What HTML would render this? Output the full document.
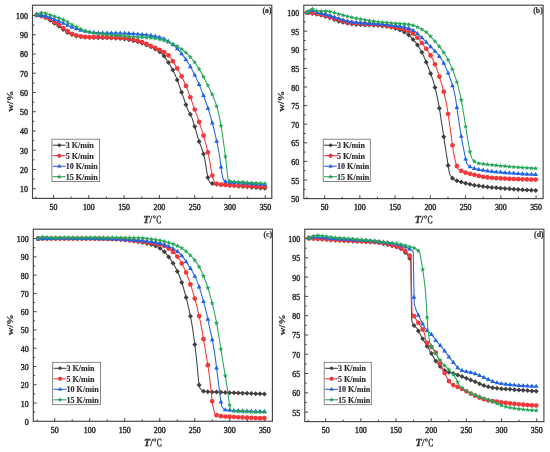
<!DOCTYPE html>
<html lang="en">
<head>
<meta charset="utf-8">
<title>TG curves</title>
<style>
html,body{margin:0;padding:0;background:#fff;}
body{width:550px;height:452px;overflow:hidden;font-family:"Liberation Serif", "Noto Serif CJK SC", serif;}
svg{display:block;filter:blur(0.45px);}
</style>
</head>
<body>
<svg width="550" height="452" viewBox="0 0 550 452" font-family='"Liberation Serif", "Noto Serif CJK SC", serif'>
<rect width="550" height="452" fill="#fff"/>
<g id="panel-a">
<rect x="32.5" y="5.2" width="239.3" height="193.2" fill="#fff" stroke="#444444" stroke-width="1.15"/>
<path d="M53.5 198.4v-3.3M88.8 198.4v-3.3M124.1 198.4v-3.3M159.4 198.4v-3.3M194.7 198.4v-3.3M230 198.4v-3.3M265.3 198.4v-3.3M35.85 198.4v-1.9M71.15 198.4v-1.9M106.45 198.4v-1.9M141.75 198.4v-1.9M177.05 198.4v-1.9M212.35 198.4v-1.9M247.65 198.4v-1.9M32.5 188.7h3.3M32.5 169.46h3.3M32.5 150.21h3.3M32.5 130.97h3.3M32.5 111.72h3.3M32.5 92.48h3.3M32.5 73.23h3.3M32.5 53.99h3.3M32.5 34.74h3.3M32.5 15.5h3.3M32.5 179.08h1.9M32.5 159.83h1.9M32.5 140.59h1.9M32.5 121.34h1.9M32.5 102.1h1.9M32.5 82.86h1.9M32.5 63.61h1.9M32.5 44.37h1.9M32.5 25.12h1.9" stroke="#444444" stroke-width="1" fill="none"/>
<g font-size="7.9" fill="#2e2e2e" stroke="#2e2e2e" stroke-width="0.42">
<text x="53.5" y="210" text-anchor="middle">50</text>
<text x="88.8" y="210" text-anchor="middle">100</text>
<text x="124.1" y="210" text-anchor="middle">150</text>
<text x="159.4" y="210" text-anchor="middle">200</text>
<text x="194.7" y="210" text-anchor="middle">250</text>
<text x="230" y="210" text-anchor="middle">300</text>
<text x="265.3" y="210" text-anchor="middle">350</text>
<text x="27.9" y="192.2" text-anchor="end">10</text>
<text x="27.9" y="172.96" text-anchor="end">20</text>
<text x="27.9" y="153.71" text-anchor="end">30</text>
<text x="27.9" y="134.47" text-anchor="end">40</text>
<text x="27.9" y="115.22" text-anchor="end">50</text>
<text x="27.9" y="95.98" text-anchor="end">60</text>
<text x="27.9" y="76.73" text-anchor="end">70</text>
<text x="27.9" y="57.49" text-anchor="end">80</text>
<text x="27.9" y="38.24" text-anchor="end">90</text>
<text x="27.9" y="19" text-anchor="end">100</text>
</g>
<text x="152.55" y="223.2" font-size="9.6" fill="#2e2e2e" text-anchor="middle"><tspan font-weight="bold" font-style="italic" font-size="10" stroke="#2e2e2e" stroke-width="0.3">T</tspan><tspan stroke="#2e2e2e" stroke-width="0.3">/℃</tspan></text>
<text transform="translate(12.5 101.2) rotate(-90) scale(1.15 1)" font-size="9.2" font-weight="bold" fill="#2e2e2e" stroke="#2e2e2e" stroke-width="0.2" text-anchor="middle">w/%</text>
<text x="271.5" y="13.1" font-size="7.8" font-weight="bold" fill="#2e2e2e" stroke="#2e2e2e" stroke-width="0.2" text-anchor="end">(a)</text>
<path d="M36.84 14.92L37.54 15.07L38.25 15.23L38.96 15.41L39.66 15.61L40.37 15.83L41.07 16.06L41.78 16.3L42.49 16.56L43.19 16.83L43.9 17.11L44.6 17.4L45.31 17.7L46.02 18.01L46.44 18.19L46.72 18.32L47.43 18.67L48.13 19.05L48.84 19.46L49.55 19.89L50.25 20.35L50.96 20.82L51.66 21.31L52.37 21.81L53.08 22.32L53.78 22.83L54.49 23.34L55.19 23.84L55.9 24.34L56.61 24.83L57.03 25.12L57.31 25.31L58.02 25.8L58.72 26.31L59.43 26.82L60.14 27.34L60.84 27.87L61.55 28.4L62.25 28.92L62.96 29.44L63.67 29.94L64.37 30.44L65.08 30.91L65.78 31.37L66.49 31.8L67.2 32.21L67.62 32.44L67.9 32.58L68.61 32.96L69.31 33.32L70.02 33.68L70.73 34.03L71.43 34.36L72.14 34.67L72.84 34.95L73.55 35.2L74.26 35.41L74.68 35.51L74.96 35.58L75.67 35.74L76.37 35.9L77.08 36.05L77.79 36.2L78.49 36.34L79.2 36.48L79.9 36.61L80.61 36.73L81.32 36.84L82.02 36.95L82.73 37.05L83.43 37.13L84.14 37.21L84.85 37.28L85.55 37.34L86.26 37.39L86.96 37.42L87.39 37.44L87.67 37.45L88.38 37.47L89.08 37.49L89.79 37.51L90.49 37.52L91.2 37.54L91.91 37.55L92.61 37.57L93.32 37.58L94.02 37.59L94.73 37.6L95.44 37.61L96.14 37.61L96.85 37.62L97.55 37.63L98.26 37.64L98.97 37.64L99.67 37.65L100.38 37.66L101.08 37.66L101.79 37.67L102.5 37.68L103.2 37.69L103.91 37.7L104.61 37.71L105.32 37.72L106.03 37.73L106.73 37.74L107.44 37.76L108.14 37.77L108.85 37.79L109.56 37.81L109.98 37.82L110.26 37.83L110.97 37.86L111.67 37.89L112.38 37.92L113.09 37.96L113.79 38L114.5 38.05L115.2 38.1L115.91 38.15L116.62 38.21L117.32 38.27L118.03 38.34L118.73 38.4L119.44 38.47L120.15 38.54L120.85 38.62L121.56 38.69L122.26 38.77L122.97 38.85L123.68 38.93L124.1 38.98L124.38 39.01L125.09 39.1L125.79 39.2L126.5 39.3L127.21 39.41L127.91 39.53L128.62 39.65L129.32 39.79L130.03 39.92L130.74 40.06L131.44 40.21L132.15 40.36L132.85 40.52L133.56 40.69L134.27 40.85L134.97 41.02L135.68 41.2L136.38 41.38L137.09 41.56L137.51 41.67L137.8 41.75L138.5 41.95L139.21 42.16L139.91 42.38L140.62 42.61L141.33 42.85L142.03 43.1L142.74 43.36L143.44 43.63L144.15 43.91L144.86 44.2L145.56 44.49L146.27 44.79L146.97 45.09L147.68 45.4L148.39 45.72L148.81 45.91L149.09 46.03L149.8 46.35L150.5 46.67L151.21 47L151.92 47.33L152.62 47.66L153.33 48.01L154.03 48.36L154.74 48.73L155.45 49.11L156.15 49.51L156.86 49.93L157.56 50.36L158.27 50.82L158.98 51.3L159.68 51.81L160.39 52.35L161.09 52.91L161.24 53.03L161.8 53.53L162.51 54.25L163.21 55.06L163.92 55.94L164.62 56.89L165.33 57.89L166.04 58.92L166.74 59.98L167.45 61.05L167.87 61.69L168.15 62.12L168.86 63.21L169.57 64.34L170.27 65.51L170.98 66.72L171.68 67.97L172.39 69.28L173.1 70.63L173.8 72.03L174.51 73.49L174.93 74.39L175.21 75.01L175.92 76.65L176.63 78.41L177.33 80.26L178.04 82.19L178.74 84.18L179.45 86.2L180.16 88.23L180.86 90.26L181.57 92.26L182.27 94.21L182.35 94.4L182.98 96.16L183.69 98.18L184.39 100.24L185.1 102.29L185.8 104.31L186.51 106.26L187.22 108.11L187.92 109.82L188.35 110.76L188.63 111.34L189.33 112.61L190.04 113.79L190.75 115.07L191.17 115.96L191.45 116.61L192.16 118.43L192.86 120.47L193.57 122.69L194.28 125.04L194.98 127.49L195.69 129.98L196.39 132.48L197.1 134.95L197.81 137.33L198.51 139.6L198.58 139.82L199.22 141.7L199.92 143.66L200.63 145.55L201.34 147.43L202.04 149.38L202.75 151.46L203.45 153.74L204.16 156.29L204.23 156.56L204.87 159.56L205.57 163.79L206.28 168.43L206.98 172.93L207.69 176.74L208.4 179.3L208.47 179.46L209.1 180.79L209.81 182L210.51 182.84L210.94 183.12L211.22 183.24L211.93 183.5L212.63 183.7L213.34 183.87L214.04 184.01L214.75 184.12L215.46 184.22L215.88 184.27L216.16 184.31L216.87 184.4L217.57 184.48L218.28 184.55L218.99 184.62L219.69 184.69L220.4 184.75L221.1 184.8L221.81 184.86L222.52 184.91L223.22 184.96L223.93 185.01L224.63 185.05L225.34 185.1L226.05 185.14L226.75 185.19L227.46 185.24L228.16 185.29L228.87 185.34L229.58 185.39L230 185.43L230.28 185.45L230.99 185.51L231.69 185.57L232.4 185.62L233.11 185.68L233.81 185.74L234.52 185.8L235.22 185.86L235.93 185.91L236.64 185.97L237.34 186.03L238.05 186.09L238.75 186.14L239.46 186.2L240.17 186.26L240.87 186.32L241.58 186.38L242.28 186.43L242.99 186.49L243.7 186.55L244.4 186.61L245.11 186.66L245.81 186.72L246.52 186.78L247.23 186.84L247.93 186.89L248.64 186.95L249.34 187.01L250.05 187.07L250.76 187.13L251.18 187.16L251.46 187.18L252.17 187.24L252.87 187.3L253.58 187.36L254.29 187.41L254.99 187.47L255.7 187.53L256.4 187.59L257.11 187.65L257.82 187.7L258.52 187.76L259.23 187.82L259.93 187.88L260.64 187.93L261.35 187.99L262.05 188.05L262.76 188.11L263.46 188.17L264.17 188.22L264.88 188.28" fill="none" stroke="#404040" stroke-width="1.05" stroke-linejoin="round"/>
<path d="M264.88 185.78L267.38 188.28L264.88 190.78L262.38 188.28Z" fill="#404040"/><path d="M260.49 185.42L262.99 187.92L260.49 190.42L257.99 187.92Z" fill="#404040"/><path d="M256.11 185.06L258.61 187.56L256.11 190.06L253.61 187.56Z" fill="#404040"/><path d="M251.72 184.7L254.22 187.2L251.72 189.7L249.22 187.2Z" fill="#404040"/><path d="M247.34 184.35L249.84 186.85L247.34 189.35L244.84 186.85Z" fill="#404040"/><path d="M242.96 183.99L245.46 186.49L242.96 188.99L240.46 186.49Z" fill="#404040"/><path d="M238.57 183.63L241.07 186.13L238.57 188.63L236.07 186.13Z" fill="#404040"/><path d="M234.19 183.27L236.69 185.77L234.19 188.27L231.69 185.77Z" fill="#404040"/><path d="M229.8 182.91L232.3 185.41L229.8 187.91L227.3 185.41Z" fill="#404040"/><path d="M225.42 182.6L227.92 185.1L225.42 187.6L222.92 185.1Z" fill="#404040"/><path d="M221.03 182.3L223.53 184.8L221.03 187.3L218.53 184.8Z" fill="#404040"/><path d="M216.65 181.87L219.15 184.37L216.65 186.87L214.15 184.37Z" fill="#404040"/><path d="M212.27 181.1L214.77 183.6L212.27 186.1L209.77 183.6Z" fill="#404040"/><path d="M207.88 175.08L210.38 177.58L207.88 180.08L205.38 177.58Z" fill="#404040"/><path d="M203.5 151.38L206 153.88L203.5 156.38L201 153.88Z" fill="#404040"/><path d="M199.11 138.9L201.61 141.4L199.11 143.9L196.61 141.4Z" fill="#404040"/><path d="M194.73 124.1L197.23 126.6L194.73 129.1L192.23 126.6Z" fill="#404040"/><path d="M190.34 111.82L192.84 114.32L190.34 116.82L187.84 114.32Z" fill="#404040"/><path d="M185.96 102.25L188.46 104.75L185.96 107.25L183.46 104.75Z" fill="#404040"/><path d="M181.58 89.78L184.08 92.28L181.58 94.78L179.08 92.28Z" fill="#404040"/><path d="M177.19 77.39L179.69 79.89L177.19 82.39L174.69 79.89Z" fill="#404040"/><path d="M172.81 67.57L175.31 70.07L172.81 72.57L170.31 70.07Z" fill="#404040"/><path d="M168.42 60.03L170.92 62.53L168.42 65.03L165.92 62.53Z" fill="#404040"/><path d="M164.04 53.6L166.54 56.1L164.04 58.6L161.54 56.1Z" fill="#404040"/><path d="M159.65 49.29L162.15 51.79L159.65 54.29L157.15 51.79Z" fill="#404040"/><path d="M155.27 46.51L157.77 49.01L155.27 51.51L152.77 49.01Z" fill="#404040"/><path d="M150.89 44.35L153.39 46.85L150.89 49.35L148.39 46.85Z" fill="#404040"/><path d="M146.5 42.39L149 44.89L146.5 47.39L144 44.89Z" fill="#404040"/><path d="M142.12 40.63L144.62 43.13L142.12 45.63L139.62 43.13Z" fill="#404040"/><path d="M137.73 39.23L140.23 41.73L137.73 44.23L135.23 41.73Z" fill="#404040"/><path d="M133.35 38.14L135.85 40.64L133.35 43.14L130.85 40.64Z" fill="#404040"/><path d="M128.96 37.22L131.46 39.72L128.96 42.22L126.46 39.72Z" fill="#404040"/><path d="M124.58 36.54L127.08 39.04L124.58 41.54L122.08 39.04Z" fill="#404040"/><path d="M120.2 36.05L122.7 38.55L120.2 41.05L117.7 38.55Z" fill="#404040"/><path d="M115.81 35.65L118.31 38.15L115.81 40.65L113.31 38.15Z" fill="#404040"/><path d="M111.43 35.38L113.93 37.88L111.43 40.38L108.93 37.88Z" fill="#404040"/><path d="M107.04 35.25L109.54 37.75L107.04 40.25L104.54 37.75Z" fill="#404040"/><path d="M102.66 35.18L105.16 37.68L102.66 40.18L100.16 37.68Z" fill="#404040"/><path d="M98.27 35.14L100.77 37.64L98.27 40.14L95.77 37.64Z" fill="#404040"/><path d="M93.89 35.09L96.39 37.59L93.89 40.09L91.39 37.59Z" fill="#404040"/><path d="M89.51 35L92.01 37.5L89.51 40L87.01 37.5Z" fill="#404040"/><path d="M85.12 34.8L87.62 37.3L85.12 39.8L82.62 37.3Z" fill="#404040"/><path d="M80.74 34.25L83.24 36.75L80.74 39.25L78.24 36.75Z" fill="#404040"/><path d="M76.35 33.4L78.85 35.9L76.35 38.4L73.85 35.9Z" fill="#404040"/><path d="M71.97 32.1L74.47 34.6L71.97 37.1L69.47 34.6Z" fill="#404040"/><path d="M67.58 29.92L70.08 32.42L67.58 34.92L65.08 32.42Z" fill="#404040"/><path d="M63.2 27.11L65.7 29.61L63.2 32.11L60.7 29.61Z" fill="#404040"/><path d="M58.82 23.87L61.32 26.37L58.82 28.87L56.32 26.37Z" fill="#404040"/><path d="M54.43 20.8L56.93 23.3L54.43 25.8L51.93 23.3Z" fill="#404040"/><path d="M50.05 17.71L52.55 20.21L50.05 22.71L47.55 20.21Z" fill="#404040"/><path d="M45.66 15.35L48.16 17.85L45.66 20.35L43.16 17.85Z" fill="#404040"/><path d="M41.28 13.63L43.78 16.13L41.28 18.63L38.78 16.13Z" fill="#404040"/><path d="M36.89 12.43L39.39 14.93L36.89 17.43L34.39 14.93Z" fill="#404040"/><path d="M36.84 12.42L39.34 14.92L36.84 17.42L34.34 14.92Z" fill="#404040"/>
<path d="M36.84 14.92L37.54 15.01L38.25 15.12L38.96 15.24L39.66 15.39L40.37 15.55L41.07 15.72L41.78 15.91L42.49 16.12L43.19 16.33L43.9 16.55L44.6 16.79L45.31 17.03L46.02 17.27L46.44 17.42L46.72 17.53L47.43 17.81L48.13 18.13L48.84 18.47L49.55 18.85L50.25 19.24L50.96 19.66L51.66 20.09L52.37 20.53L53.08 20.99L53.78 21.45L54.49 21.92L55.19 22.38L55.9 22.85L56.61 23.31L57.03 23.58L57.31 23.76L58.02 24.23L58.72 24.72L59.43 25.22L60.14 25.74L60.84 26.26L61.55 26.79L62.25 27.32L62.96 27.85L63.67 28.37L64.37 28.89L65.08 29.4L65.78 29.89L66.49 30.37L67.2 30.82L67.62 31.09L67.9 31.26L68.61 31.71L69.31 32.16L70.02 32.61L70.73 33.06L71.43 33.48L72.14 33.88L72.84 34.24L73.55 34.55L74.26 34.81L74.68 34.94L74.96 35.01L75.67 35.2L76.37 35.38L77.08 35.55L77.79 35.72L78.49 35.88L79.2 36.04L79.9 36.18L80.61 36.32L81.32 36.44L82.02 36.56L82.73 36.67L83.43 36.76L84.14 36.84L84.85 36.91L85.55 36.97L86.26 37.01L86.96 37.04L87.39 37.05L87.67 37.06L88.38 37.07L89.08 37.08L89.79 37.09L90.49 37.1L91.2 37.11L91.91 37.11L92.61 37.12L93.32 37.13L94.02 37.13L94.73 37.14L95.44 37.14L96.14 37.14L96.85 37.15L97.55 37.15L98.26 37.15L98.97 37.16L99.67 37.16L100.38 37.16L101.08 37.17L101.79 37.17L102.5 37.17L103.2 37.18L103.91 37.18L104.61 37.19L105.32 37.19L106.03 37.2L106.73 37.21L107.44 37.21L108.14 37.22L108.85 37.23L109.56 37.24L109.98 37.25L110.26 37.25L110.97 37.26L111.67 37.28L112.38 37.3L113.09 37.33L113.79 37.35L114.5 37.38L115.2 37.41L115.91 37.45L116.62 37.49L117.32 37.53L118.03 37.57L118.73 37.61L119.44 37.66L120.15 37.71L120.85 37.76L121.56 37.81L122.26 37.87L122.97 37.92L123.68 37.98L124.1 38.02L124.38 38.04L125.09 38.11L125.79 38.19L126.5 38.27L127.21 38.37L127.91 38.47L128.62 38.59L129.32 38.71L130.03 38.83L130.74 38.97L131.44 39.11L132.15 39.25L132.85 39.4L133.56 39.56L134.27 39.72L134.97 39.89L135.68 40.06L136.38 40.23L137.09 40.41L137.51 40.52L137.8 40.59L138.5 40.79L139.21 41L139.91 41.23L140.62 41.48L141.33 41.74L142.03 42.01L142.74 42.29L143.44 42.58L144.15 42.88L144.86 43.19L145.56 43.51L146.27 43.83L146.97 44.16L147.68 44.49L148.39 44.82L149.09 45.16L149.8 45.49L150.5 45.82L151.21 46.15L151.92 46.48L152.34 46.68L152.62 46.8L153.33 47.12L154.03 47.42L154.74 47.72L155.45 48.02L156.15 48.31L156.86 48.6L157.56 48.9L158.27 49.2L158.98 49.5L159.68 49.82L160.39 50.14L161.09 50.48L161.8 50.83L162.51 51.2L163.21 51.58L163.92 51.99L164.62 52.42L165.33 52.87L166.04 53.35L166.74 53.86L167.17 54.18L167.45 54.41L168.15 55.04L168.86 55.77L169.57 56.59L170.27 57.48L170.98 58.44L171.68 59.46L172.39 60.52L173.1 61.62L173.8 62.74L174.51 63.89L175.21 65.04L175.92 66.2L176.34 66.88L176.63 67.34L177.33 68.52L178.04 69.73L178.74 70.99L179.45 72.28L180.16 73.6L180.86 74.97L181.57 76.37L182.27 77.8L182.98 79.27L183.69 80.77L184.39 82.3L184.82 83.24L185.1 83.87L185.8 85.51L186.51 87.21L187.22 88.97L187.92 90.78L188.63 92.63L189.33 94.52L190.04 96.45L190.75 98.39L191.45 100.36L192.16 102.33L192.86 104.31L193.57 106.28L194.28 108.24L194.7 109.41L194.98 110.19L195.69 112.14L196.39 114.1L197.1 116.08L197.81 118.09L198.51 120.12L199.22 122.2L199.64 123.46L199.92 124.31L200.63 126.44L201.34 128.6L202.04 130.81L202.75 133.07L203.45 135.41L204.16 137.84L204.23 138.09L204.87 140.37L205.57 143L206.28 145.72L206.98 148.55L207.69 151.48L208.4 154.52L208.47 154.83L209.1 157.9L209.81 161.81L210.51 165.96L211.22 170.08L211.93 173.9L212.63 177.13L213.34 179.5L213.48 179.85L214.04 181.11L214.75 182.49L215.46 183.44L215.88 183.7L216.16 183.78L216.87 183.95L217.57 184.1L218.28 184.21L218.99 184.31L219.69 184.39L220.4 184.46L221.1 184.52L221.81 184.57L222.52 184.62L222.94 184.66L223.22 184.68L223.93 184.74L224.63 184.79L225.34 184.85L226.05 184.9L226.75 184.94L227.46 184.99L228.16 185.04L228.87 185.08L229.58 185.12L230.28 185.16L230.99 185.2L231.69 185.23L232.4 185.27L233.11 185.31L233.81 185.34L234.52 185.37L235.22 185.41L235.93 185.44L236.64 185.47L237.34 185.5L238.05 185.53L238.75 185.57L239.46 185.6L240.17 185.63L240.87 185.66L241.58 185.69L242.28 185.73L242.99 185.76L243.7 185.79L244.12 185.81L244.4 185.83L245.11 185.86L245.81 185.9L246.52 185.93L247.23 185.97L247.93 186L248.64 186.03L249.34 186.07L250.05 186.1L250.76 186.13L251.46 186.17L252.17 186.2L252.87 186.23L253.58 186.27L254.29 186.3L254.99 186.33L255.7 186.36L256.4 186.39L257.11 186.43L257.82 186.46L258.52 186.49L259.23 186.52L259.93 186.55L260.64 186.58L261.35 186.61L262.05 186.64L262.76 186.67L263.46 186.7L264.17 186.73L264.88 186.76" fill="none" stroke="#f2373a" stroke-width="1.05" stroke-linejoin="round"/>
<circle cx="264.88" cy="186.76" r="2.35" fill="#f2373a"/><circle cx="260.49" cy="186.57" r="2.35" fill="#f2373a"/><circle cx="256.11" cy="186.38" r="2.35" fill="#f2373a"/><circle cx="251.72" cy="186.18" r="2.35" fill="#f2373a"/><circle cx="247.34" cy="185.97" r="2.35" fill="#f2373a"/><circle cx="242.96" cy="185.76" r="2.35" fill="#f2373a"/><circle cx="238.57" cy="185.56" r="2.35" fill="#f2373a"/><circle cx="234.19" cy="185.36" r="2.35" fill="#f2373a"/><circle cx="229.8" cy="185.13" r="2.35" fill="#f2373a"/><circle cx="225.42" cy="184.85" r="2.35" fill="#f2373a"/><circle cx="221.03" cy="184.51" r="2.35" fill="#f2373a"/><circle cx="216.65" cy="183.9" r="2.35" fill="#f2373a"/><circle cx="212.27" cy="175.54" r="2.35" fill="#f2373a"/><circle cx="207.88" cy="152.29" r="2.35" fill="#f2373a"/><circle cx="203.5" cy="135.55" r="2.35" fill="#f2373a"/><circle cx="199.11" cy="121.88" r="2.35" fill="#f2373a"/><circle cx="194.73" cy="109.49" r="2.35" fill="#f2373a"/><circle cx="190.34" cy="97.28" r="2.35" fill="#f2373a"/><circle cx="185.96" cy="85.88" r="2.35" fill="#f2373a"/><circle cx="181.58" cy="76.38" r="2.35" fill="#f2373a"/><circle cx="177.19" cy="68.28" r="2.35" fill="#f2373a"/><circle cx="172.81" cy="61.16" r="2.35" fill="#f2373a"/><circle cx="168.42" cy="55.31" r="2.35" fill="#f2373a"/><circle cx="164.04" cy="52.06" r="2.35" fill="#f2373a"/><circle cx="159.65" cy="49.8" r="2.35" fill="#f2373a"/><circle cx="155.27" cy="47.94" r="2.35" fill="#f2373a"/><circle cx="150.89" cy="46" r="2.35" fill="#f2373a"/><circle cx="146.5" cy="43.94" r="2.35" fill="#f2373a"/><circle cx="142.12" cy="42.04" r="2.35" fill="#f2373a"/><circle cx="137.73" cy="40.57" r="2.35" fill="#f2373a"/><circle cx="133.35" cy="39.51" r="2.35" fill="#f2373a"/><circle cx="128.96" cy="38.64" r="2.35" fill="#f2373a"/><circle cx="124.58" cy="38.06" r="2.35" fill="#f2373a"/><circle cx="120.2" cy="37.71" r="2.35" fill="#f2373a"/><circle cx="115.81" cy="37.44" r="2.35" fill="#f2373a"/><circle cx="111.43" cy="37.28" r="2.35" fill="#f2373a"/><circle cx="107.04" cy="37.21" r="2.35" fill="#f2373a"/><circle cx="102.66" cy="37.17" r="2.35" fill="#f2373a"/><circle cx="98.27" cy="37.15" r="2.35" fill="#f2373a"/><circle cx="93.89" cy="37.13" r="2.35" fill="#f2373a"/><circle cx="89.51" cy="37.09" r="2.35" fill="#f2373a"/><circle cx="85.12" cy="36.94" r="2.35" fill="#f2373a"/><circle cx="80.74" cy="36.34" r="2.35" fill="#f2373a"/><circle cx="76.35" cy="35.37" r="2.35" fill="#f2373a"/><circle cx="71.97" cy="33.79" r="2.35" fill="#f2373a"/><circle cx="67.58" cy="31.07" r="2.35" fill="#f2373a"/><circle cx="63.2" cy="28.03" r="2.35" fill="#f2373a"/><circle cx="58.82" cy="24.79" r="2.35" fill="#f2373a"/><circle cx="54.43" cy="21.88" r="2.35" fill="#f2373a"/><circle cx="50.05" cy="19.12" r="2.35" fill="#f2373a"/><circle cx="45.66" cy="17.15" r="2.35" fill="#f2373a"/><circle cx="41.28" cy="15.78" r="2.35" fill="#f2373a"/><circle cx="36.89" cy="14.93" r="2.35" fill="#f2373a"/><circle cx="36.84" cy="14.92" r="2.35" fill="#f2373a"/>
<path d="M36.84 14.92L37.54 14.93L38.25 14.97L38.96 15.02L39.66 15.08L40.37 15.16L41.07 15.26L41.78 15.37L42.49 15.49L43.19 15.61L43.9 15.75L44.6 15.89L45.31 16.03L46.02 16.18L46.44 16.27L46.72 16.33L47.43 16.52L48.13 16.74L48.84 17L49.55 17.28L50.25 17.57L50.96 17.88L51.66 18.19L52.37 18.49L53.08 18.79L53.5 18.96L53.78 19.08L54.49 19.36L55.19 19.65L55.9 19.94L56.61 20.23L57.31 20.52L58.02 20.82L58.72 21.12L59.43 21.42L60.14 21.72L60.84 22.02L61.55 22.32L62.25 22.63L62.68 22.81L62.96 22.94L63.67 23.25L64.37 23.58L65.08 23.91L65.78 24.25L66.49 24.59L67.2 24.94L67.9 25.28L68.61 25.62L69.31 25.96L70.02 26.29L70.73 26.62L71.43 26.93L72.14 27.24L72.84 27.53L73.55 27.8L74.26 28.06L74.68 28.2L74.96 28.3L75.67 28.53L76.37 28.76L77.08 28.99L77.79 29.21L78.49 29.44L79.2 29.65L79.9 29.86L80.61 30.07L81.32 30.27L82.02 30.46L82.73 30.64L83.43 30.81L84.14 30.98L84.85 31.13L85.55 31.28L86.26 31.41L86.96 31.53L87.67 31.64L87.81 31.67L88.38 31.75L89.08 31.84L89.79 31.94L90.49 32.04L91.2 32.13L91.91 32.21L92.61 32.3L93.32 32.38L94.02 32.45L94.73 32.52L95.44 32.58L96.14 32.64L96.85 32.69L97.55 32.74L98.26 32.78L98.97 32.81L99.39 32.82L99.67 32.83L100.38 32.85L101.08 32.87L101.79 32.88L102.5 32.9L103.2 32.91L103.91 32.93L104.61 32.94L105.32 32.95L106.03 32.96L106.73 32.97L107.44 32.98L108.14 32.99L108.85 32.99L109.56 33L110.26 33.01L110.97 33.02L111.67 33.02L112.38 33.03L113.09 33.04L113.79 33.04L114.5 33.05L115.2 33.06L115.91 33.06L116.62 33.07L117.32 33.08L118.03 33.09L118.73 33.1L119.44 33.11L120.15 33.12L120.85 33.13L121.56 33.15L122.26 33.16L122.97 33.18L123.68 33.19L124.1 33.2L124.38 33.21L125.09 33.23L125.79 33.26L126.5 33.28L127.21 33.31L127.91 33.35L128.62 33.38L129.32 33.42L130.03 33.46L130.74 33.5L131.44 33.54L132.15 33.59L132.85 33.64L133.56 33.69L134.27 33.74L134.97 33.79L135.68 33.85L136.38 33.9L137.09 33.96L137.8 34.02L138.5 34.08L139.21 34.14L139.91 34.2L140.62 34.26L141.33 34.32L141.75 34.36L142.03 34.38L142.74 34.45L143.44 34.52L144.15 34.59L144.86 34.67L145.56 34.75L146.27 34.84L146.97 34.92L147.68 35.01L148.39 35.11L149.09 35.21L149.8 35.31L150.5 35.42L151.21 35.52L151.92 35.64L152.34 35.71L152.62 35.75L153.33 35.87L154.03 36L154.74 36.13L155.45 36.26L156.15 36.41L156.86 36.56L157.56 36.71L158.27 36.88L158.98 37.06L159.68 37.24L160.39 37.44L161.09 37.65L161.8 37.88L162.22 38.02L162.51 38.11L163.21 38.39L163.92 38.69L164.62 39.03L165.33 39.4L166.04 39.79L166.74 40.22L167.45 40.66L168.15 41.12L168.86 41.6L169.57 42.1L170.27 42.61L170.98 43.13L171.68 43.66L172.11 43.98L172.39 44.2L173.1 44.77L173.8 45.37L174.51 46.01L175.21 46.68L175.92 47.38L176.63 48.1L177.33 48.84L178.04 49.61L178.74 50.39L179.45 51.19L179.87 51.68L180.16 52.01L180.86 52.84L181.57 53.7L182.27 54.59L182.98 55.5L183.69 56.43L184.39 57.39L185.1 58.37L185.8 59.39L186.51 60.42L187.22 61.49L187.92 62.58L188.63 63.69L189.33 64.84L189.76 65.54L190.04 66.01L190.75 67.22L191.45 68.48L192.16 69.78L192.86 71.12L193.57 72.5L194.28 73.91L194.98 75.37L195.69 76.85L196.39 78.37L197.1 79.92L197.81 81.5L198.51 83.11L199.22 84.75L199.64 85.74L199.92 86.41L200.63 88.11L201.34 89.86L202.04 91.65L202.75 93.48L203.45 95.35L204.16 97.26L204.87 99.22L205.57 101.23L206.28 103.27L206.98 105.36L207.69 107.5L208.4 109.68L209.1 111.91L209.53 113.26L209.81 114.18L210.51 116.55L211.22 119.02L211.93 121.59L212.63 124.25L213.34 126.99L214.04 129.82L214.19 130.39L214.75 132.72L215.46 135.72L216.16 138.83L216.87 142.04L217.57 145.38L218.28 148.84L218.7 150.98L218.99 152.52L219.69 157.04L220.4 162.14L221.1 167.36L221.81 172.22L222.52 176.27L223.22 179.01L223.65 179.85L223.93 180.16L224.63 180.83L225.34 181.34L226.05 181.67L226.47 181.77L226.75 181.82L227.46 181.91L228.16 181.99L228.87 182.06L229.58 182.11L230.28 182.16L230.99 182.2L231.69 182.24L232.4 182.28L233.11 182.32L233.53 182.35L233.81 182.37L234.52 182.42L235.22 182.47L235.93 182.52L236.64 182.57L237.34 182.62L238.05 182.66L238.75 182.71L239.46 182.76L240.17 182.8L240.87 182.85L241.58 182.89L242.28 182.94L242.99 182.98L243.7 183.03L244.4 183.07L245.11 183.11L245.81 183.16L246.52 183.2L247.23 183.25L247.93 183.29L248.64 183.34L249.34 183.38L250.05 183.43L250.76 183.48L251.18 183.5L251.46 183.52L252.17 183.57L252.87 183.62L253.58 183.66L254.29 183.71L254.99 183.76L255.7 183.81L256.4 183.86L257.11 183.9L257.82 183.95L258.52 184L259.23 184.05L259.93 184.1L260.64 184.14L261.35 184.19L262.05 184.24L262.76 184.29L263.46 184.34L264.17 184.39L264.88 184.44" fill="none" stroke="#1f63e8" stroke-width="1.05" stroke-linejoin="round"/>
<path d="M264.88 181.84L267.27 186.05L262.48 186.05Z" fill="#1f63e8"/><path d="M260.49 181.53L262.88 185.75L258.1 185.75Z" fill="#1f63e8"/><path d="M256.11 181.24L258.5 185.45L253.72 185.45Z" fill="#1f63e8"/><path d="M251.72 180.94L254.12 185.15L249.33 185.15Z" fill="#1f63e8"/><path d="M247.34 180.66L249.73 184.87L244.95 184.87Z" fill="#1f63e8"/><path d="M242.96 180.38L245.35 184.59L240.56 184.59Z" fill="#1f63e8"/><path d="M238.57 180.1L240.96 184.31L236.18 184.31Z" fill="#1f63e8"/><path d="M234.19 179.8L236.58 184.01L231.79 184.01Z" fill="#1f63e8"/><path d="M229.8 179.53L232.19 183.74L227.41 183.74Z" fill="#1f63e8"/><path d="M225.42 178.78L227.81 182.99L223.03 182.99Z" fill="#1f63e8"/><path d="M221.03 164.24L223.43 168.46L218.64 168.46Z" fill="#1f63e8"/><path d="M216.65 138.43L219.04 142.64L214.26 142.64Z" fill="#1f63e8"/><path d="M212.27 120.26L214.66 124.47L209.87 124.47Z" fill="#1f63e8"/><path d="M207.88 105.48L210.27 109.7L205.49 109.7Z" fill="#1f63e8"/><path d="M203.5 92.86L205.89 97.07L201.1 97.07Z" fill="#1f63e8"/><path d="M199.11 81.9L201.5 86.11L196.72 86.11Z" fill="#1f63e8"/><path d="M194.73 72.24L197.12 76.45L192.34 76.45Z" fill="#1f63e8"/><path d="M190.34 63.93L192.74 68.14L187.95 68.14Z" fill="#1f63e8"/><path d="M185.96 57.01L188.35 61.22L183.57 61.22Z" fill="#1f63e8"/><path d="M181.58 51.11L183.97 55.32L179.18 55.32Z" fill="#1f63e8"/><path d="M177.19 46.09L179.58 50.3L174.8 50.3Z" fill="#1f63e8"/><path d="M172.81 41.93L175.2 46.14L170.41 46.14Z" fill="#1f63e8"/><path d="M168.42 38.7L170.81 42.92L166.03 42.92Z" fill="#1f63e8"/><path d="M164.04 36.15L166.43 40.36L161.65 40.36Z" fill="#1f63e8"/><path d="M159.65 34.64L162.05 38.85L157.26 38.85Z" fill="#1f63e8"/><path d="M155.27 33.63L157.66 37.84L152.88 37.84Z" fill="#1f63e8"/><path d="M150.89 32.87L153.28 37.09L148.49 37.09Z" fill="#1f63e8"/><path d="M146.5 32.26L148.89 36.48L144.11 36.48Z" fill="#1f63e8"/><path d="M142.12 31.79L144.51 36L139.73 36Z" fill="#1f63e8"/><path d="M137.73 31.41L140.12 35.62L135.34 35.62Z" fill="#1f63e8"/><path d="M133.35 31.07L135.74 35.29L130.96 35.29Z" fill="#1f63e8"/><path d="M128.96 30.8L131.36 35.01L126.57 35.01Z" fill="#1f63e8"/><path d="M124.58 30.62L126.97 34.83L122.19 34.83Z" fill="#1f63e8"/><path d="M120.2 30.52L122.59 34.73L117.8 34.73Z" fill="#1f63e8"/><path d="M115.81 30.46L118.2 34.68L113.42 34.68Z" fill="#1f63e8"/><path d="M111.43 30.42L113.82 34.63L109.04 34.63Z" fill="#1f63e8"/><path d="M107.04 30.37L109.44 34.59L104.65 34.59Z" fill="#1f63e8"/><path d="M102.66 30.3L105.05 34.51L100.27 34.51Z" fill="#1f63e8"/><path d="M98.27 30.18L100.67 34.39L95.88 34.39Z" fill="#1f63e8"/><path d="M93.89 29.84L96.28 34.05L91.5 34.05Z" fill="#1f63e8"/><path d="M89.51 29.3L91.9 33.52L87.11 33.52Z" fill="#1f63e8"/><path d="M85.12 28.59L87.51 32.8L82.73 32.8Z" fill="#1f63e8"/><path d="M80.74 27.5L83.13 31.72L78.35 31.72Z" fill="#1f63e8"/><path d="M76.35 26.15L78.75 30.37L73.96 30.37Z" fill="#1f63e8"/><path d="M71.97 24.56L74.36 28.78L69.58 28.78Z" fill="#1f63e8"/><path d="M67.58 22.53L69.98 26.74L65.19 26.74Z" fill="#1f63e8"/><path d="M63.2 20.44L65.59 24.65L60.81 24.65Z" fill="#1f63e8"/><path d="M58.82 18.56L61.21 22.77L56.42 22.77Z" fill="#1f63e8"/><path d="M54.43 16.74L56.82 20.95L52.04 20.95Z" fill="#1f63e8"/><path d="M50.05 14.88L52.44 19.1L47.66 19.1Z" fill="#1f63e8"/><path d="M45.66 13.51L48.06 17.72L43.27 17.72Z" fill="#1f63e8"/><path d="M41.28 12.69L43.67 16.9L38.89 16.9Z" fill="#1f63e8"/><path d="M36.89 12.32L39.29 16.53L34.5 16.53Z" fill="#1f63e8"/><path d="M36.84 12.32L39.23 16.53L34.45 16.53Z" fill="#1f63e8"/>
<path d="M36.84 14.92L37.54 14.41L38.25 13.93L38.96 13.5L39.66 13.13L40.37 12.86L41.07 12.68L41.78 12.61L42.49 12.64L43.19 12.73L43.9 12.87L44.6 13.05L45.31 13.26L46.02 13.49L46.72 13.75L47.43 14.01L48.13 14.28L48.84 14.54L49.55 14.78L49.97 14.92L50.25 15.01L50.96 15.24L51.66 15.46L52.37 15.69L53.08 15.92L53.78 16.16L54.49 16.4L55.19 16.64L55.9 16.89L56.61 17.14L57.31 17.4L58.02 17.66L58.72 17.93L59.43 18.2L60.14 18.48L60.84 18.77L61.55 19.06L62.25 19.36L62.68 19.54L62.96 19.67L63.67 19.99L64.37 20.34L65.08 20.7L65.78 21.07L66.49 21.46L67.2 21.86L67.9 22.26L68.61 22.67L69.31 23.09L70.02 23.5L70.73 23.91L71.43 24.33L72.14 24.73L72.84 25.13L73.55 25.52L74.26 25.9L74.96 26.26L75.39 26.47L75.67 26.61L76.37 26.96L77.08 27.31L77.79 27.66L78.49 28.02L79.2 28.36L79.9 28.71L80.61 29.04L81.32 29.37L82.02 29.68L82.73 29.98L83.43 30.26L84.14 30.52L84.85 30.76L85.27 30.9L85.55 30.98L86.26 31.19L86.96 31.4L87.67 31.6L88.38 31.79L89.08 31.97L89.79 32.15L90.49 32.31L91.2 32.47L91.91 32.62L92.61 32.77L93.32 32.9L94.02 33.03L94.73 33.14L95.15 33.2L95.44 33.25L96.14 33.35L96.85 33.44L97.55 33.53L98.26 33.61L98.97 33.7L99.67 33.77L100.38 33.85L101.08 33.92L101.79 33.99L102.5 34.06L103.2 34.12L103.91 34.19L104.61 34.25L105.32 34.31L106.03 34.38L106.73 34.44L107.44 34.5L108.14 34.57L108.85 34.63L109.56 34.7L109.98 34.74L110.26 34.77L110.97 34.84L111.67 34.91L112.38 34.98L113.09 35.06L113.79 35.13L114.5 35.2L115.2 35.27L115.91 35.34L116.62 35.41L117.32 35.48L118.03 35.55L118.73 35.61L119.44 35.68L120.15 35.75L120.85 35.81L121.56 35.87L122.26 35.94L122.97 36L123.68 36.06L124.1 36.09L124.38 36.11L125.09 36.17L125.79 36.23L126.5 36.28L127.21 36.33L127.91 36.39L128.62 36.44L129.32 36.49L130.03 36.54L130.74 36.59L131.44 36.64L132.15 36.69L132.85 36.74L133.56 36.79L134.27 36.83L134.97 36.88L135.68 36.93L136.38 36.98L137.09 37.02L137.51 37.05L137.8 37.07L138.5 37.12L139.21 37.16L139.91 37.2L140.62 37.24L141.33 37.28L142.03 37.32L142.74 37.36L143.44 37.39L144.15 37.43L144.86 37.47L145.56 37.51L146.27 37.55L146.97 37.59L147.68 37.64L148.39 37.69L149.09 37.74L149.8 37.79L150.5 37.85L151.21 37.91L151.92 37.97L152.34 38.02L152.62 38.05L153.33 38.13L154.03 38.22L154.74 38.33L155.45 38.44L156.15 38.57L156.86 38.7L157.56 38.84L158.27 38.99L158.98 39.15L159.68 39.31L160.39 39.48L161.09 39.66L161.8 39.84L162.51 40.02L162.93 40.13L163.21 40.21L163.92 40.41L164.62 40.62L165.33 40.85L166.04 41.08L166.74 41.33L167.45 41.59L168.15 41.86L168.86 42.15L169.57 42.44L170.27 42.74L170.98 43.05L171.68 43.37L172.39 43.7L173.1 44.04L173.8 44.38L174.51 44.73L174.93 44.94L175.21 45.09L175.92 45.47L176.63 45.86L177.33 46.28L178.04 46.71L178.74 47.16L179.45 47.63L180.16 48.11L180.86 48.61L181.57 49.13L182.27 49.66L182.98 50.2L183.69 50.76L184.11 51.1L184.39 51.33L185.1 51.93L185.8 52.54L186.51 53.18L187.22 53.84L187.92 54.53L188.63 55.23L189.33 55.97L190.04 56.72L190.75 57.51L191.45 58.31L192.16 59.15L192.86 60L193.29 60.53L193.57 60.89L194.28 61.81L194.98 62.77L195.69 63.76L196.39 64.79L197.1 65.85L197.81 66.95L198.51 68.07L199.22 69.23L199.92 70.41L200.63 71.62L201.34 72.86L202.04 74.12L202.75 75.41L203.45 76.71L204.16 78.04L204.87 79.39L205.57 80.76L206.28 82.14L206.98 83.55L207.41 84.4L207.69 84.96L208.4 86.37L209.1 87.79L209.81 89.22L210.51 90.68L211.22 92.18L211.93 93.73L212.63 95.33L213.34 97.01L214.04 98.77L214.75 100.63L215.46 102.59L216.16 104.66L216.87 106.87L217.29 108.26L217.57 109.24L218.28 112L218.99 115.15L219.69 118.61L220.4 122.31L220.82 124.62L221.1 126.21L221.81 130.5L222.52 135.16L223.22 140.11L223.93 145.27L224.63 150.55L225.34 155.88L225.76 159.06L226.05 161.39L226.75 168.32L227.46 175.05L228.16 179.36L228.38 179.85L228.87 180.38L229.58 180.94L230.28 181.28L230.71 181.39L230.99 181.43L231.69 181.53L232.4 181.62L233.11 181.7L233.81 181.77L234.52 181.84L235.22 181.89L235.93 181.94L236.64 181.98L237.34 182.02L238.05 182.05L238.75 182.09L239.46 182.12L240.17 182.15L240.87 182.18L241.58 182.21L242.28 182.24L242.99 182.28L243.7 182.32L244.12 182.35L244.4 182.37L245.11 182.42L245.81 182.46L246.52 182.51L247.23 182.56L247.93 182.61L248.64 182.65L249.34 182.7L250.05 182.75L250.76 182.79L251.46 182.84L252.17 182.88L252.87 182.93L253.58 182.97L254.29 183.02L254.99 183.06L255.7 183.11L256.4 183.15L257.11 183.2L257.82 183.24L258.52 183.29L259.23 183.33L259.93 183.37L260.64 183.42L261.35 183.46L262.05 183.5L262.76 183.55L263.46 183.59L264.17 183.63L264.88 183.67" fill="none" stroke="#25a558" stroke-width="1.05" stroke-linejoin="round"/>
<path d="M264.88 180.97L265.54 182.75L267.44 182.84L265.95 184.02L266.46 185.86L264.88 184.81L263.29 185.86L263.8 184.02L262.31 182.84L264.21 182.75Z" fill="#25a558"/><path d="M260.49 180.71L261.16 182.49L263.06 182.57L261.57 183.76L262.08 185.59L260.49 184.54L258.91 185.59L259.41 183.76L257.92 182.57L259.83 182.49Z" fill="#25a558"/><path d="M256.11 180.44L256.77 182.22L258.68 182.3L257.19 183.49L257.69 185.32L256.11 184.27L254.52 185.32L255.03 183.49L253.54 182.3L255.44 182.22Z" fill="#25a558"/><path d="M251.72 180.15L252.39 181.94L254.29 182.02L252.8 183.2L253.31 185.04L251.72 183.99L250.14 185.04L250.65 183.2L249.16 182.02L251.06 181.94Z" fill="#25a558"/><path d="M247.34 179.87L248.01 181.65L249.91 181.73L248.42 182.92L248.93 184.75L247.34 183.7L245.75 184.75L246.26 182.92L244.77 181.73L246.67 181.65Z" fill="#25a558"/><path d="M242.96 179.58L243.62 181.36L245.52 181.44L244.03 182.63L244.54 184.46L242.96 183.41L241.37 184.46L241.88 182.63L240.39 181.44L242.29 181.36Z" fill="#25a558"/><path d="M238.57 179.38L239.24 181.16L241.14 181.24L239.65 182.43L240.16 184.26L238.57 183.21L236.98 184.26L237.49 182.43L236 181.24L237.9 181.16Z" fill="#25a558"/><path d="M234.19 179.11L234.85 180.89L236.75 180.97L235.27 182.16L235.77 183.99L234.19 182.94L232.6 183.99L233.11 182.16L231.62 180.97L233.52 180.89Z" fill="#25a558"/><path d="M229.8 178.38L230.47 180.16L232.37 180.24L230.88 181.43L231.39 183.26L229.8 182.21L228.22 183.26L228.72 181.43L227.23 180.24L229.14 180.16Z" fill="#25a558"/><path d="M225.42 153.77L226.08 155.55L227.99 155.63L226.5 156.82L227.01 158.65L225.42 157.6L223.83 158.65L224.34 156.82L222.85 155.63L224.75 155.55Z" fill="#25a558"/><path d="M221.03 123.1L221.7 124.89L223.6 124.97L222.11 126.15L222.62 127.99L221.03 126.94L219.45 127.99L219.96 126.15L218.47 124.97L220.37 124.89Z" fill="#25a558"/><path d="M216.65 103.47L217.32 105.25L219.22 105.34L217.73 106.52L218.24 108.36L216.65 107.3L215.06 108.36L215.57 106.52L214.08 105.34L215.98 105.25Z" fill="#25a558"/><path d="M212.27 91.79L212.93 93.57L214.83 93.65L213.34 94.84L213.85 96.67L212.27 95.62L210.68 96.67L211.19 94.84L209.7 93.65L211.6 93.57Z" fill="#25a558"/><path d="M207.88 82.64L208.55 84.43L210.45 84.51L208.96 85.69L209.47 87.53L207.88 86.48L206.29 87.53L206.8 85.69L205.31 84.51L207.21 84.43Z" fill="#25a558"/><path d="M203.5 74.09L204.16 75.88L206.06 75.96L204.58 77.14L205.08 78.98L203.5 77.93L201.91 78.98L202.42 77.14L200.93 75.96L202.83 75.88Z" fill="#25a558"/><path d="M199.11 66.35L199.78 68.14L201.68 68.22L200.19 69.4L200.7 71.24L199.11 70.19L197.53 71.24L198.03 69.4L196.54 68.22L198.45 68.14Z" fill="#25a558"/><path d="M194.73 59.72L195.39 61.5L197.3 61.59L195.81 62.77L196.32 64.6L194.73 63.55L193.14 64.6L193.65 62.77L192.16 61.59L194.06 61.5Z" fill="#25a558"/><path d="M190.34 54.36L191.01 56.14L192.91 56.22L191.42 57.41L191.93 59.24L190.34 58.19L188.76 59.24L189.27 57.41L187.78 56.22L189.68 56.14Z" fill="#25a558"/><path d="M185.96 49.98L186.63 51.76L188.53 51.85L187.04 53.03L187.55 54.86L185.96 53.81L184.37 54.86L184.88 53.03L183.39 51.85L185.29 51.76Z" fill="#25a558"/><path d="M181.58 46.43L182.24 48.21L184.14 48.3L182.65 49.48L183.16 51.32L181.58 50.27L179.99 51.32L180.5 49.48L179.01 48.3L180.91 48.21Z" fill="#25a558"/><path d="M177.19 43.49L177.86 45.27L179.76 45.36L178.27 46.54L178.78 48.38L177.19 47.33L175.6 48.38L176.11 46.54L174.62 45.36L176.52 45.27Z" fill="#25a558"/><path d="M172.81 41.2L173.47 42.98L175.37 43.06L173.89 44.25L174.39 46.08L172.81 45.03L171.22 46.08L171.73 44.25L170.24 43.06L172.14 42.98Z" fill="#25a558"/><path d="M168.42 39.27L169.09 41.05L170.99 41.14L169.5 42.32L170.01 44.15L168.42 43.1L166.84 44.15L167.34 42.32L165.85 41.14L167.76 41.05Z" fill="#25a558"/><path d="M164.04 37.74L164.7 39.53L166.61 39.61L165.12 40.79L165.63 42.63L164.04 41.58L162.45 42.63L162.96 40.79L161.47 39.61L163.37 39.53Z" fill="#25a558"/><path d="M159.65 36.61L160.32 38.39L162.22 38.47L160.73 39.66L161.24 41.49L159.65 40.44L158.07 41.49L158.58 39.66L157.09 38.47L158.99 38.39Z" fill="#25a558"/><path d="M155.27 35.71L155.94 37.49L157.84 37.58L156.35 38.76L156.86 40.6L155.27 39.55L153.68 40.6L154.19 38.76L152.7 37.58L154.6 37.49Z" fill="#25a558"/><path d="M150.89 35.18L151.55 36.96L153.45 37.05L151.96 38.23L152.47 40.06L150.89 39.01L149.3 40.06L149.81 38.23L148.32 37.05L150.22 36.96Z" fill="#25a558"/><path d="M146.5 34.86L147.17 36.65L149.07 36.73L147.58 37.91L148.09 39.75L146.5 38.7L144.91 39.75L145.42 37.91L143.93 36.73L145.83 36.65Z" fill="#25a558"/><path d="M142.12 34.62L142.78 36.41L144.68 36.49L143.2 37.67L143.7 39.51L142.12 38.46L140.53 39.51L141.04 37.67L139.55 36.49L141.45 36.41Z" fill="#25a558"/><path d="M137.73 34.37L138.4 36.15L140.3 36.23L138.81 37.42L139.32 39.25L137.73 38.2L136.15 39.25L136.65 37.42L135.17 36.23L137.07 36.15Z" fill="#25a558"/><path d="M133.35 34.07L134.02 35.85L135.92 35.94L134.43 37.12L134.94 38.96L133.35 37.9L131.76 38.96L132.27 37.12L130.78 35.94L132.68 35.85Z" fill="#25a558"/><path d="M128.96 33.76L129.63 35.55L131.53 35.63L130.04 36.81L130.55 38.65L128.96 37.6L127.38 38.65L127.89 36.81L126.4 35.63L128.3 35.55Z" fill="#25a558"/><path d="M124.58 33.43L125.25 35.21L127.15 35.3L125.66 36.48L126.17 38.31L124.58 37.26L122.99 38.31L123.5 36.48L122.01 35.3L123.91 35.21Z" fill="#25a558"/><path d="M120.2 33.05L120.86 34.83L122.76 34.92L121.27 36.1L121.78 37.93L120.2 36.88L118.61 37.93L119.12 36.1L117.63 34.92L119.53 34.83Z" fill="#25a558"/><path d="M115.81 32.63L116.48 34.41L118.38 34.49L116.89 35.68L117.4 37.51L115.81 36.46L114.22 37.51L114.73 35.68L113.24 34.49L115.15 34.41Z" fill="#25a558"/><path d="M111.43 32.19L112.09 33.97L114 34.05L112.51 35.24L113.01 37.07L111.43 36.02L109.84 37.07L110.35 35.24L108.86 34.05L110.76 33.97Z" fill="#25a558"/><path d="M107.04 31.77L107.71 33.55L109.61 33.63L108.12 34.82L108.63 36.65L107.04 35.6L105.46 36.65L105.96 34.82L104.48 33.63L106.38 33.55Z" fill="#25a558"/><path d="M102.66 31.37L103.33 33.16L105.23 33.24L103.74 34.42L104.25 36.26L102.66 35.21L101.07 36.26L101.58 34.42L100.09 33.24L101.99 33.16Z" fill="#25a558"/><path d="M98.27 30.92L98.94 32.7L100.84 32.78L99.35 33.97L99.86 35.8L98.27 34.75L96.69 35.8L97.2 33.97L95.71 32.78L97.61 32.7Z" fill="#25a558"/><path d="M93.89 30.3L94.56 32.09L96.46 32.17L94.97 33.35L95.48 35.19L93.89 34.14L92.3 35.19L92.81 33.35L91.32 32.17L93.22 32.09Z" fill="#25a558"/><path d="M89.51 29.38L90.17 31.16L92.07 31.24L90.58 32.43L91.09 34.26L89.51 33.21L87.92 34.26L88.43 32.43L86.94 31.24L88.84 31.16Z" fill="#25a558"/><path d="M85.12 28.15L85.79 29.93L87.69 30.02L86.2 31.2L86.71 33.03L85.12 31.98L83.53 33.03L84.04 31.2L82.55 30.02L84.46 29.93Z" fill="#25a558"/><path d="M80.74 26.4L81.4 28.18L83.31 28.27L81.82 29.45L82.32 31.28L80.74 30.23L79.15 31.28L79.66 29.45L78.17 28.27L80.07 28.18Z" fill="#25a558"/><path d="M76.35 24.25L77.02 26.03L78.92 26.11L77.43 27.3L77.94 29.13L76.35 28.08L74.77 29.13L75.27 27.3L73.79 26.11L75.69 26.03Z" fill="#25a558"/><path d="M71.97 21.93L72.64 23.72L74.54 23.8L73.05 24.98L73.56 26.82L71.97 25.77L70.38 26.82L70.89 24.98L69.4 23.8L71.3 23.72Z" fill="#25a558"/><path d="M67.58 19.38L68.25 21.16L70.15 21.24L68.66 22.43L69.17 24.26L67.58 23.21L66 24.26L66.51 22.43L65.02 21.24L66.92 21.16Z" fill="#25a558"/><path d="M63.2 17.07L63.87 18.86L65.77 18.94L64.28 20.13L64.79 21.96L63.2 20.91L61.61 21.96L62.12 20.13L60.63 18.94L62.53 18.86Z" fill="#25a558"/><path d="M58.82 15.26L59.48 17.04L61.38 17.13L59.89 18.31L60.4 20.15L58.82 19.1L57.23 20.15L57.74 18.31L56.25 17.13L58.15 17.04Z" fill="#25a558"/><path d="M54.43 13.68L55.1 15.46L57 15.54L55.51 16.73L56.02 18.56L54.43 17.51L52.84 18.56L53.35 16.73L51.86 15.54L53.77 15.46Z" fill="#25a558"/><path d="M50.05 12.25L50.71 14.03L52.62 14.11L51.13 15.3L51.63 17.13L50.05 16.08L48.46 17.13L48.97 15.3L47.48 14.11L49.38 14.03Z" fill="#25a558"/><path d="M45.66 10.67L46.33 12.46L48.23 12.54L46.74 13.72L47.25 15.56L45.66 14.51L44.08 15.56L44.58 13.72L43.1 12.54L45 12.46Z" fill="#25a558"/><path d="M41.28 9.95L41.95 11.73L43.85 11.81L42.36 13L42.87 14.83L41.28 13.78L39.69 14.83L40.2 13L38.71 11.81L40.61 11.73Z" fill="#25a558"/><path d="M36.89 12.18L37.56 13.96L39.46 14.05L37.97 15.23L38.48 17.06L36.89 16.01L35.31 17.06L35.82 15.23L34.33 14.05L36.23 13.96Z" fill="#25a558"/><path d="M36.84 12.22L37.5 14.01L39.41 14.09L37.92 15.27L38.43 17.11L36.84 16.06L35.25 17.11L35.76 15.27L34.27 14.09L36.17 14.01Z" fill="#25a558"/>
<rect x="51.9" y="139.2" width="47.7" height="42.4" fill="#fff" stroke="#6a6a6a" stroke-width="0.8"/>
<g font-size="8.1" font-weight="bold" fill="#2e2e2e" stroke="#2e2e2e" stroke-width="0.15">
<path d="M52.7 145.2h13" stroke="#404040" stroke-width="1.05"/>
<path d="M59.3 143.15L61.35 145.2L59.3 147.25L57.25 145.2Z" fill="#404040"/>
<text x="65.7" y="148">3 K/min</text>
<path d="M52.7 155.7h13" stroke="#f2373a" stroke-width="1.05"/>
<circle cx="59.3" cy="155.7" r="1.93" fill="#f2373a"/>
<text x="65.7" y="158.5">5 K/min</text>
<path d="M52.7 166.2h13" stroke="#1f63e8" stroke-width="1.05"/>
<path d="M59.3 164.07L61.26 167.52L57.34 167.52Z" fill="#1f63e8"/>
<text x="65.7" y="169">10 K/min</text>
<path d="M52.7 176.7h13" stroke="#25a558" stroke-width="1.05"/>
<path d="M59.3 174.49L59.85 175.95L61.41 176.02L60.18 176.99L60.6 178.49L59.3 177.63L58 178.49L58.42 176.99L57.19 176.02L58.75 175.95Z" fill="#25a558"/>
<text x="65.7" y="179.5">15 K/min</text>
</g>
</g>
<g id="panel-b">
<rect x="303.8" y="5.2" width="239.3" height="193.4" fill="#fff" stroke="#444444" stroke-width="1.15"/>
<path d="M324.6 198.6v-3.3M359.85 198.6v-3.3M395.1 198.6v-3.3M430.35 198.6v-3.3M465.6 198.6v-3.3M500.85 198.6v-3.3M536.1 198.6v-3.3M306.98 198.6v-1.9M342.23 198.6v-1.9M377.48 198.6v-1.9M412.73 198.6v-1.9M447.98 198.6v-1.9M483.23 198.6v-1.9M518.48 198.6v-1.9M303.8 180h3.3M303.8 161.4h3.3M303.8 142.8h3.3M303.8 124.2h3.3M303.8 105.6h3.3M303.8 87h3.3M303.8 68.4h3.3M303.8 49.8h3.3M303.8 31.2h3.3M303.8 12.6h3.3M303.8 189.3h1.9M303.8 170.7h1.9M303.8 152.1h1.9M303.8 133.5h1.9M303.8 114.9h1.9M303.8 96.3h1.9M303.8 77.7h1.9M303.8 59.1h1.9M303.8 40.5h1.9M303.8 21.9h1.9" stroke="#444444" stroke-width="1" fill="none"/>
<g font-size="7.9" fill="#2e2e2e" stroke="#2e2e2e" stroke-width="0.42">
<text x="324.6" y="210.2" text-anchor="middle">50</text>
<text x="359.85" y="210.2" text-anchor="middle">100</text>
<text x="395.1" y="210.2" text-anchor="middle">150</text>
<text x="430.35" y="210.2" text-anchor="middle">200</text>
<text x="465.6" y="210.2" text-anchor="middle">250</text>
<text x="500.85" y="210.2" text-anchor="middle">300</text>
<text x="536.1" y="210.2" text-anchor="middle">350</text>
<text x="299.2" y="202.1" text-anchor="end">50</text>
<text x="299.2" y="183.5" text-anchor="end">55</text>
<text x="299.2" y="164.9" text-anchor="end">60</text>
<text x="299.2" y="146.3" text-anchor="end">65</text>
<text x="299.2" y="127.7" text-anchor="end">70</text>
<text x="299.2" y="109.1" text-anchor="end">75</text>
<text x="299.2" y="90.5" text-anchor="end">80</text>
<text x="299.2" y="71.9" text-anchor="end">85</text>
<text x="299.2" y="53.3" text-anchor="end">90</text>
<text x="299.2" y="34.7" text-anchor="end">95</text>
<text x="299.2" y="16.1" text-anchor="end">100</text>
</g>
<text x="423.85" y="223.4" font-size="9.6" fill="#2e2e2e" text-anchor="middle"><tspan font-weight="bold" font-style="italic" font-size="10" stroke="#2e2e2e" stroke-width="0.3">T</tspan><tspan stroke="#2e2e2e" stroke-width="0.3">/℃</tspan></text>
<text transform="translate(283.8 101.3) rotate(-90) scale(1.15 1)" font-size="9.2" font-weight="bold" fill="#2e2e2e" stroke="#2e2e2e" stroke-width="0.2" text-anchor="middle">w/%</text>
<text x="542.8" y="13.1" font-size="7.8" font-weight="bold" fill="#2e2e2e" stroke="#2e2e2e" stroke-width="0.2" text-anchor="end">(b)</text>
<path d="M307.33 12.6L308.03 12.7L308.74 12.81L309.44 12.92L310.15 13.04L310.85 13.16L311.56 13.28L312.26 13.41L312.97 13.54L313.67 13.67L314.38 13.81L315.08 13.95L315.79 14.09L316.49 14.24L317.2 14.38L317.55 14.46L317.9 14.54L318.61 14.69L319.31 14.85L320.02 15.02L320.72 15.19L321.43 15.36L322.13 15.54L322.84 15.72L323.54 15.91L324.25 16.1L324.95 16.29L325.66 16.49L326.36 16.69L327.07 16.9L327.77 17.11L328.48 17.33L328.83 17.44L329.18 17.55L329.89 17.79L330.59 18.05L331.3 18.32L332 18.6L332.71 18.89L333.41 19.18L334.12 19.47L334.82 19.76L335.53 20.05L336.23 20.32L336.94 20.58L337.64 20.83L338.35 21.05L338.7 21.16L339.05 21.26L339.76 21.46L340.46 21.66L341.17 21.86L341.87 22.05L342.58 22.24L343.28 22.42L343.99 22.6L344.69 22.77L345.4 22.94L346.1 23.09L346.81 23.24L347.51 23.38L348.22 23.5L348.92 23.61L349.63 23.71L349.98 23.76L350.33 23.8L351.04 23.89L351.74 23.97L352.45 24.05L353.15 24.12L353.86 24.19L354.56 24.26L355.27 24.33L355.97 24.39L356.68 24.45L357.38 24.51L358.09 24.56L358.79 24.61L359.5 24.66L360.2 24.71L360.91 24.75L361.61 24.79L362.32 24.83L363.02 24.86L363.38 24.88L363.73 24.89L364.43 24.92L365.14 24.94L365.84 24.97L366.55 24.99L367.25 25.01L367.96 25.02L368.66 25.04L369.37 25.06L370.07 25.07L370.78 25.09L371.48 25.11L372.19 25.13L372.89 25.15L373.6 25.17L374.3 25.2L375.01 25.23L375.36 25.25L375.71 25.27L376.42 25.31L377.12 25.36L377.83 25.41L378.53 25.47L379.24 25.54L379.94 25.61L380.65 25.69L381.35 25.77L382.06 25.85L382.76 25.94L383.47 26.04L384.17 26.14L384.88 26.24L385.58 26.35L386.29 26.45L386.99 26.57L387.7 26.68L388.05 26.74L388.4 26.79L389.11 26.92L389.81 27.05L390.52 27.19L391.22 27.34L391.93 27.5L392.63 27.66L393.34 27.84L394.04 28.02L394.75 28.21L395.45 28.41L396.16 28.62L396.86 28.84L397.57 29.07L398.27 29.3L398.98 29.54L399.68 29.8L400.39 30.06L400.46 30.08L401.09 30.34L401.8 30.65L402.5 30.99L403.21 31.36L403.91 31.76L404.62 32.18L405.32 32.62L406.03 33.08L406.73 33.56L407.09 33.8L407.44 34.06L408.14 34.6L408.85 35.18L409.55 35.81L410.26 36.46L410.96 37.16L411.67 37.88L412.37 38.63L412.73 39.01L413.08 39.4L413.78 40.21L414.49 41.04L415.19 41.91L415.9 42.81L416.6 43.76L417.31 44.74L418.01 45.76L418.72 46.82L419.42 47.93L420.13 49.09L420.76 50.17L420.83 50.29L421.54 51.58L422.24 52.97L422.95 54.44L423.65 55.99L424.36 57.61L425.06 59.29L425.77 61.02L426.47 62.79L427.18 64.59L427.88 66.4L428.59 68.23L428.94 69.14L429.29 70.06L430 71.9L430.7 73.78L431.41 75.73L432.11 77.76L432.82 79.91L433.52 82.19L433.73 82.91L434.23 84.63L434.93 87.24L435.64 90.02L436.34 92.97L437.05 96.11L437.75 99.43L438.25 101.88L438.46 102.98L439.16 106.96L439.87 111.33L440.57 115.94L441.28 120.63L441.98 125.24L442.05 125.69L442.69 129.79L443.39 134.46L444.1 139.15L444.8 143.82L445.51 148.39L446.21 152.79L446.28 153.22L446.92 157.31L447.62 162.17L448.33 166.87L449.03 170.94L449.74 173.89L450.09 174.79L450.44 175.44L451.15 176.58L451.85 177.53L452.56 178.3L453.26 178.93L453.97 179.42L454.32 179.63L454.67 179.82L455.38 180.16L456.08 180.46L456.79 180.73L457.49 180.97L458.2 181.19L458.9 181.39L459.61 181.58L460.31 181.76L461.02 181.95L461.72 182.13L462.08 182.23L462.43 182.33L463.13 182.53L463.84 182.73L464.54 182.92L465.25 183.11L465.95 183.3L466.66 183.49L467.36 183.67L468.07 183.85L468.77 184.02L469.48 184.19L470.18 184.35L470.89 184.51L471.59 184.66L472.3 184.8L473 184.94L473.71 185.07L474.41 185.19L474.55 185.21L475.12 185.3L475.82 185.41L476.53 185.52L477.23 185.62L477.94 185.72L478.64 185.82L479.35 185.92L480.05 186.02L480.76 186.12L481.46 186.21L482.17 186.3L482.87 186.39L483.58 186.48L484.28 186.56L484.99 186.64L485.69 186.73L486.4 186.81L487.1 186.89L487.81 186.96L488.51 187.04L489.22 187.11L489.92 187.19L490.63 187.26L491.33 187.33L492.04 187.4L492.74 187.47L493.45 187.53L494.15 187.6L494.86 187.67L495.56 187.73L496.27 187.79L496.97 187.86L497.68 187.92L498.38 187.98L499.09 188.04L499.79 188.1L500.5 188.15L500.85 188.18L501.2 188.21L501.91 188.27L502.61 188.33L503.32 188.39L504.02 188.44L504.73 188.5L505.43 188.55L506.14 188.61L506.84 188.67L507.55 188.72L508.25 188.78L508.96 188.83L509.66 188.88L510.37 188.94L511.07 188.99L511.78 189.04L512.48 189.09L513.19 189.14L513.89 189.2L514.6 189.25L515.3 189.29L516.01 189.34L516.71 189.39L517.42 189.44L518.12 189.49L518.83 189.53L519.53 189.58L520.24 189.62L520.94 189.67L521.65 189.71L522.35 189.75L523.06 189.8L523.76 189.84L524.47 189.88L525.17 189.92L525.88 189.96L526.58 189.99L527.29 190.03L527.99 190.07L528.7 190.1L529.4 190.14L530.11 190.17L530.81 190.2L531.52 190.23L532.22 190.27L532.93 190.3L533.63 190.32L534.34 190.35L535.04 190.38L535.68 190.4" fill="none" stroke="#404040" stroke-width="1.05" stroke-linejoin="round"/>
<path d="M535.68 187.9L538.18 190.4L535.68 192.9L533.18 190.4Z" fill="#404040"/><path d="M531.3 187.73L533.8 190.23L531.3 192.73L528.8 190.23Z" fill="#404040"/><path d="M526.92 187.51L529.42 190.01L526.92 192.51L524.42 190.01Z" fill="#404040"/><path d="M522.54 187.27L525.04 189.77L522.54 192.27L520.04 189.77Z" fill="#404040"/><path d="M518.16 186.99L520.66 189.49L518.16 191.99L515.66 189.49Z" fill="#404040"/><path d="M513.79 186.69L516.29 189.19L513.79 191.69L511.29 189.19Z" fill="#404040"/><path d="M509.41 186.36L511.91 188.86L509.41 191.36L506.91 188.86Z" fill="#404040"/><path d="M505.03 186.02L507.53 188.52L505.03 191.02L502.53 188.52Z" fill="#404040"/><path d="M500.65 185.67L503.15 188.17L500.65 190.67L498.15 188.17Z" fill="#404040"/><path d="M496.27 185.29L498.77 187.79L496.27 190.29L493.77 187.79Z" fill="#404040"/><path d="M491.9 184.89L494.4 187.39L491.9 189.89L489.4 187.39Z" fill="#404040"/><path d="M487.52 184.43L490.02 186.93L487.52 189.43L485.02 186.93Z" fill="#404040"/><path d="M483.14 183.92L485.64 186.42L483.14 188.92L480.64 186.42Z" fill="#404040"/><path d="M478.76 183.34L481.26 185.84L478.76 188.34L476.26 185.84Z" fill="#404040"/><path d="M474.38 182.68L476.88 185.18L474.38 187.68L471.88 185.18Z" fill="#404040"/><path d="M470.01 181.81L472.51 184.31L470.01 186.81L467.51 184.31Z" fill="#404040"/><path d="M465.63 180.72L468.13 183.22L465.63 185.72L463.13 183.22Z" fill="#404040"/><path d="M461.25 179.51L463.75 182.01L461.25 184.51L458.75 182.01Z" fill="#404040"/><path d="M456.87 178.26L459.37 180.76L456.87 183.26L454.37 180.76Z" fill="#404040"/><path d="M452.49 175.74L454.99 178.24L452.49 180.74L449.99 178.24Z" fill="#404040"/><path d="M448.12 163.01L450.62 165.51L448.12 168.01L445.62 165.51Z" fill="#404040"/><path d="M443.74 134.26L446.24 136.76L443.74 139.26L441.24 136.76Z" fill="#404040"/><path d="M439.36 105.65L441.86 108.15L439.36 110.65L436.86 108.15Z" fill="#404040"/><path d="M434.98 84.93L437.48 87.43L434.98 89.93L432.48 87.43Z" fill="#404040"/><path d="M430.6 71.02L433.1 73.52L430.6 76.02L428.1 73.52Z" fill="#404040"/><path d="M426.23 59.67L428.73 62.17L426.23 64.67L423.73 62.17Z" fill="#404040"/><path d="M421.85 49.68L424.35 52.18L421.85 54.68L419.35 52.18Z" fill="#404040"/><path d="M417.47 42.47L419.97 44.97L417.47 47.47L414.97 44.97Z" fill="#404040"/><path d="M413.09 36.92L415.59 39.42L413.09 41.92L410.59 39.42Z" fill="#404040"/><path d="M408.71 32.57L411.21 35.07L408.71 37.57L406.21 35.07Z" fill="#404040"/><path d="M404.34 29.5L406.84 32L404.34 34.5L401.84 32Z" fill="#404040"/><path d="M399.96 27.4L402.46 29.9L399.96 32.4L397.46 29.9Z" fill="#404040"/><path d="M395.58 25.95L398.08 28.45L395.58 30.95L393.08 28.45Z" fill="#404040"/><path d="M391.2 24.84L393.7 27.34L391.2 29.84L388.7 27.34Z" fill="#404040"/><path d="M386.82 24.04L389.32 26.54L386.82 29.04L384.32 26.54Z" fill="#404040"/><path d="M382.45 23.4L384.95 25.9L382.45 28.4L379.95 25.9Z" fill="#404040"/><path d="M378.07 22.93L380.57 25.43L378.07 27.93L375.57 25.43Z" fill="#404040"/><path d="M373.69 22.68L376.19 25.18L373.69 27.68L371.19 25.18Z" fill="#404040"/><path d="M369.31 22.55L371.81 25.05L369.31 27.55L366.81 25.05Z" fill="#404040"/><path d="M364.93 22.44L367.43 24.94L364.93 27.44L362.43 24.94Z" fill="#404040"/><path d="M360.56 22.23L363.06 24.73L360.56 27.23L358.06 24.73Z" fill="#404040"/><path d="M356.18 21.91L358.68 24.41L356.18 26.91L353.68 24.41Z" fill="#404040"/><path d="M351.8 21.48L354.3 23.98L351.8 26.48L349.3 23.98Z" fill="#404040"/><path d="M347.42 20.86L349.92 23.36L347.42 25.86L344.92 23.36Z" fill="#404040"/><path d="M343.04 19.86L345.54 22.36L343.04 24.86L340.54 22.36Z" fill="#404040"/><path d="M338.66 18.65L341.16 21.15L338.66 23.65L336.16 21.15Z" fill="#404040"/><path d="M334.29 17.04L336.79 19.54L334.29 22.04L331.79 19.54Z" fill="#404040"/><path d="M329.91 15.3L332.41 17.8L329.91 20.3L327.41 17.8Z" fill="#404040"/><path d="M325.53 13.95L328.03 16.45L325.53 18.95L323.03 16.45Z" fill="#404040"/><path d="M321.15 12.79L323.65 15.29L321.15 17.79L318.65 15.29Z" fill="#404040"/><path d="M316.77 11.8L319.27 14.3L316.77 16.8L314.27 14.3Z" fill="#404040"/><path d="M312.4 10.93L314.9 13.43L312.4 15.93L309.9 13.43Z" fill="#404040"/><path d="M308.02 10.2L310.52 12.7L308.02 15.2L305.52 12.7Z" fill="#404040"/><path d="M307.33 10.1L309.83 12.6L307.33 15.1L304.83 12.6Z" fill="#404040"/>
<path d="M307.33 12.6L308.03 12.64L308.74 12.69L309.44 12.74L310.15 12.8L310.85 12.87L311.56 12.94L312.26 13.02L312.97 13.1L313.67 13.18L314.38 13.27L315.08 13.37L315.79 13.46L316.49 13.56L317.2 13.66L317.55 13.72L317.9 13.77L318.61 13.88L319.31 14.01L320.02 14.14L320.72 14.28L321.43 14.43L322.13 14.59L322.84 14.75L323.54 14.92L324.25 15.1L324.95 15.28L325.66 15.46L326.36 15.65L327.07 15.84L327.77 16.03L328.48 16.22L328.83 16.32L329.18 16.42L329.89 16.63L330.59 16.85L331.3 17.09L332 17.33L332.71 17.58L333.41 17.84L334.12 18.1L334.82 18.35L335.53 18.61L336.23 18.86L336.94 19.1L337.64 19.34L338.35 19.56L338.7 19.67L339.05 19.77L339.76 19.99L340.46 20.21L341.17 20.43L341.87 20.65L342.58 20.87L343.28 21.08L343.99 21.29L344.69 21.5L345.4 21.69L346.1 21.88L346.81 22.05L347.51 22.21L348.22 22.36L348.92 22.49L349.63 22.6L349.98 22.64L350.33 22.69L351.04 22.77L351.74 22.85L352.45 22.93L353.15 23L353.86 23.07L354.56 23.13L355.27 23.19L355.97 23.24L356.68 23.3L357.38 23.35L358.09 23.4L358.79 23.45L359.5 23.5L360.2 23.54L360.91 23.59L361.61 23.64L362.32 23.69L363.02 23.74L363.38 23.76L363.73 23.78L364.43 23.83L365.14 23.88L365.84 23.92L366.55 23.96L367.25 24L367.96 24.04L368.66 24.08L369.37 24.12L370.07 24.15L370.78 24.19L371.48 24.24L372.19 24.28L372.89 24.32L373.6 24.37L374.3 24.42L375.01 24.48L375.36 24.5L375.71 24.53L376.42 24.59L377.12 24.66L377.83 24.72L378.53 24.79L379.24 24.86L379.94 24.94L380.65 25.01L381.35 25.09L382.06 25.17L382.76 25.26L383.47 25.34L384.17 25.43L384.88 25.52L385.58 25.62L386.29 25.71L386.99 25.81L387.7 25.91L388.4 26.02L389.11 26.12L389.81 26.23L390.52 26.34L391.22 26.45L391.93 26.57L392.63 26.68L393.34 26.8L394.04 26.92L394.75 27.05L395.1 27.11L395.45 27.17L396.16 27.3L396.86 27.43L397.57 27.57L398.27 27.72L398.98 27.87L399.68 28.02L400.39 28.19L401.09 28.36L401.8 28.54L402.5 28.73L403.21 28.93L403.91 29.14L404.62 29.36L405.32 29.59L405.68 29.71L406.03 29.84L406.73 30.11L407.44 30.41L408.14 30.73L408.85 31.08L409.55 31.45L410.26 31.85L410.96 32.28L411.67 32.72L412.37 33.19L412.73 33.43L413.08 33.68L413.78 34.22L414.49 34.81L415.19 35.44L415.9 36.11L416.6 36.82L417.31 37.57L418.01 38.34L418.72 39.15L419.42 39.98L420.13 40.84L420.83 41.71L421.54 42.6L422.24 43.5L422.95 44.42L423.65 45.34L424.36 46.27L424.5 46.45L425.06 47.2L425.77 48.14L426.47 49.11L427.18 50.1L427.88 51.12L428.59 52.17L429.29 53.27L430 54.41L430.7 55.6L431.41 56.84L432.11 58.14L432.82 59.51L433.17 60.22L433.52 60.95L434.23 62.49L434.93 64.15L435.64 65.9L436.34 67.75L437.05 69.69L437.75 71.71L438.46 73.81L439.16 75.98L439.87 78.21L440.57 80.51L441.28 82.87L441.98 85.27L442.05 85.51L442.69 87.75L443.39 90.35L444.1 93.12L444.8 96.07L445.51 99.23L446.21 102.64L446.28 103L446.92 106.45L447.62 110.78L448.33 115.45L449.03 120.32L449.74 125.21L450.3 129.04L450.44 129.99L451.15 135.09L451.85 140.5L452.56 145.84L453.26 150.76L453.97 154.9L454.32 156.56L454.67 158.06L455.38 160.94L456.08 163.58L456.79 165.85L457.49 167.61L458.2 168.76L458.27 168.84L458.9 169.44L459.61 170L460.31 170.46L461.02 170.85L461.72 171.18L462.43 171.48L463.13 171.76L463.27 171.82L463.84 172.03L464.54 172.29L465.25 172.53L465.95 172.76L466.66 172.97L467.36 173.17L468.07 173.37L468.77 173.55L469.48 173.73L470.18 173.9L470.89 174.06L471.59 174.23L472.3 174.39L473 174.55L473.71 174.71L474.06 174.79L474.41 174.87L475.12 175.04L475.82 175.21L476.53 175.38L477.23 175.54L477.94 175.71L478.64 175.88L479.35 176.04L480.05 176.2L480.76 176.35L481.46 176.5L482.17 176.64L482.87 176.78L483.58 176.9L484.28 177.02L484.99 177.13L485.69 177.23L486.4 177.32L487.1 177.4L487.81 177.46L488.51 177.53L489.22 177.6L489.92 177.66L490.63 177.72L491.33 177.78L492.04 177.83L492.74 177.89L493.45 177.94L494.15 177.99L494.86 178.04L495.56 178.09L496.27 178.14L496.97 178.18L497.68 178.22L498.38 178.27L499.09 178.31L499.79 178.35L500.5 178.39L501.2 178.42L501.91 178.46L502.61 178.5L503.32 178.53L504.02 178.56L504.73 178.6L505.43 178.63L506.14 178.66L506.84 178.69L507.55 178.72L508.25 178.75L508.96 178.78L509.66 178.81L510.37 178.84L511.07 178.87L511.43 178.88L511.78 178.9L512.48 178.93L513.19 178.95L513.89 178.98L514.6 179.01L515.3 179.04L516.01 179.06L516.71 179.09L517.42 179.12L518.12 179.14L518.83 179.17L519.53 179.19L520.24 179.22L520.94 179.24L521.65 179.27L522.35 179.29L523.06 179.31L523.76 179.34L524.47 179.36L525.17 179.38L525.88 179.4L526.58 179.42L527.29 179.44L527.99 179.46L528.7 179.48L529.4 179.5L530.11 179.51L530.81 179.53L531.52 179.54L532.22 179.56L532.93 179.57L533.63 179.59L534.34 179.6L535.04 179.61L535.68 179.62" fill="none" stroke="#f2373a" stroke-width="1.05" stroke-linejoin="round"/>
<circle cx="535.68" cy="179.62" r="2.35" fill="#f2373a"/><circle cx="531.3" cy="179.54" r="2.35" fill="#f2373a"/><circle cx="526.92" cy="179.43" r="2.35" fill="#f2373a"/><circle cx="522.54" cy="179.3" r="2.35" fill="#f2373a"/><circle cx="518.16" cy="179.14" r="2.35" fill="#f2373a"/><circle cx="513.79" cy="178.98" r="2.35" fill="#f2373a"/><circle cx="509.41" cy="178.8" r="2.35" fill="#f2373a"/><circle cx="505.03" cy="178.61" r="2.35" fill="#f2373a"/><circle cx="500.65" cy="178.39" r="2.35" fill="#f2373a"/><circle cx="496.27" cy="178.14" r="2.35" fill="#f2373a"/><circle cx="491.9" cy="177.82" r="2.35" fill="#f2373a"/><circle cx="487.52" cy="177.44" r="2.35" fill="#f2373a"/><circle cx="483.14" cy="176.83" r="2.35" fill="#f2373a"/><circle cx="478.76" cy="175.9" r="2.35" fill="#f2373a"/><circle cx="474.38" cy="174.87" r="2.35" fill="#f2373a"/><circle cx="470.01" cy="173.85" r="2.35" fill="#f2373a"/><circle cx="465.63" cy="172.65" r="2.35" fill="#f2373a"/><circle cx="461.25" cy="170.97" r="2.35" fill="#f2373a"/><circle cx="456.87" cy="166.09" r="2.35" fill="#f2373a"/><circle cx="452.49" cy="145.37" r="2.35" fill="#f2373a"/><circle cx="448.12" cy="114.02" r="2.35" fill="#f2373a"/><circle cx="443.74" cy="91.69" r="2.35" fill="#f2373a"/><circle cx="439.36" cy="76.6" r="2.35" fill="#f2373a"/><circle cx="434.98" cy="64.27" r="2.35" fill="#f2373a"/><circle cx="430.6" cy="55.43" r="2.35" fill="#f2373a"/><circle cx="426.23" cy="48.77" r="2.35" fill="#f2373a"/><circle cx="421.85" cy="43" r="2.35" fill="#f2373a"/><circle cx="417.47" cy="37.74" r="2.35" fill="#f2373a"/><circle cx="413.09" cy="33.69" r="2.35" fill="#f2373a"/><circle cx="408.71" cy="31.01" r="2.35" fill="#f2373a"/><circle cx="404.34" cy="29.27" r="2.35" fill="#f2373a"/><circle cx="399.96" cy="28.09" r="2.35" fill="#f2373a"/><circle cx="395.58" cy="27.19" r="2.35" fill="#f2373a"/><circle cx="391.2" cy="26.45" r="2.35" fill="#f2373a"/><circle cx="386.82" cy="25.79" r="2.35" fill="#f2373a"/><circle cx="382.45" cy="25.22" r="2.35" fill="#f2373a"/><circle cx="378.07" cy="24.75" r="2.35" fill="#f2373a"/><circle cx="373.69" cy="24.38" r="2.35" fill="#f2373a"/><circle cx="369.31" cy="24.11" r="2.35" fill="#f2373a"/><circle cx="364.93" cy="23.86" r="2.35" fill="#f2373a"/><circle cx="360.56" cy="23.57" r="2.35" fill="#f2373a"/><circle cx="356.18" cy="23.26" r="2.35" fill="#f2373a"/><circle cx="351.8" cy="22.86" r="2.35" fill="#f2373a"/><circle cx="347.42" cy="22.19" r="2.35" fill="#f2373a"/><circle cx="343.04" cy="21.01" r="2.35" fill="#f2373a"/><circle cx="338.66" cy="19.66" r="2.35" fill="#f2373a"/><circle cx="334.29" cy="18.16" r="2.35" fill="#f2373a"/><circle cx="329.91" cy="16.64" r="2.35" fill="#f2373a"/><circle cx="325.53" cy="15.43" r="2.35" fill="#f2373a"/><circle cx="321.15" cy="14.37" r="2.35" fill="#f2373a"/><circle cx="316.77" cy="13.6" r="2.35" fill="#f2373a"/><circle cx="312.4" cy="13.03" r="2.35" fill="#f2373a"/><circle cx="308.02" cy="12.64" r="2.35" fill="#f2373a"/><circle cx="307.33" cy="12.6" r="2.35" fill="#f2373a"/>
<path d="M307.33 12.6L308.03 12L308.74 11.47L309.44 11.02L310.15 10.68L310.85 10.46L311.56 10.37L311.63 10.37L312.26 10.42L312.97 10.59L313.67 10.85L314.38 11.16L315.08 11.51L315.79 11.87L316.49 12.2L317.2 12.49L317.55 12.6L317.9 12.7L318.61 12.89L319.31 13.08L320.02 13.25L320.72 13.41L321.43 13.56L322.13 13.71L322.84 13.86L323.54 14L324.25 14.14L324.95 14.29L325.66 14.44L326.36 14.59L327.07 14.76L327.77 14.93L328.48 15.11L328.83 15.2L329.18 15.3L329.89 15.51L330.59 15.74L331.3 15.97L332 16.22L332.71 16.47L333.41 16.72L334.12 16.98L334.82 17.24L335.53 17.49L336.23 17.74L336.94 17.99L337.64 18.22L338.35 18.45L338.7 18.55L339.05 18.66L339.76 18.87L340.46 19.08L341.17 19.3L341.87 19.51L342.58 19.72L343.28 19.93L343.99 20.14L344.69 20.34L345.4 20.53L346.1 20.71L346.81 20.89L347.51 21.05L348.22 21.2L348.92 21.34L349.63 21.47L349.98 21.53L350.33 21.58L351.04 21.69L351.74 21.79L352.45 21.89L353.15 21.99L353.86 22.08L354.56 22.16L355.27 22.25L355.97 22.33L356.68 22.4L357.38 22.48L358.09 22.55L358.79 22.62L359.5 22.69L360.2 22.75L360.91 22.81L361.61 22.87L362.32 22.93L363.02 22.99L363.38 23.02L363.73 23.04L364.43 23.1L365.14 23.14L365.84 23.19L366.55 23.24L367.25 23.28L367.96 23.32L368.66 23.36L369.37 23.4L370.07 23.44L370.78 23.47L371.48 23.51L372.19 23.55L372.89 23.6L373.6 23.64L374.3 23.69L375.01 23.73L375.36 23.76L375.71 23.79L376.42 23.84L377.12 23.89L377.83 23.94L378.53 24L379.24 24.05L379.94 24.11L380.65 24.17L381.35 24.22L382.06 24.28L382.76 24.34L383.47 24.4L384.17 24.46L384.88 24.53L385.58 24.59L386.29 24.66L386.99 24.72L387.7 24.79L388.4 24.86L389.11 24.94L389.81 25.01L390.52 25.08L391.22 25.16L391.93 25.24L392.63 25.32L393.34 25.4L394.04 25.49L394.75 25.58L395.1 25.62L395.45 25.66L396.16 25.76L396.86 25.85L397.57 25.95L398.27 26.06L398.98 26.16L399.68 26.28L400.39 26.39L401.09 26.52L401.8 26.65L402.5 26.78L403.21 26.93L403.91 27.07L404.62 27.23L405.32 27.39L405.68 27.48L406.03 27.57L406.73 27.76L407.44 27.96L408.14 28.19L408.85 28.43L409.55 28.68L410.26 28.96L410.96 29.26L411.67 29.57L412.37 29.91L412.73 30.08L413.08 30.27L413.78 30.69L414.49 31.16L415.19 31.68L415.9 32.25L416.6 32.84L417.31 33.45L418.01 34.08L418.72 34.72L419.42 35.35L419.78 35.66L420.13 35.98L420.83 36.63L421.54 37.29L422.24 37.98L422.95 38.69L423.65 39.4L424.36 40.13L425.06 40.87L425.77 41.61L426.47 42.36L426.83 42.73L427.18 43.1L427.88 43.84L428.59 44.56L429.29 45.27L430 45.98L430.7 46.68L431.41 47.38L432.11 48.09L432.82 48.81L433.52 49.53L434.23 50.27L434.93 51.02L435.64 51.79L436.34 52.58L437.05 53.4L437.75 54.25L438.46 55.13L439.16 56.04L439.87 56.99L440.57 57.99L441.28 59.02L441.98 60.1L442.05 60.22L442.69 61.26L443.39 62.5L444.1 63.84L444.8 65.26L445.51 66.76L446.21 68.35L446.92 70.01L447.62 71.74L448.33 73.53L449.03 75.39L449.74 77.32L450.44 79.29L450.8 80.3L451.15 81.33L451.85 83.46L452.56 85.74L453.26 88.21L453.97 90.92L454.67 93.93L455.02 95.56L455.38 97.38L456.08 101.75L456.79 106.76L457.49 112L458.2 117.04L458.55 119.36L458.9 121.6L459.61 126.08L460.31 130.52L461.02 134.85L461.72 139.02L462.43 142.95L463.13 146.58L463.27 147.26L463.84 150.07L464.54 153.7L465.25 157.22L465.95 160.36L466.66 162.87L467.36 164.48L467.57 164.75L468.07 165.22L468.77 165.82L469.48 166.33L470.18 166.77L470.89 167.15L471.59 167.47L472.3 167.75L473 168L473.71 168.22L474.41 168.43L474.55 168.47L475.12 168.62L475.82 168.81L476.53 168.98L477.23 169.15L477.94 169.3L478.64 169.44L479.35 169.58L480.05 169.71L480.76 169.83L481.46 169.95L482.17 170.06L482.87 170.16L483.58 170.27L484.28 170.36L484.99 170.46L485.69 170.56L486.4 170.65L486.75 170.7L487.1 170.75L487.81 170.84L488.51 170.93L489.22 171.02L489.92 171.1L490.63 171.19L491.33 171.27L492.04 171.35L492.74 171.42L493.45 171.5L494.15 171.57L494.86 171.64L495.56 171.71L496.27 171.78L496.97 171.85L497.68 171.91L498.38 171.98L499.09 172.04L499.79 172.1L500.5 172.16L500.85 172.19L501.2 172.22L501.91 172.27L502.61 172.33L503.32 172.39L504.02 172.45L504.73 172.5L505.43 172.56L506.14 172.61L506.84 172.67L507.55 172.73L508.25 172.78L508.96 172.83L509.66 172.89L510.37 172.94L511.07 173L511.78 173.05L512.48 173.1L513.19 173.15L513.89 173.2L514.6 173.25L515.3 173.3L516.01 173.35L516.71 173.4L517.42 173.45L518.12 173.5L518.83 173.54L519.53 173.59L520.24 173.63L520.94 173.68L521.65 173.72L522.35 173.77L523.06 173.81L523.76 173.85L524.47 173.89L525.17 173.93L525.88 173.97L526.58 174.01L527.29 174.04L527.99 174.08L528.7 174.11L529.4 174.15L530.11 174.18L530.81 174.21L531.52 174.24L532.22 174.27L532.93 174.3L533.63 174.33L534.34 174.36L535.04 174.38L535.68 174.41" fill="none" stroke="#1f63e8" stroke-width="1.05" stroke-linejoin="round"/>
<path d="M535.68 171.81L538.07 176.02L533.28 176.02Z" fill="#1f63e8"/><path d="M531.3 171.63L533.69 175.85L528.91 175.85Z" fill="#1f63e8"/><path d="M526.92 171.42L529.31 175.64L524.53 175.64Z" fill="#1f63e8"/><path d="M522.54 171.18L524.93 175.39L520.15 175.39Z" fill="#1f63e8"/><path d="M518.16 170.9L520.56 175.11L515.77 175.11Z" fill="#1f63e8"/><path d="M513.79 170.6L516.18 174.81L511.39 174.81Z" fill="#1f63e8"/><path d="M509.41 170.27L511.8 174.48L507.02 174.48Z" fill="#1f63e8"/><path d="M505.03 169.93L507.42 174.14L502.64 174.14Z" fill="#1f63e8"/><path d="M500.65 169.57L503.04 173.78L498.26 173.78Z" fill="#1f63e8"/><path d="M496.27 169.18L498.67 173.4L493.88 173.4Z" fill="#1f63e8"/><path d="M491.9 168.73L494.29 172.94L489.5 172.94Z" fill="#1f63e8"/><path d="M487.52 168.2L489.91 172.41L485.13 172.41Z" fill="#1f63e8"/><path d="M483.14 167.6L485.53 171.81L480.75 171.81Z" fill="#1f63e8"/><path d="M478.76 166.87L481.15 171.08L476.37 171.08Z" fill="#1f63e8"/><path d="M474.38 165.82L476.78 170.03L471.99 170.03Z" fill="#1f63e8"/><path d="M470.01 164.07L472.4 168.28L467.61 168.28Z" fill="#1f63e8"/><path d="M465.63 156.38L468.02 160.59L463.24 160.59Z" fill="#1f63e8"/><path d="M461.25 133.65L463.64 137.86L458.86 137.86Z" fill="#1f63e8"/><path d="M456.87 104.79L459.26 109L454.48 109Z" fill="#1f63e8"/><path d="M452.49 82.92L454.89 87.14L450.1 87.14Z" fill="#1f63e8"/><path d="M448.12 70.39L450.51 74.6L445.72 74.6Z" fill="#1f63e8"/><path d="M443.74 60.55L446.13 64.76L441.35 64.76Z" fill="#1f63e8"/><path d="M439.36 53.7L441.75 57.92L436.97 57.92Z" fill="#1f63e8"/><path d="M434.98 48.47L437.37 52.68L432.59 52.68Z" fill="#1f63e8"/><path d="M430.6 43.98L433 48.19L428.21 48.19Z" fill="#1f63e8"/><path d="M426.23 39.5L428.62 43.71L423.83 43.71Z" fill="#1f63e8"/><path d="M421.85 34.99L424.24 39.21L419.46 39.21Z" fill="#1f63e8"/><path d="M417.47 31L419.86 35.21L415.08 35.21Z" fill="#1f63e8"/><path d="M413.09 27.68L415.48 31.89L410.7 31.89Z" fill="#1f63e8"/><path d="M408.71 25.78L411.11 29.99L406.32 29.99Z" fill="#1f63e8"/><path d="M404.34 24.57L406.73 28.78L401.94 28.78Z" fill="#1f63e8"/><path d="M399.96 23.72L402.35 27.93L397.57 27.93Z" fill="#1f63e8"/><path d="M395.58 23.08L397.97 27.29L393.19 27.29Z" fill="#1f63e8"/><path d="M391.2 22.56L393.59 26.77L388.81 26.77Z" fill="#1f63e8"/><path d="M386.82 22.11L389.22 26.32L384.43 26.32Z" fill="#1f63e8"/><path d="M382.45 21.71L384.84 25.93L380.05 25.93Z" fill="#1f63e8"/><path d="M378.07 21.36L380.46 25.58L375.68 25.58Z" fill="#1f63e8"/><path d="M373.69 21.05L376.08 25.26L371.3 25.26Z" fill="#1f63e8"/><path d="M369.31 20.79L371.7 25.01L366.92 25.01Z" fill="#1f63e8"/><path d="M364.93 20.53L367.33 24.74L362.54 24.74Z" fill="#1f63e8"/><path d="M360.56 20.18L362.95 24.39L358.16 24.39Z" fill="#1f63e8"/><path d="M356.18 19.75L358.57 23.96L353.78 23.96Z" fill="#1f63e8"/><path d="M351.8 19.2L354.19 23.41L349.41 23.41Z" fill="#1f63e8"/><path d="M347.42 18.43L349.81 22.64L345.03 22.64Z" fill="#1f63e8"/><path d="M343.04 17.26L345.43 21.47L340.65 21.47Z" fill="#1f63e8"/><path d="M338.66 15.94L341.06 20.15L336.27 20.15Z" fill="#1f63e8"/><path d="M334.29 14.44L336.68 18.65L331.89 18.65Z" fill="#1f63e8"/><path d="M329.91 12.92L332.3 17.13L327.52 17.13Z" fill="#1f63e8"/><path d="M325.53 11.81L327.92 16.02L323.14 16.02Z" fill="#1f63e8"/><path d="M321.15 10.9L323.54 15.11L318.76 15.11Z" fill="#1f63e8"/><path d="M316.77 9.72L319.17 13.94L314.38 13.94Z" fill="#1f63e8"/><path d="M312.4 7.85L314.79 12.06L310 12.06Z" fill="#1f63e8"/><path d="M308.02 9.41L310.41 13.62L305.63 13.62Z" fill="#1f63e8"/><path d="M307.33 10L309.72 14.21L304.94 14.21Z" fill="#1f63e8"/>
<path d="M307.33 12.6L308.03 11.6L308.74 10.71L309.44 9.97L310.15 9.4L310.85 9.03L311.56 8.88L311.63 8.88L312.26 8.97L312.97 9.24L313.67 9.62L314.38 10.04L315.08 10.41L315.79 10.67L316.14 10.74L316.49 10.78L317.2 10.85L317.9 10.91L318.61 10.96L319.31 11L320.02 11.04L320.72 11.07L321.43 11.1L322.13 11.12L322.84 11.14L323.54 11.17L324.25 11.19L324.95 11.22L325.66 11.25L326.36 11.28L327.07 11.32L327.77 11.37L328.48 11.42L329.18 11.48L329.89 11.57L330.59 11.69L331.3 11.84L332 12.02L332.71 12.21L333.41 12.42L334.12 12.64L334.82 12.88L335.53 13.11L336.23 13.34L336.94 13.57L337.64 13.79L338.35 13.99L338.7 14.09L339.05 14.18L339.76 14.37L340.46 14.56L341.17 14.74L341.87 14.93L342.58 15.12L343.28 15.3L343.99 15.49L344.69 15.67L345.4 15.85L346.1 16.03L346.81 16.21L347.51 16.38L348.22 16.55L348.92 16.72L349.63 16.89L350.33 17.05L350.4 17.06L351.04 17.21L351.74 17.36L352.45 17.52L353.15 17.67L353.86 17.82L354.56 17.97L355.27 18.12L355.97 18.26L356.68 18.4L357.38 18.55L358.09 18.69L358.79 18.82L359.5 18.96L360.2 19.09L360.91 19.22L361.61 19.35L362.32 19.48L363.02 19.61L363.38 19.67L363.73 19.73L364.43 19.85L365.14 19.97L365.84 20.1L366.55 20.22L367.25 20.33L367.96 20.45L368.66 20.57L369.37 20.68L370.07 20.79L370.78 20.9L371.48 21.01L372.19 21.11L372.89 21.21L373.6 21.3L374.3 21.4L375.01 21.49L375.36 21.53L375.71 21.57L376.42 21.65L377.12 21.73L377.83 21.81L378.53 21.89L379.24 21.97L379.94 22.04L380.65 22.11L381.35 22.19L382.06 22.26L382.76 22.32L383.47 22.39L384.17 22.46L384.88 22.52L385.58 22.59L386.29 22.65L386.99 22.72L387.7 22.78L388.4 22.84L389.11 22.9L389.81 22.96L390.52 23.02L391.22 23.08L391.93 23.13L392.63 23.19L393.34 23.25L394.04 23.3L394.75 23.36L395.1 23.39L395.45 23.42L396.16 23.47L396.86 23.52L397.57 23.56L398.27 23.61L398.98 23.65L399.68 23.69L400.39 23.73L401.09 23.78L401.8 23.82L402.5 23.87L403.21 23.92L403.91 23.97L404.62 24.03L405.32 24.1L405.68 24.13L406.03 24.17L406.73 24.25L407.44 24.33L408.14 24.42L408.85 24.52L409.55 24.63L410.26 24.75L410.96 24.88L411.67 25.02L412.37 25.17L412.73 25.25L413.08 25.33L413.78 25.54L414.49 25.77L415.19 26.04L415.9 26.34L416.6 26.65L417.31 26.99L418.01 27.33L418.72 27.69L419.42 28.05L419.78 28.22L420.13 28.4L420.83 28.78L421.54 29.16L422.24 29.57L422.95 29.99L423.65 30.43L424.36 30.89L425.06 31.37L425.77 31.88L426.47 32.41L426.83 32.69L427.18 32.97L427.88 33.59L428.59 34.26L429.29 34.97L430 35.72L430.7 36.5L431.41 37.29L432.11 38.1L432.82 38.92L433.52 39.73L433.88 40.13L434.23 40.53L434.93 41.33L435.64 42.13L436.34 42.93L437.05 43.75L437.75 44.58L438.46 45.43L439.16 46.3L439.87 47.2L440.57 48.12L441.28 49.08L441.98 50.07L442.05 50.17L442.69 51.09L443.39 52.13L444.1 53.2L444.8 54.3L445.51 55.43L446.21 56.59L446.92 57.81L447.62 59.06L448.33 60.37L449.03 61.74L449.74 63.16L450.44 64.65L450.8 65.42L451.15 66.21L451.85 67.85L452.56 69.56L453.26 71.36L453.97 73.25L454.67 75.24L455.38 77.32L456.08 79.5L456.79 81.79L457.49 84.19L458.2 86.71L458.9 89.35L459.54 91.84L459.61 92.12L460.31 95.24L461.02 98.78L461.72 102.63L462.43 106.68L463.13 110.82L463.77 114.53L463.84 114.94L464.54 119.26L465.25 123.86L465.95 128.51L466.66 133.02L467.36 137.18L467.57 138.34L468.07 141.04L468.77 145.03L469.48 148.95L470.18 152.55L470.89 155.57L471.59 157.74L471.95 158.42L472.3 158.95L473 159.9L473.71 160.73L474.41 161.43L475.12 162L475.82 162.45L476.53 162.77L476.88 162.89L477.23 162.98L477.94 163.16L478.64 163.31L479.35 163.45L480.05 163.57L480.76 163.68L481.46 163.78L482.17 163.87L482.87 163.95L483.58 164.02L484.28 164.1L484.99 164.17L485.69 164.25L486.4 164.33L486.75 164.38L487.1 164.42L487.81 164.51L488.51 164.59L489.22 164.68L489.92 164.76L490.63 164.84L491.33 164.92L492.04 165L492.74 165.07L493.45 165.15L494.15 165.22L494.86 165.29L495.56 165.36L496.27 165.43L496.97 165.5L497.68 165.57L498.38 165.64L499.09 165.7L499.79 165.77L500.5 165.83L500.85 165.86L501.2 165.9L501.91 165.96L502.61 166.02L503.32 166.08L504.02 166.14L504.73 166.21L505.43 166.27L506.14 166.33L506.84 166.39L507.55 166.45L508.25 166.51L508.96 166.57L509.66 166.63L510.37 166.69L511.07 166.75L511.78 166.8L512.48 166.86L513.19 166.92L513.89 166.98L514.6 167.03L515.3 167.09L516.01 167.14L516.71 167.2L517.42 167.25L518.12 167.31L518.83 167.36L519.53 167.41L520.24 167.46L520.94 167.52L521.65 167.57L522.35 167.62L523.06 167.67L523.76 167.72L524.47 167.77L525.17 167.81L525.88 167.86L526.58 167.91L527.29 167.95L527.99 168L528.7 168.04L529.4 168.09L530.11 168.13L530.81 168.17L531.52 168.22L532.22 168.26L532.93 168.3L533.63 168.34L534.34 168.38L535.04 168.41L535.68 168.45" fill="none" stroke="#25a558" stroke-width="1.05" stroke-linejoin="round"/>
<path d="M535.68 165.75L536.34 167.53L538.24 167.61L536.76 168.8L537.26 170.63L535.68 169.58L534.09 170.63L534.6 168.8L533.11 167.61L535.01 167.53Z" fill="#25a558"/><path d="M531.3 165.5L531.97 167.29L533.87 167.37L532.38 168.55L532.89 170.39L531.3 169.34L529.71 170.39L530.22 168.55L528.73 167.37L530.63 167.29Z" fill="#25a558"/><path d="M526.92 165.23L527.59 167.01L529.49 167.1L528 168.28L528.51 170.11L526.92 169.06L525.33 170.11L525.84 168.28L524.35 167.1L526.25 167.01Z" fill="#25a558"/><path d="M522.54 164.93L523.21 166.71L525.11 166.8L523.62 167.98L524.13 169.82L522.54 168.77L520.96 169.82L521.46 167.98L519.97 166.8L521.88 166.71Z" fill="#25a558"/><path d="M518.16 164.61L518.83 166.39L520.73 166.48L519.24 167.66L519.75 169.49L518.16 168.44L516.58 169.49L517.09 167.66L515.6 166.48L517.5 166.39Z" fill="#25a558"/><path d="M513.79 164.27L514.45 166.05L516.35 166.13L514.87 167.32L515.37 169.15L513.79 168.1L512.2 169.15L512.71 167.32L511.22 166.13L513.12 166.05Z" fill="#25a558"/><path d="M509.41 163.91L510.08 165.69L511.98 165.77L510.49 166.96L511 168.79L509.41 167.74L507.82 168.79L508.33 166.96L506.84 165.77L508.74 165.69Z" fill="#25a558"/><path d="M505.03 163.53L505.7 165.31L507.6 165.4L506.11 166.58L506.62 168.42L505.03 167.37L503.44 168.42L503.95 166.58L502.46 165.4L504.36 165.31Z" fill="#25a558"/><path d="M500.65 163.15L501.32 164.93L503.22 165.01L501.73 166.2L502.24 168.03L500.65 166.98L499.07 168.03L499.57 166.2L498.08 165.01L499.99 164.93Z" fill="#25a558"/><path d="M496.27 162.74L496.94 164.52L498.84 164.6L497.35 165.79L497.86 167.62L496.27 166.57L494.69 167.62L495.2 165.79L493.71 164.6L495.61 164.52Z" fill="#25a558"/><path d="M491.9 162.28L492.56 164.06L494.46 164.15L492.97 165.33L493.48 167.16L491.9 166.11L490.31 167.16L490.82 165.33L489.33 164.15L491.23 164.06Z" fill="#25a558"/><path d="M487.52 161.77L488.18 163.55L490.09 163.64L488.6 164.82L489.11 166.66L487.52 165.61L485.93 166.66L486.44 164.82L484.95 163.64L486.85 163.55Z" fill="#25a558"/><path d="M483.14 161.28L483.81 163.06L485.71 163.14L484.22 164.33L484.73 166.16L483.14 165.11L481.55 166.16L482.06 164.33L480.57 163.14L482.47 163.06Z" fill="#25a558"/><path d="M478.76 160.64L479.43 162.42L481.33 162.51L479.84 163.69L480.35 165.52L478.76 164.47L477.18 165.52L477.68 163.69L476.19 162.51L478.1 162.42Z" fill="#25a558"/><path d="M474.38 158.7L475.05 160.49L476.95 160.57L475.46 161.75L475.97 163.59L474.38 162.54L472.8 163.59L473.31 161.75L471.82 160.57L473.72 160.49Z" fill="#25a558"/><path d="M470.01 149L470.67 150.78L472.57 150.86L471.08 152.05L471.59 153.88L470.01 152.83L468.42 153.88L468.93 152.05L467.44 150.86L469.34 150.78Z" fill="#25a558"/><path d="M465.63 123.67L466.29 125.46L468.2 125.54L466.71 126.72L467.22 128.56L465.63 127.51L464.04 128.56L464.55 126.72L463.06 125.54L464.96 125.46Z" fill="#25a558"/><path d="M461.25 97.32L461.92 99.11L463.82 99.19L462.33 100.37L462.84 102.21L461.25 101.16L459.66 102.21L460.17 100.37L458.68 99.19L460.58 99.11Z" fill="#25a558"/><path d="M456.87 79.37L457.54 81.16L459.44 81.24L457.95 82.42L458.46 84.26L456.87 83.21L455.29 84.26L455.79 82.42L454.3 81.24L456.21 81.16Z" fill="#25a558"/><path d="M452.49 66.71L453.16 68.49L455.06 68.57L453.57 69.76L454.08 71.59L452.49 70.54L450.91 71.59L451.42 69.76L449.93 68.57L451.83 68.49Z" fill="#25a558"/><path d="M448.12 57.27L448.78 59.06L450.68 59.14L449.19 60.32L449.7 62.16L448.12 61.11L446.53 62.16L447.04 60.32L445.55 59.14L447.45 59.06Z" fill="#25a558"/><path d="M443.74 49.95L444.4 51.74L446.31 51.82L444.82 53L445.32 54.84L443.74 53.79L442.15 54.84L442.66 53L441.17 51.82L443.07 51.74Z" fill="#25a558"/><path d="M439.36 43.85L440.03 45.64L441.93 45.72L440.44 46.9L440.95 48.74L439.36 47.69L437.77 48.74L438.28 46.9L436.79 45.72L438.69 45.64Z" fill="#25a558"/><path d="M434.98 38.68L435.65 40.46L437.55 40.55L436.06 41.73L436.57 43.57L434.98 42.52L433.39 43.57L433.9 41.73L432.41 40.55L434.32 40.46Z" fill="#25a558"/><path d="M430.6 33.69L431.27 35.47L433.17 35.55L431.68 36.74L432.19 38.57L430.6 37.52L429.02 38.57L429.53 36.74L428.04 35.55L429.94 35.47Z" fill="#25a558"/><path d="M426.23 29.52L426.89 31.31L428.79 31.39L427.3 32.57L427.81 34.41L426.23 33.36L424.64 34.41L425.15 32.57L423.66 31.39L425.56 31.31Z" fill="#25a558"/><path d="M421.85 26.64L422.51 28.42L424.42 28.5L422.93 29.69L423.43 31.52L421.85 30.47L420.26 31.52L420.77 29.69L419.28 28.5L421.18 28.42Z" fill="#25a558"/><path d="M417.47 24.37L418.14 26.15L420.04 26.23L418.55 27.42L419.06 29.25L417.47 28.2L415.88 29.25L416.39 27.42L414.9 26.23L416.8 26.15Z" fill="#25a558"/><path d="M413.09 22.64L413.76 24.42L415.66 24.5L414.17 25.69L414.68 27.52L413.09 26.47L411.5 27.52L412.01 25.69L410.52 24.5L412.43 24.42Z" fill="#25a558"/><path d="M408.71 21.8L409.38 23.58L411.28 23.67L409.79 24.85L410.3 26.69L408.71 25.64L407.13 26.69L407.64 24.85L406.15 23.67L408.05 23.58Z" fill="#25a558"/><path d="M404.34 21.31L405 23.09L406.9 23.17L405.41 24.36L405.92 26.19L404.34 25.14L402.75 26.19L403.26 24.36L401.77 23.17L403.67 23.09Z" fill="#25a558"/><path d="M399.96 21.01L400.62 22.79L402.53 22.87L401.04 24.06L401.54 25.89L399.96 24.84L398.37 25.89L398.88 24.06L397.39 22.87L399.29 22.79Z" fill="#25a558"/><path d="M395.58 20.73L396.25 22.51L398.15 22.59L396.66 23.78L397.17 25.61L395.58 24.56L393.99 25.61L394.5 23.78L393.01 22.59L394.91 22.51Z" fill="#25a558"/><path d="M391.2 20.37L391.87 22.16L393.77 22.24L392.28 23.42L392.79 25.26L391.2 24.21L389.61 25.26L390.12 23.42L388.63 22.24L390.53 22.16Z" fill="#25a558"/><path d="M386.82 20L387.49 21.78L389.39 21.87L387.9 23.05L388.41 24.89L386.82 23.83L385.24 24.89L385.74 23.05L384.26 21.87L386.16 21.78Z" fill="#25a558"/><path d="M382.45 19.59L383.11 21.38L385.01 21.46L383.52 22.64L384.03 24.48L382.45 23.43L380.86 24.48L381.37 22.64L379.88 21.46L381.78 21.38Z" fill="#25a558"/><path d="M378.07 19.14L378.73 20.92L380.64 21L379.15 22.19L379.65 24.02L378.07 22.97L376.48 24.02L376.99 22.19L375.5 21L377.4 20.92Z" fill="#25a558"/><path d="M373.69 18.62L374.36 20.4L376.26 20.48L374.77 21.67L375.28 23.5L373.69 22.45L372.1 23.5L372.61 21.67L371.12 20.48L373.02 20.4Z" fill="#25a558"/><path d="M369.31 17.97L369.98 19.75L371.88 19.84L370.39 21.02L370.9 22.86L369.31 21.81L367.72 22.86L368.23 21.02L366.74 19.84L368.64 19.75Z" fill="#25a558"/><path d="M364.93 17.24L365.6 19.02L367.5 19.1L366.01 20.29L366.52 22.12L364.93 21.07L363.35 22.12L363.85 20.29L362.37 19.1L364.27 19.02Z" fill="#25a558"/><path d="M360.56 16.46L361.22 18.24L363.12 18.32L361.63 19.51L362.14 21.34L360.56 20.29L358.97 21.34L359.48 19.51L357.99 18.32L359.89 18.24Z" fill="#25a558"/><path d="M356.18 15.6L356.84 17.39L358.74 17.47L357.26 18.65L357.76 20.49L356.18 19.44L354.59 20.49L355.1 18.65L353.61 17.47L355.51 17.39Z" fill="#25a558"/><path d="M351.8 14.67L352.47 16.46L354.37 16.54L352.88 17.72L353.39 19.56L351.8 18.51L350.21 19.56L350.72 17.72L349.23 16.54L351.13 16.46Z" fill="#25a558"/><path d="M347.42 13.66L348.09 15.44L349.99 15.53L348.5 16.71L349.01 18.54L347.42 17.49L345.83 18.54L346.34 16.71L344.85 15.53L346.75 15.44Z" fill="#25a558"/><path d="M343.04 12.54L343.71 14.32L345.61 14.4L344.12 15.59L344.63 17.42L343.04 16.37L341.46 17.42L341.96 15.59L340.47 14.4L342.38 14.32Z" fill="#25a558"/><path d="M338.66 11.38L339.33 13.16L341.23 13.24L339.74 14.43L340.25 16.26L338.66 15.21L337.08 16.26L337.59 14.43L336.1 13.24L338 13.16Z" fill="#25a558"/><path d="M334.29 10L334.95 11.78L336.85 11.87L335.37 13.05L335.87 14.88L334.29 13.83L332.7 14.88L333.21 13.05L331.72 11.87L333.62 11.78Z" fill="#25a558"/><path d="M329.91 8.87L330.58 10.66L332.48 10.74L330.99 11.92L331.5 13.76L329.91 12.71L328.32 13.76L328.83 11.92L327.34 10.74L329.24 10.66Z" fill="#25a558"/><path d="M325.53 8.54L326.2 10.32L328.1 10.41L326.61 11.59L327.12 13.43L325.53 12.37L323.94 13.43L324.45 11.59L322.96 10.41L324.86 10.32Z" fill="#25a558"/><path d="M321.15 8.39L321.82 10.17L323.72 10.25L322.23 11.44L322.74 13.27L321.15 12.22L319.57 13.27L320.07 11.44L318.58 10.25L320.49 10.17Z" fill="#25a558"/><path d="M316.77 8.11L317.44 9.89L319.34 9.97L317.85 11.16L318.36 12.99L316.77 11.94L315.19 12.99L315.7 11.16L314.21 9.97L316.11 9.89Z" fill="#25a558"/><path d="M312.4 6.31L313.06 8.09L314.96 8.18L313.47 9.36L313.98 11.2L312.4 10.15L310.81 11.2L311.32 9.36L309.83 8.18L311.73 8.09Z" fill="#25a558"/><path d="M308.02 8.92L308.68 10.7L310.59 10.78L309.1 11.97L309.61 13.8L308.02 12.75L306.43 13.8L306.94 11.97L305.45 10.78L307.35 10.7Z" fill="#25a558"/><path d="M307.33 9.9L307.99 11.68L309.9 11.77L308.41 12.95L308.91 14.78L307.33 13.73L305.74 14.78L306.25 12.95L304.76 11.77L306.66 11.68Z" fill="#25a558"/>
<rect x="323.2" y="139.2" width="47.1" height="42.4" fill="#fff" stroke="#6a6a6a" stroke-width="0.8"/>
<g font-size="8.1" font-weight="bold" fill="#2e2e2e" stroke="#2e2e2e" stroke-width="0.15">
<path d="M324 145.2h13" stroke="#404040" stroke-width="1.05"/>
<path d="M330.6 143.15L332.65 145.2L330.6 147.25L328.55 145.2Z" fill="#404040"/>
<text x="337" y="148">3 K/min</text>
<path d="M324 155.7h13" stroke="#f2373a" stroke-width="1.05"/>
<circle cx="330.6" cy="155.7" r="1.93" fill="#f2373a"/>
<text x="337" y="158.5">5 K/min</text>
<path d="M324 166.2h13" stroke="#1f63e8" stroke-width="1.05"/>
<path d="M330.6 164.07L332.56 167.52L328.64 167.52Z" fill="#1f63e8"/>
<text x="337" y="169">10 K/min</text>
<path d="M324 176.7h13" stroke="#25a558" stroke-width="1.05"/>
<path d="M330.6 174.49L331.15 175.95L332.71 176.02L331.48 176.99L331.9 178.49L330.6 177.63L329.3 178.49L329.72 176.99L328.49 176.02L330.05 175.95Z" fill="#25a558"/>
<text x="337" y="179.5">15 K/min</text>
</g>
</g>
<g id="panel-c">
<rect x="33.3" y="229.2" width="239.1" height="192.1" fill="#fff" stroke="#444444" stroke-width="1.15"/>
<path d="M54.7 421.3v-3.3M89.72 421.3v-3.3M124.73 421.3v-3.3M159.75 421.3v-3.3M194.77 421.3v-3.3M229.78 421.3v-3.3M264.8 421.3v-3.3M37.19 421.3v-1.9M72.21 421.3v-1.9M107.23 421.3v-1.9M142.24 421.3v-1.9M177.26 421.3v-1.9M212.28 421.3v-1.9M247.29 421.3v-1.9M33.3 403.03h3.3M33.3 384.76h3.3M33.3 366.49h3.3M33.3 348.22h3.3M33.3 329.95h3.3M33.3 311.68h3.3M33.3 293.41h3.3M33.3 275.14h3.3M33.3 256.87h3.3M33.3 238.6h3.3M33.3 412.17h1.9M33.3 393.89h1.9M33.3 375.62h1.9M33.3 357.36h1.9M33.3 339.09h1.9M33.3 320.81h1.9M33.3 302.55h1.9M33.3 284.27h1.9M33.3 266h1.9M33.3 247.73h1.9" stroke="#444444" stroke-width="1" fill="none"/>
<g font-size="7.9" fill="#2e2e2e" stroke="#2e2e2e" stroke-width="0.42">
<text x="54.7" y="432.9" text-anchor="middle">50</text>
<text x="89.72" y="432.9" text-anchor="middle">100</text>
<text x="124.73" y="432.9" text-anchor="middle">150</text>
<text x="159.75" y="432.9" text-anchor="middle">200</text>
<text x="194.77" y="432.9" text-anchor="middle">250</text>
<text x="229.78" y="432.9" text-anchor="middle">300</text>
<text x="264.8" y="432.9" text-anchor="middle">350</text>
<text x="28.7" y="424.8" text-anchor="end">0</text>
<text x="28.7" y="406.53" text-anchor="end">10</text>
<text x="28.7" y="388.26" text-anchor="end">20</text>
<text x="28.7" y="369.99" text-anchor="end">30</text>
<text x="28.7" y="351.72" text-anchor="end">40</text>
<text x="28.7" y="333.45" text-anchor="end">50</text>
<text x="28.7" y="315.18" text-anchor="end">60</text>
<text x="28.7" y="296.91" text-anchor="end">70</text>
<text x="28.7" y="278.64" text-anchor="end">80</text>
<text x="28.7" y="260.37" text-anchor="end">90</text>
<text x="28.7" y="242.1" text-anchor="end">100</text>
</g>
<text x="153.25" y="446.1" font-size="9.6" fill="#2e2e2e" text-anchor="middle"><tspan font-weight="bold" font-style="italic" font-size="10" stroke="#2e2e2e" stroke-width="0.3">T</tspan><tspan stroke="#2e2e2e" stroke-width="0.3">/℃</tspan></text>
<text transform="translate(13.3 324.65) rotate(-90) scale(1.15 1)" font-size="9.2" font-weight="bold" fill="#2e2e2e" stroke="#2e2e2e" stroke-width="0.2" text-anchor="middle">w/%</text>
<text x="272.1" y="237.1" font-size="7.8" font-weight="bold" fill="#2e2e2e" stroke="#2e2e2e" stroke-width="0.2" text-anchor="end">(c)</text>
<path d="M38.24 238.6L38.94 238.59L39.64 238.58L40.34 238.57L41.04 238.56L41.74 238.55L42.44 238.54L43.14 238.54L43.84 238.53L44.55 238.52L45.25 238.51L45.95 238.5L46.65 238.5L47.35 238.49L48.05 238.48L48.75 238.48L49.45 238.47L50.15 238.47L50.85 238.46L51.55 238.45L52.25 238.45L52.95 238.45L53.65 238.44L54.35 238.44L55.05 238.43L55.75 238.43L56.45 238.43L57.15 238.43L57.85 238.42L58.55 238.42L59.25 238.42L59.95 238.42L60.65 238.42L61.35 238.42L61.7 238.42L62.05 238.42L62.75 238.42L63.45 238.42L64.15 238.42L64.85 238.42L65.56 238.42L66.26 238.42L66.96 238.43L67.66 238.43L68.36 238.43L69.06 238.43L69.76 238.44L70.46 238.44L71.16 238.44L71.86 238.45L72.56 238.45L73.26 238.46L73.96 238.46L74.66 238.46L75.36 238.47L76.06 238.47L76.76 238.48L77.46 238.49L78.16 238.49L78.86 238.5L79.56 238.5L80.26 238.51L80.96 238.51L81.66 238.52L82.36 238.53L83.06 238.53L83.76 238.54L84.46 238.55L85.16 238.55L85.86 238.56L86.57 238.57L87.27 238.57L87.97 238.58L88.67 238.59L89.37 238.6L89.72 238.6L90.07 238.6L90.77 238.61L91.47 238.62L92.17 238.63L92.87 238.64L93.57 238.65L94.27 238.66L94.97 238.67L95.67 238.68L96.37 238.69L97.07 238.7L97.77 238.72L98.47 238.73L99.17 238.74L99.87 238.76L100.57 238.77L101.27 238.79L101.97 238.8L102.67 238.82L103.37 238.84L104.07 238.86L104.77 238.87L105.47 238.89L106.17 238.91L106.87 238.93L107.58 238.95L108.28 238.98L108.98 239L109.68 239.02L110.38 239.04L111.08 239.07L111.78 239.09L112.48 239.12L113.18 239.14L113.88 239.17L114.58 239.2L115.28 239.23L115.98 239.26L116.68 239.29L117.38 239.32L117.73 239.33L118.08 239.35L118.78 239.38L119.48 239.43L120.18 239.47L120.88 239.52L121.58 239.58L122.28 239.64L122.98 239.71L123.68 239.78L124.38 239.85L125.08 239.93L125.78 240.01L126.48 240.09L127.18 240.18L127.88 240.27L128.59 240.36L129.29 240.46L129.99 240.55L130.69 240.65L131.39 240.75L132.09 240.85L132.79 240.95L133.49 241.06L134.19 241.16L134.89 241.27L135.59 241.37L136.29 241.48L136.99 241.58L137.69 241.69L137.83 241.71L138.39 241.79L139.09 241.9L139.79 242.02L140.49 242.14L141.19 242.26L141.89 242.39L142.59 242.52L143.29 242.66L143.99 242.8L144.69 242.94L145.39 243.09L145.74 243.17L146.09 243.24L146.79 243.39L147.49 243.55L148.19 243.7L148.89 243.86L149.6 244.03L150.3 244.2L151 244.38L151.7 244.58L152.4 244.78L153.1 245L153.8 245.24L154.15 245.36L154.5 245.49L155.2 245.77L155.9 246.07L156.6 246.41L157.3 246.76L158 247.15L158.7 247.55L159.4 247.99L160.1 248.44L160.8 248.92L161.5 249.41L162.2 249.93L162.9 250.48L163.6 251.06L164.3 251.71L165 252.41L165.7 253.17L166.4 253.98L167.1 254.83L167.8 255.72L168.5 256.65L169.2 257.6L169.9 258.57L170.25 259.06L170.61 259.56L171.31 260.59L172.01 261.65L172.71 262.75L173.41 263.89L174.11 265.08L174.81 266.32L175.51 267.61L176.21 268.96L176.91 270.37L177.61 271.84L178.31 273.38L179.01 274.99L179.15 275.32L179.71 276.7L180.41 278.53L181.11 280.5L181.81 282.59L182.51 284.8L183.21 287.11L183.91 289.52L184.61 292.02L185.31 294.6L186.01 297.26L186.71 299.99L187.41 302.78L187.76 304.19L188.11 305.63L188.81 308.62L189.51 311.8L190.21 315.16L190.91 318.74L191.62 322.56L192.11 325.38L192.32 326.65L193.02 331.21L193.72 336.21L194.42 341.52L195.12 347.03L195.82 352.6L195.89 353.15L196.52 358.88L197.22 366.35L197.92 374.03L198.62 380.92L199.32 386.01L199.95 388.23L200.02 388.33L200.72 389.18L201.42 389.89L202.12 390.46L202.82 390.89L203.52 391.18L204.22 391.34L204.92 391.43L205.62 391.5L206.32 391.57L207.02 391.63L207.72 391.69L208.42 391.73L209.12 391.77L209.82 391.81L210.52 391.84L211.22 391.87L211.92 391.9L212.63 391.93L213.33 391.96L214.03 391.99L214.73 392.02L215.43 392.05L215.78 392.07L216.13 392.09L216.83 392.12L217.53 392.16L218.23 392.19L218.93 392.23L219.63 392.26L220.33 392.3L221.03 392.33L221.73 392.36L222.43 392.39L223.13 392.43L223.83 392.46L224.53 392.49L225.23 392.52L225.93 392.55L226.63 392.58L227.33 392.61L228.03 392.64L228.73 392.67L229.43 392.7L230.13 392.72L230.83 392.75L231.53 392.78L232.23 392.81L232.93 392.83L233.64 392.86L234.34 392.89L235.04 392.92L235.74 392.94L236.44 392.97L236.79 392.98L237.14 392.99L237.84 393.02L238.54 393.05L239.24 393.07L239.94 393.1L240.64 393.12L241.34 393.15L242.04 393.17L242.74 393.2L243.44 393.22L244.14 393.25L244.84 393.27L245.54 393.3L246.24 393.32L246.94 393.35L247.64 393.37L248.34 393.4L249.04 393.42L249.74 393.44L250.44 393.47L251.14 393.49L251.84 393.51L252.54 393.53L253.24 393.56L253.94 393.58L254.65 393.6L255.35 393.62L256.05 393.64L256.75 393.67L257.45 393.69L258.15 393.71L258.85 393.73L259.55 393.75L260.25 393.77L260.95 393.79L261.65 393.81L262.35 393.83L263.05 393.85L263.75 393.87L264.38 393.88" fill="none" stroke="#404040" stroke-width="1.05" stroke-linejoin="round"/>
<path d="M264.38 391.38L266.88 393.88L264.38 396.38L261.88 393.88Z" fill="#404040"/><path d="M260.03 391.26L262.53 393.76L260.03 396.26L257.53 393.76Z" fill="#404040"/><path d="M255.68 391.13L258.18 393.63L255.68 396.13L253.18 393.63Z" fill="#404040"/><path d="M251.33 390.99L253.83 393.49L251.33 395.99L248.83 393.49Z" fill="#404040"/><path d="M246.98 390.85L249.48 393.35L246.98 395.85L244.48 393.35Z" fill="#404040"/><path d="M242.63 390.7L245.13 393.2L242.63 395.7L240.13 393.2Z" fill="#404040"/><path d="M238.29 390.54L240.79 393.04L238.29 395.54L235.79 393.04Z" fill="#404040"/><path d="M233.94 390.37L236.44 392.87L233.94 395.37L231.44 392.87Z" fill="#404040"/><path d="M229.59 390.2L232.09 392.7L229.59 395.2L227.09 392.7Z" fill="#404040"/><path d="M225.24 390.02L227.74 392.52L225.24 395.02L222.74 392.52Z" fill="#404040"/><path d="M220.89 389.82L223.39 392.32L220.89 394.82L218.39 392.32Z" fill="#404040"/><path d="M216.54 389.61L219.04 392.11L216.54 394.61L214.04 392.11Z" fill="#404040"/><path d="M212.19 389.41L214.69 391.91L212.19 394.41L209.69 391.91Z" fill="#404040"/><path d="M207.84 389.19L210.34 391.69L207.84 394.19L205.34 391.69Z" fill="#404040"/><path d="M203.49 388.67L205.99 391.17L203.49 393.67L200.99 391.17Z" fill="#404040"/><path d="M199.14 382.46L201.64 384.96L199.14 387.46L196.64 384.96Z" fill="#404040"/><path d="M194.79 341.98L197.29 344.48L194.79 346.98L192.29 344.48Z" fill="#404040"/><path d="M190.45 313.82L192.95 316.32L190.45 318.82L187.95 316.32Z" fill="#404040"/><path d="M186.1 295.08L188.6 297.58L186.1 300.08L183.6 297.58Z" fill="#404040"/><path d="M181.75 279.9L184.25 282.4L181.75 284.9L179.25 282.4Z" fill="#404040"/><path d="M177.4 268.9L179.9 271.4L177.4 273.9L174.9 271.4Z" fill="#404040"/><path d="M173.05 260.8L175.55 263.3L173.05 265.8L170.55 263.3Z" fill="#404040"/><path d="M168.7 254.41L171.2 256.91L168.7 259.41L166.2 256.91Z" fill="#404040"/><path d="M164.35 249.26L166.85 251.76L164.35 254.26L161.85 251.76Z" fill="#404040"/><path d="M160 245.87L162.5 248.37L160 250.87L157.5 248.37Z" fill="#404040"/><path d="M155.65 243.46L158.15 245.96L155.65 248.46L153.15 245.96Z" fill="#404040"/><path d="M151.3 241.97L153.8 244.47L151.3 246.97L148.8 244.47Z" fill="#404040"/><path d="M146.95 240.93L149.45 243.43L146.95 245.93L144.45 243.43Z" fill="#404040"/><path d="M142.61 240.03L145.11 242.53L142.61 245.03L140.11 242.53Z" fill="#404040"/><path d="M138.26 239.27L140.76 241.77L138.26 244.27L135.76 241.77Z" fill="#404040"/><path d="M133.91 238.62L136.41 241.12L133.91 243.62L131.41 241.12Z" fill="#404040"/><path d="M129.56 237.99L132.06 240.49L129.56 242.99L127.06 240.49Z" fill="#404040"/><path d="M125.21 237.44L127.71 239.94L125.21 242.44L122.71 239.94Z" fill="#404040"/><path d="M120.86 237.02L123.36 239.52L120.86 242.02L118.36 239.52Z" fill="#404040"/><path d="M116.51 236.78L119.01 239.28L116.51 241.78L114.01 239.28Z" fill="#404040"/><path d="M112.16 236.61L114.66 239.11L112.16 241.61L109.66 239.11Z" fill="#404040"/><path d="M107.81 236.46L110.31 238.96L107.81 241.46L105.31 238.96Z" fill="#404040"/><path d="M103.46 236.34L105.96 238.84L103.46 241.34L100.96 238.84Z" fill="#404040"/><path d="M99.12 236.24L101.62 238.74L99.12 241.24L96.62 238.74Z" fill="#404040"/><path d="M94.77 236.17L97.27 238.67L94.77 241.17L92.27 238.67Z" fill="#404040"/><path d="M90.42 236.11L92.92 238.61L90.42 241.11L87.92 238.61Z" fill="#404040"/><path d="M86.07 236.06L88.57 238.56L86.07 241.06L83.57 238.56Z" fill="#404040"/><path d="M81.72 236.02L84.22 238.52L81.72 241.02L79.22 238.52Z" fill="#404040"/><path d="M77.37 235.98L79.87 238.48L77.37 240.98L74.87 238.48Z" fill="#404040"/><path d="M73.02 235.95L75.52 238.45L73.02 240.95L70.52 238.45Z" fill="#404040"/><path d="M68.67 235.93L71.17 238.43L68.67 240.93L66.17 238.43Z" fill="#404040"/><path d="M64.32 235.92L66.82 238.42L64.32 240.92L61.82 238.42Z" fill="#404040"/><path d="M59.97 235.92L62.47 238.42L59.97 240.92L57.47 238.42Z" fill="#404040"/><path d="M55.62 235.93L58.12 238.43L55.62 240.93L53.12 238.43Z" fill="#404040"/><path d="M51.28 235.96L53.78 238.46L51.28 240.96L48.78 238.46Z" fill="#404040"/><path d="M46.93 235.99L49.43 238.49L46.93 240.99L44.43 238.49Z" fill="#404040"/><path d="M42.58 236.04L45.08 238.54L42.58 241.04L40.08 238.54Z" fill="#404040"/><path d="M38.24 236.1L40.74 238.6L38.24 241.1L35.74 238.6Z" fill="#404040"/><path d="M38.24 236.1L40.74 238.6L38.24 241.1L35.74 238.6Z" fill="#404040"/>
<path d="M38.24 238.6L38.94 238.6L39.64 238.6L40.34 238.6L41.04 238.6L41.74 238.6L42.44 238.6L43.14 238.6L43.84 238.6L44.55 238.6L45.25 238.6L45.95 238.6L46.65 238.6L47.35 238.6L48.05 238.6L48.75 238.6L49.45 238.6L50.15 238.6L50.85 238.6L51.55 238.6L52.25 238.6L52.95 238.6L53.65 238.6L54.35 238.6L55.05 238.6L55.75 238.6L56.45 238.6L57.15 238.6L57.85 238.6L58.55 238.6L59.25 238.6L59.95 238.6L60.65 238.6L61.35 238.6L61.7 238.6L62.05 238.6L62.75 238.6L63.45 238.6L64.15 238.6L64.85 238.6L65.56 238.6L66.26 238.6L66.96 238.6L67.66 238.6L68.36 238.6L69.06 238.6L69.76 238.6L70.46 238.6L71.16 238.6L71.86 238.6L72.56 238.6L73.26 238.6L73.96 238.6L74.66 238.6L75.36 238.6L76.06 238.6L76.76 238.6L77.46 238.6L78.16 238.6L78.86 238.6L79.56 238.6L80.26 238.6L80.96 238.6L81.66 238.6L82.36 238.6L83.06 238.6L83.76 238.6L84.46 238.6L85.16 238.6L85.86 238.6L86.57 238.6L87.27 238.6L87.97 238.6L88.67 238.6L89.37 238.6L89.72 238.6L90.07 238.6L90.77 238.6L91.47 238.6L92.17 238.61L92.87 238.61L93.57 238.61L94.27 238.62L94.97 238.62L95.67 238.63L96.37 238.64L97.07 238.65L97.77 238.65L98.47 238.66L99.17 238.67L99.87 238.68L100.57 238.7L101.27 238.71L101.97 238.72L102.67 238.73L103.37 238.75L104.07 238.76L104.77 238.78L105.47 238.79L106.17 238.81L106.87 238.83L107.58 238.84L108.28 238.86L108.98 238.88L109.68 238.9L110.38 238.92L111.08 238.94L111.78 238.96L112.48 238.98L113.18 239L113.88 239.02L114.58 239.04L115.28 239.07L115.98 239.09L116.68 239.11L117.38 239.14L117.73 239.15L118.08 239.16L118.78 239.19L119.48 239.22L120.18 239.26L120.88 239.31L121.58 239.36L122.28 239.41L122.98 239.47L123.68 239.53L124.38 239.59L125.08 239.66L125.78 239.73L126.48 239.81L127.18 239.88L127.88 239.96L128.59 240.04L129.29 240.12L129.99 240.2L130.69 240.29L131.39 240.37L132.09 240.46L132.79 240.55L133.49 240.63L134.19 240.72L134.89 240.81L135.59 240.89L136.29 240.98L136.99 241.06L137.69 241.14L137.83 241.16L138.39 241.22L139.09 241.3L139.79 241.39L140.49 241.47L141.19 241.55L141.89 241.64L142.59 241.72L143.29 241.81L143.99 241.9L144.69 241.99L145.39 242.08L146.09 242.17L146.79 242.27L147.49 242.36L148.19 242.46L148.89 242.56L149.6 242.67L150.3 242.77L151 242.88L151.7 242.99L152.4 243.11L152.75 243.17L153.1 243.23L153.8 243.34L154.5 243.46L155.2 243.58L155.9 243.7L156.6 243.83L157.3 243.96L158 244.1L158.7 244.25L159.4 244.4L160.1 244.57L160.8 244.75L161.5 244.94L162.2 245.14L162.9 245.36L163.6 245.61L164.3 245.92L165 246.27L165.7 246.66L166.4 247.08L167.1 247.53L167.8 247.99L168.5 248.47L169.2 248.95L169.55 249.2L169.9 249.44L170.61 249.94L171.31 250.46L172.01 251.01L172.71 251.59L173.41 252.2L174.11 252.85L174.81 253.54L175.37 254.13L175.51 254.28L176.21 255.08L176.91 255.94L177.61 256.86L178.31 257.84L179.01 258.87L179.71 259.96L180.41 261.1L181.11 262.28L181.81 263.52L182.51 264.8L182.86 265.46L183.21 266.13L183.91 267.55L184.61 269.05L185.31 270.63L186.01 272.3L186.71 274.04L187.41 275.85L188.11 277.72L188.81 279.66L189.51 281.65L190.21 283.7L190.91 285.79L191.62 287.93L192.32 290.13L193.02 292.41L193.72 294.77L194.42 297.22L195.12 299.76L195.82 302.38L196.52 305.1L197.22 307.9L197.92 310.8L198.62 313.8L199.32 316.9L200.02 320.09L200.37 321.73L200.72 323.43L201.42 327.08L202.12 331.01L202.82 335.13L203.52 339.34L204.22 343.57L204.57 345.66L204.92 347.73L205.62 351.83L206.32 355.94L207.02 360.12L207.72 364.46L208.42 369.01L209.12 373.84L209.19 374.35L209.82 379.45L210.52 386.02L211.22 392.84L211.92 399.21L212.63 404.39L212.98 406.32L213.33 407.95L214.03 410.86L214.73 412.98L215.08 413.63L215.43 414.09L216.13 414.86L216.83 415.39L217.46 415.64L217.53 415.65L218.23 415.78L218.93 415.89L219.63 416L220.33 416.09L221.03 416.17L221.73 416.24L222.43 416.3L223.13 416.36L223.83 416.41L224.53 416.45L225.23 416.49L225.93 416.53L226.63 416.57L227.33 416.6L228.03 416.64L228.73 416.67L229.43 416.71L229.78 416.73L230.13 416.75L230.83 416.8L231.53 416.84L232.23 416.88L232.93 416.92L233.64 416.96L234.34 417L235.04 417.05L235.74 417.09L236.44 417.13L237.14 417.17L237.84 417.21L238.54 417.25L239.24 417.29L239.94 417.32L240.64 417.36L241.34 417.4L242.04 417.44L242.74 417.47L243.44 417.51L244.14 417.55L244.84 417.58L245.54 417.61L246.24 417.65L246.94 417.68L247.64 417.71L248.34 417.74L249.04 417.78L249.74 417.8L250.44 417.83L251.14 417.86L251.84 417.89L252.54 417.92L253.24 417.94L253.94 417.96L254.65 417.99L255.35 418.01L256.05 418.03L256.75 418.05L257.45 418.07L258.15 418.09L258.85 418.1L259.55 418.12L260.25 418.13L260.95 418.15L261.65 418.16L262.35 418.17L263.05 418.18L263.75 418.19L264.38 418.19" fill="none" stroke="#f2373a" stroke-width="1.05" stroke-linejoin="round"/>
<circle cx="264.38" cy="418.19" r="2.35" fill="#f2373a"/><circle cx="260.03" cy="418.13" r="2.35" fill="#f2373a"/><circle cx="255.68" cy="418.02" r="2.35" fill="#f2373a"/><circle cx="251.33" cy="417.87" r="2.35" fill="#f2373a"/><circle cx="246.98" cy="417.68" r="2.35" fill="#f2373a"/><circle cx="242.63" cy="417.47" r="2.35" fill="#f2373a"/><circle cx="238.29" cy="417.23" r="2.35" fill="#f2373a"/><circle cx="233.94" cy="416.98" r="2.35" fill="#f2373a"/><circle cx="229.59" cy="416.72" r="2.35" fill="#f2373a"/><circle cx="225.24" cy="416.49" r="2.35" fill="#f2373a"/><circle cx="220.89" cy="416.15" r="2.35" fill="#f2373a"/><circle cx="216.54" cy="415.2" r="2.35" fill="#f2373a"/><circle cx="212.19" cy="401.35" r="2.35" fill="#f2373a"/><circle cx="207.84" cy="365.21" r="2.35" fill="#f2373a"/><circle cx="203.49" cy="339.17" r="2.35" fill="#f2373a"/><circle cx="199.14" cy="316.11" r="2.35" fill="#f2373a"/><circle cx="194.79" cy="298.58" r="2.35" fill="#f2373a"/><circle cx="190.45" cy="284.38" r="2.35" fill="#f2373a"/><circle cx="186.1" cy="272.5" r="2.35" fill="#f2373a"/><circle cx="181.75" cy="263.41" r="2.35" fill="#f2373a"/><circle cx="177.4" cy="256.58" r="2.35" fill="#f2373a"/><circle cx="173.05" cy="251.88" r="2.35" fill="#f2373a"/><circle cx="168.7" cy="248.61" r="2.35" fill="#f2373a"/><circle cx="164.35" cy="245.94" r="2.35" fill="#f2373a"/><circle cx="160" cy="244.55" r="2.35" fill="#f2373a"/><circle cx="155.65" cy="243.66" r="2.35" fill="#f2373a"/><circle cx="151.3" cy="242.93" r="2.35" fill="#f2373a"/><circle cx="146.95" cy="242.29" r="2.35" fill="#f2373a"/><circle cx="142.61" cy="241.72" r="2.35" fill="#f2373a"/><circle cx="138.26" cy="241.21" r="2.35" fill="#f2373a"/><circle cx="133.91" cy="240.69" r="2.35" fill="#f2373a"/><circle cx="129.56" cy="240.15" r="2.35" fill="#f2373a"/><circle cx="125.21" cy="239.67" r="2.35" fill="#f2373a"/><circle cx="120.86" cy="239.31" r="2.35" fill="#f2373a"/><circle cx="116.51" cy="239.11" r="2.35" fill="#f2373a"/><circle cx="112.16" cy="238.97" r="2.35" fill="#f2373a"/><circle cx="107.81" cy="238.85" r="2.35" fill="#f2373a"/><circle cx="103.46" cy="238.75" r="2.35" fill="#f2373a"/><circle cx="99.12" cy="238.67" r="2.35" fill="#f2373a"/><circle cx="94.77" cy="238.62" r="2.35" fill="#f2373a"/><circle cx="90.42" cy="238.6" r="2.35" fill="#f2373a"/><circle cx="86.07" cy="238.6" r="2.35" fill="#f2373a"/><circle cx="81.72" cy="238.6" r="2.35" fill="#f2373a"/><circle cx="77.37" cy="238.6" r="2.35" fill="#f2373a"/><circle cx="73.02" cy="238.6" r="2.35" fill="#f2373a"/><circle cx="68.67" cy="238.6" r="2.35" fill="#f2373a"/><circle cx="64.32" cy="238.6" r="2.35" fill="#f2373a"/><circle cx="59.97" cy="238.6" r="2.35" fill="#f2373a"/><circle cx="55.62" cy="238.6" r="2.35" fill="#f2373a"/><circle cx="51.28" cy="238.6" r="2.35" fill="#f2373a"/><circle cx="46.93" cy="238.6" r="2.35" fill="#f2373a"/><circle cx="42.58" cy="238.6" r="2.35" fill="#f2373a"/><circle cx="38.24" cy="238.6" r="2.35" fill="#f2373a"/><circle cx="38.24" cy="238.6" r="2.35" fill="#f2373a"/>
<path d="M38.24 238.6L38.94 238.58L39.64 238.56L40.34 238.55L41.04 238.53L41.74 238.51L42.44 238.5L43.14 238.48L43.84 238.46L44.55 238.45L45.25 238.43L45.95 238.42L46.65 238.4L47.35 238.39L48.05 238.38L48.75 238.36L49.45 238.35L50.15 238.34L50.85 238.33L51.55 238.32L52.25 238.31L52.95 238.3L53.65 238.29L54.35 238.28L55.05 238.27L55.75 238.26L56.45 238.26L57.15 238.25L57.85 238.25L58.55 238.24L59.25 238.24L59.95 238.24L60.65 238.24L61.35 238.23L61.7 238.23L62.05 238.23L62.75 238.23L63.45 238.24L64.15 238.24L64.85 238.24L65.56 238.24L66.26 238.24L66.96 238.24L67.66 238.25L68.36 238.25L69.06 238.25L69.76 238.26L70.46 238.26L71.16 238.26L71.86 238.27L72.56 238.27L73.26 238.27L73.96 238.28L74.66 238.28L75.36 238.29L76.06 238.29L76.76 238.3L77.46 238.31L78.16 238.31L78.86 238.32L79.56 238.32L80.26 238.33L80.96 238.33L81.66 238.34L82.36 238.35L83.06 238.35L83.76 238.36L84.46 238.37L85.16 238.37L85.86 238.38L86.57 238.39L87.27 238.39L87.97 238.4L88.67 238.41L89.37 238.41L89.72 238.42L90.07 238.42L90.77 238.43L91.47 238.44L92.17 238.44L92.87 238.45L93.57 238.46L94.27 238.47L94.97 238.48L95.67 238.49L96.37 238.49L97.07 238.5L97.77 238.51L98.47 238.53L99.17 238.54L99.87 238.55L100.57 238.56L101.27 238.57L101.97 238.58L102.67 238.59L103.37 238.61L104.07 238.62L104.77 238.63L105.47 238.65L106.17 238.66L106.87 238.68L107.58 238.69L108.28 238.71L108.98 238.72L109.68 238.74L110.38 238.76L111.08 238.78L111.78 238.79L112.48 238.81L113.18 238.83L113.88 238.85L114.58 238.87L115.28 238.89L115.98 238.91L116.68 238.93L117.38 238.95L117.73 238.97L118.08 238.98L118.78 239L119.48 239.03L120.18 239.06L120.88 239.1L121.58 239.13L122.28 239.17L122.98 239.21L123.68 239.26L124.38 239.3L125.08 239.35L125.78 239.4L126.48 239.45L127.18 239.5L127.88 239.56L128.59 239.61L129.29 239.67L129.99 239.73L130.69 239.79L131.39 239.85L132.09 239.91L132.79 239.97L133.49 240.04L134.19 240.1L134.89 240.16L135.59 240.22L136.29 240.29L136.99 240.35L137.69 240.41L137.83 240.43L138.39 240.48L139.09 240.54L139.79 240.61L140.49 240.68L141.19 240.75L141.89 240.83L142.59 240.9L143.29 240.98L143.99 241.06L144.69 241.14L145.39 241.22L146.09 241.31L146.79 241.39L147.49 241.48L148.19 241.57L148.89 241.66L149.25 241.71L149.6 241.75L150.3 241.84L151 241.93L151.7 242.03L152.4 242.12L153.1 242.22L153.8 242.32L154.5 242.43L155.2 242.54L155.9 242.66L156.6 242.78L157.3 242.92L157.65 242.98L158 243.06L158.7 243.21L159.4 243.37L160.1 243.54L160.8 243.72L161.5 243.91L162.2 244.11L162.9 244.32L163.6 244.54L164.3 244.77L165 245.01L165.7 245.26L166.4 245.52L167.1 245.79L167.8 246.06L167.87 246.09L168.5 246.35L169.2 246.65L169.9 246.97L170.61 247.3L171.31 247.65L172.01 248.01L172.71 248.39L173.41 248.79L174.11 249.21L174.81 249.65L175.51 250.11L176.21 250.59L176.91 251.09L177.61 251.62L178.31 252.16L179.01 252.73L179.15 252.85L179.71 253.35L180.41 254.04L181.11 254.8L181.81 255.63L182.51 256.51L183.21 257.44L183.91 258.41L184.61 259.42L185.31 260.46L186.01 261.51L186.71 262.57L187.41 263.64L187.76 264.18L188.11 264.71L188.81 265.79L189.51 266.88L190.21 268L190.91 269.14L191.62 270.32L192.32 271.53L193.02 272.79L193.72 274.1L194.42 275.46L195.12 276.89L195.82 278.38L196.52 279.95L196.73 280.44L197.22 281.61L197.92 283.4L198.62 285.31L199.32 287.34L200.02 289.48L200.72 291.71L201.42 294.03L202.12 296.43L202.82 298.91L203.52 301.45L204.22 304.04L204.92 306.69L205.27 308.03L205.62 309.4L206.32 312.31L207.02 315.4L207.72 318.63L208.42 321.93L209.12 325.28L209.68 327.94L209.82 328.6L210.52 331.85L211.22 335.07L211.92 338.35L212.63 341.76L213.33 345.4L214.03 349.34L214.24 350.6L214.73 353.77L215.43 358.89L216.13 364.44L216.83 370.1L217.53 375.59L217.88 378.18L218.23 380.81L218.93 386.54L219.63 392.44L220.33 397.99L221.03 402.67L221.73 405.93L222.08 406.87L222.43 407.5L223.13 408.55L223.83 409.24L224.18 409.42L224.53 409.55L225.23 409.74L225.93 409.87L226.63 409.97L226.7 409.97L227.33 410.03L228.03 410.1L228.73 410.16L229.43 410.22L230.13 410.27L230.83 410.32L231.53 410.37L232.23 410.41L232.93 410.45L233.64 410.49L234.34 410.53L235.04 410.56L235.74 410.59L236.44 410.62L237.14 410.65L237.84 410.68L238.54 410.7L239.24 410.73L239.94 410.75L240.64 410.78L241.34 410.8L242.04 410.83L242.74 410.85L243.44 410.87L243.79 410.89L244.14 410.9L244.84 410.92L245.54 410.95L246.24 410.97L246.94 411L247.64 411.02L248.34 411.04L249.04 411.07L249.74 411.09L250.44 411.11L251.14 411.13L251.84 411.15L252.54 411.17L253.24 411.19L253.94 411.21L254.65 411.23L255.35 411.25L256.05 411.27L256.75 411.29L257.45 411.3L258.15 411.32L258.85 411.34L259.55 411.35L260.25 411.36L260.95 411.38L261.65 411.39L262.35 411.4L263.05 411.41L263.75 411.42L264.38 411.43" fill="none" stroke="#1f63e8" stroke-width="1.05" stroke-linejoin="round"/>
<path d="M264.38 408.83L266.77 413.04L261.99 413.04Z" fill="#1f63e8"/><path d="M260.03 408.76L262.42 412.97L257.64 412.97Z" fill="#1f63e8"/><path d="M255.68 408.66L258.07 412.87L253.29 412.87Z" fill="#1f63e8"/><path d="M251.33 408.54L253.72 412.75L248.94 412.75Z" fill="#1f63e8"/><path d="M246.98 408.4L249.38 412.61L244.59 412.61Z" fill="#1f63e8"/><path d="M242.63 408.25L245.03 412.46L240.24 412.46Z" fill="#1f63e8"/><path d="M238.29 408.09L240.68 412.31L235.89 412.31Z" fill="#1f63e8"/><path d="M233.94 407.91L236.33 412.12L231.54 412.12Z" fill="#1f63e8"/><path d="M229.59 407.63L231.98 411.84L227.2 411.84Z" fill="#1f63e8"/><path d="M225.24 407.14L227.63 411.35L222.85 411.35Z" fill="#1f63e8"/><path d="M220.89 399.23L223.28 403.44L218.5 403.44Z" fill="#1f63e8"/><path d="M216.54 365.18L218.93 369.39L214.15 369.39Z" fill="#1f63e8"/><path d="M212.19 337.03L214.58 341.24L209.8 341.24Z" fill="#1f63e8"/><path d="M207.84 316.58L210.23 320.8L205.45 320.8Z" fill="#1f63e8"/><path d="M203.49 298.75L205.88 302.96L201.1 302.96Z" fill="#1f63e8"/><path d="M199.14 284.22L201.54 288.44L196.75 288.44Z" fill="#1f63e8"/><path d="M194.79 273.63L197.19 277.84L192.4 277.84Z" fill="#1f63e8"/><path d="M190.45 265.77L192.84 269.98L188.05 269.98Z" fill="#1f63e8"/><path d="M186.1 259.04L188.49 263.25L183.7 263.25Z" fill="#1f63e8"/><path d="M181.75 252.95L184.14 257.16L179.36 257.16Z" fill="#1f63e8"/><path d="M177.4 248.86L179.79 253.07L175.01 253.07Z" fill="#1f63e8"/><path d="M173.05 245.99L175.44 250.2L170.66 250.2Z" fill="#1f63e8"/><path d="M168.7 243.83L171.09 248.04L166.31 248.04Z" fill="#1f63e8"/><path d="M164.35 242.19L166.74 246.4L161.96 246.4Z" fill="#1f63e8"/><path d="M160 240.92L162.39 245.13L157.61 245.13Z" fill="#1f63e8"/><path d="M155.65 240.02L158.05 244.23L153.26 244.23Z" fill="#1f63e8"/><path d="M151.3 239.37L153.7 243.59L148.91 243.59Z" fill="#1f63e8"/><path d="M146.95 238.81L149.35 243.03L144.56 243.03Z" fill="#1f63e8"/><path d="M142.61 238.31L145 242.52L140.21 242.52Z" fill="#1f63e8"/><path d="M138.26 237.87L140.65 242.08L135.86 242.08Z" fill="#1f63e8"/><path d="M133.91 237.47L136.3 241.68L131.52 241.68Z" fill="#1f63e8"/><path d="M129.56 237.09L131.95 241.31L127.17 241.31Z" fill="#1f63e8"/><path d="M125.21 236.76L127.6 240.97L122.82 240.97Z" fill="#1f63e8"/><path d="M120.86 236.49L123.25 240.71L118.47 240.71Z" fill="#1f63e8"/><path d="M116.51 236.33L118.9 240.54L114.12 240.54Z" fill="#1f63e8"/><path d="M112.16 236.2L114.55 240.42L109.77 240.42Z" fill="#1f63e8"/><path d="M107.81 236.1L110.21 240.31L105.42 240.31Z" fill="#1f63e8"/><path d="M103.46 236.01L105.86 240.22L101.07 240.22Z" fill="#1f63e8"/><path d="M99.12 235.93L101.51 240.15L96.72 240.15Z" fill="#1f63e8"/><path d="M94.77 235.87L97.16 240.09L92.37 240.09Z" fill="#1f63e8"/><path d="M90.42 235.82L92.81 240.04L88.02 240.04Z" fill="#1f63e8"/><path d="M86.07 235.78L88.46 239.99L83.68 239.99Z" fill="#1f63e8"/><path d="M81.72 235.74L84.11 239.95L79.33 239.95Z" fill="#1f63e8"/><path d="M77.37 235.7L79.76 239.92L74.98 239.92Z" fill="#1f63e8"/><path d="M73.02 235.67L75.41 239.89L70.63 239.89Z" fill="#1f63e8"/><path d="M68.67 235.65L71.06 239.86L66.28 239.86Z" fill="#1f63e8"/><path d="M64.32 235.64L66.71 239.85L61.93 239.85Z" fill="#1f63e8"/><path d="M59.97 235.64L62.37 239.85L57.58 239.85Z" fill="#1f63e8"/><path d="M55.62 235.67L58.02 239.88L53.23 239.88Z" fill="#1f63e8"/><path d="M51.28 235.72L53.67 239.93L48.88 239.93Z" fill="#1f63e8"/><path d="M46.93 235.8L49.32 240.01L44.53 240.01Z" fill="#1f63e8"/><path d="M42.58 235.89L44.97 240.11L40.19 240.11Z" fill="#1f63e8"/><path d="M38.24 236L40.63 240.21L35.85 240.21Z" fill="#1f63e8"/><path d="M38.24 236L40.63 240.21L35.85 240.21Z" fill="#1f63e8"/>
<path d="M38.24 238.6L38.94 238.24L39.64 237.88L40.34 237.56L41.04 237.28L41.74 237.08L42.44 236.97L42.79 236.96L43.14 236.96L43.84 236.99L44.55 237.04L45.25 237.11L45.95 237.19L46.65 237.28L47.35 237.37L48.05 237.46L48.75 237.54L49.45 237.6L50.15 237.66L50.85 237.68L51.2 237.69L51.55 237.69L52.25 237.69L52.95 237.69L53.65 237.69L54.35 237.69L55.05 237.69L55.75 237.69L56.45 237.69L57.15 237.69L57.85 237.69L58.55 237.69L59.25 237.69L59.95 237.69L60.65 237.69L61.35 237.69L62.05 237.69L62.75 237.69L63.45 237.69L64.15 237.69L64.85 237.69L65.56 237.69L66.26 237.69L66.96 237.69L67.66 237.69L68.36 237.69L69.06 237.69L69.76 237.69L70.46 237.69L71.16 237.69L71.86 237.69L72.56 237.69L73.26 237.69L73.96 237.69L74.66 237.69L75.36 237.69L76.06 237.69L76.76 237.69L77.46 237.69L78.16 237.69L78.86 237.69L79.56 237.69L80.26 237.69L80.96 237.69L81.66 237.69L82.36 237.69L83.06 237.69L83.76 237.69L84.46 237.69L85.16 237.69L85.86 237.69L86.57 237.69L87.27 237.69L87.97 237.69L88.67 237.69L89.37 237.69L89.72 237.69L90.07 237.69L90.77 237.69L91.47 237.69L92.17 237.69L92.87 237.69L93.57 237.69L94.27 237.69L94.97 237.69L95.67 237.69L96.37 237.69L97.07 237.69L97.77 237.69L98.47 237.69L99.17 237.69L99.87 237.69L100.57 237.69L101.27 237.69L101.97 237.69L102.67 237.69L103.37 237.69L104.07 237.69L104.77 237.69L105.47 237.69L106.17 237.69L106.87 237.69L107.58 237.69L108.28 237.69L108.98 237.69L109.68 237.69L110.38 237.69L111.08 237.69L111.78 237.69L112.48 237.69L113.18 237.69L113.88 237.69L114.58 237.69L115.28 237.69L115.98 237.69L116.68 237.69L117.38 237.69L117.73 237.69L118.08 237.69L118.78 237.69L119.48 237.69L120.18 237.69L120.88 237.69L121.58 237.69L122.28 237.7L122.98 237.7L123.68 237.7L124.38 237.71L125.08 237.71L125.78 237.72L126.48 237.72L127.18 237.73L127.88 237.74L128.59 237.74L129.29 237.75L129.99 237.76L130.69 237.76L131.39 237.77L132.09 237.78L132.79 237.79L133.49 237.8L134.19 237.81L134.89 237.82L135.59 237.83L136.29 237.84L136.99 237.85L137.69 237.87L137.83 237.87L138.39 237.88L139.09 237.9L139.79 237.93L140.49 237.97L141.19 238.02L141.89 238.07L142.59 238.12L143.29 238.19L143.99 238.25L144.69 238.33L145.39 238.4L146.09 238.48L146.79 238.56L147.49 238.65L148.19 238.74L148.89 238.83L149.6 238.92L150.3 239.01L151 239.1L151.7 239.19L152.4 239.29L152.75 239.33L153.1 239.38L153.8 239.47L154.5 239.57L155.2 239.68L155.9 239.79L156.6 239.9L157.3 240.02L158 240.14L158.7 240.27L159.4 240.4L160.1 240.54L160.8 240.68L161.5 240.83L162.2 240.98L162.9 241.13L163.6 241.29L164.3 241.45L165 241.62L165.35 241.71L165.7 241.79L166.4 241.97L167.1 242.16L167.8 242.35L168.5 242.55L169.2 242.76L169.9 242.97L170.61 243.19L171.31 243.42L172.01 243.66L172.71 243.91L173.41 244.17L174.11 244.43L174.81 244.71L175.51 244.99L176.21 245.29L176.91 245.59L177.61 245.91L178.31 246.23L179.01 246.57L179.15 246.64L179.71 246.92L180.41 247.31L181.11 247.73L181.81 248.18L182.51 248.65L183.21 249.15L183.91 249.67L184.61 250.21L185.31 250.77L186.01 251.35L186.71 251.94L187.41 252.54L187.76 252.85L188.11 253.16L188.81 253.79L189.51 254.44L190.21 255.12L190.91 255.82L191.62 256.55L192.32 257.31L193.02 258.09L193.72 258.92L194.42 259.78L195.12 260.68L195.82 261.61L196.52 262.6L196.73 262.9L197.22 263.63L197.92 264.74L198.62 265.92L199.32 267.18L200.02 268.5L200.72 269.89L201.42 271.35L202.12 272.87L202.82 274.45L203.52 276.09L204.22 277.79L204.92 279.54L205.27 280.44L205.62 281.35L206.32 283.27L207.02 285.29L207.72 287.41L208.42 289.64L209.12 291.96L209.82 294.38L210.52 296.89L211.22 299.5L211.92 302.19L212.63 304.97L213.33 307.84L214.03 310.78L214.24 311.68L214.73 313.86L215.43 317.22L216.13 320.82L216.83 324.61L217.53 328.53L218.23 332.54L218.51 334.15L218.93 336.64L219.63 341L220.33 345.53L221.03 350.11L221.73 354.62L222.08 356.81L222.43 358.95L223.13 363.19L223.83 367.37L224.53 371.52L225.23 375.66L225.93 379.8L226.63 383.97L226.7 384.39L227.33 388.61L228.03 393.93L228.73 399.33L229.43 404.22L230.13 407.98L230.83 410.01L230.97 410.16L231.53 410.5L232.23 410.82L232.93 411.02L233.29 411.07L233.64 411.11L234.34 411.17L235.04 411.23L235.74 411.29L236.44 411.33L237.14 411.37L237.84 411.41L238.54 411.44L239.24 411.47L239.94 411.49L240.64 411.52L241.34 411.54L242.04 411.56L242.74 411.58L243.44 411.6L243.79 411.62L244.14 411.63L244.84 411.65L245.54 411.68L246.24 411.7L246.94 411.73L247.64 411.75L248.34 411.78L249.04 411.8L249.74 411.82L250.44 411.85L251.14 411.87L251.84 411.89L252.54 411.91L253.24 411.93L253.94 411.95L254.65 411.97L255.35 411.99L256.05 412.01L256.75 412.03L257.45 412.04L258.15 412.06L258.85 412.08L259.55 412.09L260.25 412.1L260.95 412.11L261.65 412.13L262.35 412.14L263.05 412.15L263.75 412.15L264.38 412.16" fill="none" stroke="#25a558" stroke-width="1.05" stroke-linejoin="round"/>
<path d="M264.38 409.46L265.05 411.24L266.95 411.33L265.46 412.51L265.97 414.35L264.38 413.3L262.79 414.35L263.3 412.51L261.81 411.33L263.71 411.24Z" fill="#25a558"/><path d="M260.03 409.4L260.7 411.18L262.6 411.26L261.11 412.45L261.62 414.28L260.03 413.23L258.44 414.28L258.95 412.45L257.46 411.26L259.36 411.18Z" fill="#25a558"/><path d="M255.68 409.3L256.35 411.08L258.25 411.17L256.76 412.35L257.27 414.18L255.68 413.13L254.09 414.18L254.6 412.35L253.11 411.17L255.02 411.08Z" fill="#25a558"/><path d="M251.33 409.17L252 410.96L253.9 411.04L252.41 412.23L252.92 414.06L251.33 413.01L249.75 414.06L250.25 412.23L248.76 411.04L250.67 410.96Z" fill="#25a558"/><path d="M246.98 409.03L247.65 410.81L249.55 410.9L248.06 412.08L248.57 413.91L246.98 412.86L245.4 413.91L245.91 412.08L244.42 410.9L246.32 410.81Z" fill="#25a558"/><path d="M242.63 408.88L243.3 410.66L245.2 410.74L243.71 411.93L244.22 413.76L242.63 412.71L241.05 413.76L241.56 411.93L240.07 410.74L241.97 410.66Z" fill="#25a558"/><path d="M238.29 408.73L238.95 410.51L240.85 410.6L239.36 411.78L239.87 413.61L238.29 412.56L236.7 413.61L237.21 411.78L235.72 410.6L237.62 410.51Z" fill="#25a558"/><path d="M233.94 408.44L234.6 410.22L236.5 410.3L235.01 411.49L235.52 413.32L233.94 412.27L232.35 413.32L232.86 411.49L231.37 410.3L233.27 410.22Z" fill="#25a558"/><path d="M229.59 402.47L230.25 404.25L232.16 404.33L230.67 405.52L231.17 407.35L229.59 406.3L228 407.35L228.51 405.52L227.02 404.33L228.92 404.25Z" fill="#25a558"/><path d="M225.24 373L225.9 374.78L227.81 374.86L226.32 376.05L226.83 377.88L225.24 376.83L223.65 377.88L224.16 376.05L222.67 374.86L224.57 374.78Z" fill="#25a558"/><path d="M220.89 346.5L221.56 348.28L223.46 348.37L221.97 349.55L222.48 351.39L220.89 350.33L219.3 351.39L219.81 349.55L218.32 348.37L220.22 348.28Z" fill="#25a558"/><path d="M216.54 320.34L217.21 322.12L219.11 322.2L217.62 323.39L218.13 325.22L216.54 324.17L214.95 325.22L215.46 323.39L213.97 322.2L215.87 322.12Z" fill="#25a558"/><path d="M212.19 300.54L212.86 302.32L214.76 302.4L213.27 303.59L213.78 305.42L212.19 304.37L210.6 305.42L211.11 303.59L209.62 302.4L211.52 302.32Z" fill="#25a558"/><path d="M207.84 285.08L208.51 286.87L210.41 286.95L208.92 288.13L209.43 289.97L207.84 288.92L206.25 289.97L206.76 288.13L205.27 286.95L207.18 286.87Z" fill="#25a558"/><path d="M203.49 273.32L204.16 275.11L206.06 275.19L204.57 276.38L205.08 278.21L203.49 277.16L201.91 278.21L202.41 276.38L200.92 275.19L202.83 275.11Z" fill="#25a558"/><path d="M199.14 264.16L199.81 265.94L201.71 266.02L200.22 267.21L200.73 269.04L199.14 267.99L197.56 269.04L198.07 267.21L196.58 266.02L198.48 265.94Z" fill="#25a558"/><path d="M194.79 257.56L195.46 259.34L197.36 259.42L195.87 260.61L196.38 262.44L194.79 261.39L193.21 262.44L193.72 260.61L192.23 259.42L194.13 259.34Z" fill="#25a558"/><path d="M190.45 252.65L191.11 254.43L193.01 254.51L191.52 255.7L192.03 257.53L190.45 256.48L188.86 257.53L189.37 255.7L187.88 254.51L189.78 254.43Z" fill="#25a558"/><path d="M186.1 248.72L186.76 250.5L188.66 250.59L187.18 251.77L187.68 253.6L186.1 252.55L184.51 253.6L185.02 251.77L183.53 250.59L185.43 250.5Z" fill="#25a558"/><path d="M181.75 245.44L182.41 247.22L184.32 247.3L182.83 248.49L183.33 250.32L181.75 249.27L180.16 250.32L180.67 248.49L179.18 247.3L181.08 247.22Z" fill="#25a558"/><path d="M177.4 243.11L178.06 244.9L179.97 244.98L178.48 246.16L178.99 248L177.4 246.95L175.81 248L176.32 246.16L174.83 244.98L176.73 244.9Z" fill="#25a558"/><path d="M173.05 241.34L173.72 243.12L175.62 243.2L174.13 244.39L174.64 246.22L173.05 245.17L171.46 246.22L171.97 244.39L170.48 243.2L172.38 243.12Z" fill="#25a558"/><path d="M168.7 239.91L169.37 241.69L171.27 241.77L169.78 242.96L170.29 244.79L168.7 243.74L167.11 244.79L167.62 242.96L166.13 241.77L168.03 241.69Z" fill="#25a558"/><path d="M164.35 238.76L165.02 240.55L166.92 240.63L165.43 241.81L165.94 243.65L164.35 242.6L162.76 243.65L163.27 241.81L161.78 240.63L163.68 240.55Z" fill="#25a558"/><path d="M160 237.82L160.67 239.6L162.57 239.69L161.08 240.87L161.59 242.7L160 241.65L158.42 242.7L158.92 240.87L157.43 239.69L159.34 239.6Z" fill="#25a558"/><path d="M155.65 237.05L156.32 238.83L158.22 238.91L156.73 240.1L157.24 241.93L155.65 240.88L154.07 241.93L154.57 240.1L153.09 238.91L154.99 238.83Z" fill="#25a558"/><path d="M151.3 236.44L151.97 238.22L153.87 238.31L152.38 239.49L152.89 241.33L151.3 240.28L149.72 241.33L150.23 239.49L148.74 238.31L150.64 238.22Z" fill="#25a558"/><path d="M146.95 235.88L147.62 237.67L149.52 237.75L148.03 238.93L148.54 240.77L146.95 239.72L145.37 240.77L145.88 238.93L144.39 237.75L146.29 237.67Z" fill="#25a558"/><path d="M142.61 235.43L143.27 237.21L145.17 237.29L143.68 238.48L144.19 240.31L142.61 239.26L141.02 240.31L141.53 238.48L140.04 237.29L141.94 237.21Z" fill="#25a558"/><path d="M138.26 235.18L138.92 236.96L140.82 237.04L139.34 238.23L139.84 240.06L138.26 239.01L136.67 240.06L137.18 238.23L135.69 237.04L137.59 236.96Z" fill="#25a558"/><path d="M133.91 235.11L134.57 236.89L136.48 236.97L134.99 238.16L135.49 239.99L133.91 238.94L132.32 239.99L132.83 238.16L131.34 236.97L133.24 236.89Z" fill="#25a558"/><path d="M129.56 235.05L130.23 236.83L132.13 236.92L130.64 238.1L131.15 239.94L129.56 238.89L127.97 239.94L128.48 238.1L126.99 236.92L128.89 236.83Z" fill="#25a558"/><path d="M125.21 235.01L125.88 236.8L127.78 236.88L126.29 238.06L126.8 239.9L125.21 238.85L123.62 239.9L124.13 238.06L122.64 236.88L124.54 236.8Z" fill="#25a558"/><path d="M120.86 234.99L121.53 236.77L123.43 236.86L121.94 238.04L122.45 239.88L120.86 238.83L119.27 239.88L119.78 238.04L118.29 236.86L120.19 236.77Z" fill="#25a558"/><path d="M116.51 234.99L117.18 236.77L119.08 236.85L117.59 238.04L118.1 239.87L116.51 238.82L114.92 239.87L115.43 238.04L113.94 236.85L115.84 236.77Z" fill="#25a558"/><path d="M112.16 234.99L112.83 236.77L114.73 236.85L113.24 238.04L113.75 239.87L112.16 238.82L110.58 239.87L111.08 238.04L109.59 236.85L111.5 236.77Z" fill="#25a558"/><path d="M107.81 234.99L108.48 236.77L110.38 236.85L108.89 238.04L109.4 239.87L107.81 238.82L106.23 239.87L106.73 238.04L105.25 236.85L107.15 236.77Z" fill="#25a558"/><path d="M103.46 234.99L104.13 236.77L106.03 236.85L104.54 238.04L105.05 239.87L103.46 238.82L101.88 239.87L102.39 238.04L100.9 236.85L102.8 236.77Z" fill="#25a558"/><path d="M99.12 234.99L99.78 236.77L101.68 236.85L100.19 238.04L100.7 239.87L99.12 238.82L97.53 239.87L98.04 238.04L96.55 236.85L98.45 236.77Z" fill="#25a558"/><path d="M94.77 234.99L95.43 236.77L97.33 236.85L95.84 238.04L96.35 239.87L94.77 238.82L93.18 239.87L93.69 238.04L92.2 236.85L94.1 236.77Z" fill="#25a558"/><path d="M90.42 234.99L91.08 236.77L92.98 236.85L91.5 238.04L92 239.87L90.42 238.82L88.83 239.87L89.34 238.04L87.85 236.85L89.75 236.77Z" fill="#25a558"/><path d="M86.07 234.99L86.73 236.77L88.64 236.85L87.15 238.04L87.65 239.87L86.07 238.82L84.48 239.87L84.99 238.04L83.5 236.85L85.4 236.77Z" fill="#25a558"/><path d="M81.72 234.99L82.39 236.77L84.29 236.85L82.8 238.04L83.31 239.87L81.72 238.82L80.13 239.87L80.64 238.04L79.15 236.85L81.05 236.77Z" fill="#25a558"/><path d="M77.37 234.99L78.04 236.77L79.94 236.85L78.45 238.04L78.96 239.87L77.37 238.82L75.78 239.87L76.29 238.04L74.8 236.85L76.7 236.77Z" fill="#25a558"/><path d="M73.02 234.99L73.69 236.77L75.59 236.85L74.1 238.04L74.61 239.87L73.02 238.82L71.43 239.87L71.94 238.04L70.45 236.85L72.35 236.77Z" fill="#25a558"/><path d="M68.67 234.99L69.34 236.77L71.24 236.85L69.75 238.04L70.26 239.87L68.67 238.82L67.08 239.87L67.59 238.04L66.1 236.85L68.01 236.77Z" fill="#25a558"/><path d="M64.32 234.99L64.99 236.77L66.89 236.85L65.4 238.04L65.91 239.87L64.32 238.82L62.74 239.87L63.24 238.04L61.75 236.85L63.66 236.77Z" fill="#25a558"/><path d="M59.97 234.99L60.64 236.77L62.54 236.85L61.05 238.04L61.56 239.87L59.97 238.82L58.39 239.87L58.9 238.04L57.41 236.85L59.31 236.77Z" fill="#25a558"/><path d="M55.62 234.99L56.29 236.77L58.19 236.85L56.7 238.04L57.21 239.87L55.62 238.82L54.04 239.87L54.55 238.04L53.06 236.85L54.96 236.77Z" fill="#25a558"/><path d="M51.28 234.99L51.94 236.77L53.84 236.85L52.35 238.04L52.86 239.87L51.28 238.82L49.69 239.87L50.2 238.04L48.71 236.85L50.61 236.77Z" fill="#25a558"/><path d="M46.93 234.61L47.59 236.39L49.49 236.48L48 237.66L48.51 239.5L46.93 238.45L45.34 239.5L45.85 237.66L44.36 236.48L46.26 236.39Z" fill="#25a558"/><path d="M42.58 234.26L43.24 236.04L45.15 236.13L43.66 237.31L44.16 239.15L42.58 238.1L40.99 239.15L41.5 237.31L40.01 236.13L41.91 236.04Z" fill="#25a558"/><path d="M38.24 235.9L38.91 237.68L40.81 237.77L39.32 238.95L39.83 240.78L38.24 239.73L36.66 240.78L37.16 238.95L35.67 237.77L37.58 237.68Z" fill="#25a558"/><path d="M38.24 235.9L38.91 237.68L40.81 237.77L39.32 238.95L39.83 240.78L38.24 239.73L36.66 240.78L37.16 238.95L35.67 237.77L37.58 237.68Z" fill="#25a558"/>
<rect x="52.7" y="362.3" width="47.7" height="42.4" fill="#fff" stroke="#6a6a6a" stroke-width="0.8"/>
<g font-size="8.1" font-weight="bold" fill="#2e2e2e" stroke="#2e2e2e" stroke-width="0.15">
<path d="M53.5 368.3h13" stroke="#404040" stroke-width="1.05"/>
<path d="M60.1 366.25L62.15 368.3L60.1 370.35L58.05 368.3Z" fill="#404040"/>
<text x="66.5" y="371.1">3 K/min</text>
<path d="M53.5 378.8h13" stroke="#f2373a" stroke-width="1.05"/>
<circle cx="60.1" cy="378.8" r="1.93" fill="#f2373a"/>
<text x="66.5" y="381.6">5 K/min</text>
<path d="M53.5 389.3h13" stroke="#1f63e8" stroke-width="1.05"/>
<path d="M60.1 387.17L62.06 390.62L58.14 390.62Z" fill="#1f63e8"/>
<text x="66.5" y="392.1">10 K/min</text>
<path d="M53.5 399.8h13" stroke="#25a558" stroke-width="1.05"/>
<path d="M60.1 397.59L60.65 399.05L62.21 399.12L60.98 400.09L61.4 401.59L60.1 400.73L58.8 401.59L59.22 400.09L57.99 399.12L59.55 399.05Z" fill="#25a558"/>
<text x="66.5" y="402.6">15 K/min</text>
</g>
</g>
<g id="panel-d">
<rect x="304.8" y="229.2" width="239.1" height="192.4" fill="#fff" stroke="#444444" stroke-width="1.15"/>
<path d="M325.7 421.6v-3.3M360.87 421.6v-3.3M396.03 421.6v-3.3M431.2 421.6v-3.3M466.37 421.6v-3.3M501.53 421.6v-3.3M536.7 421.6v-3.3M308.12 421.6v-1.9M343.28 421.6v-1.9M378.45 421.6v-1.9M413.62 421.6v-1.9M448.78 421.6v-1.9M483.95 421.6v-1.9M519.12 421.6v-1.9M304.8 412.1h3.3M304.8 392.81h3.3M304.8 373.52h3.3M304.8 354.23h3.3M304.8 334.94h3.3M304.8 315.66h3.3M304.8 296.37h3.3M304.8 277.08h3.3M304.8 257.79h3.3M304.8 238.5h3.3M304.8 402.46h1.9M304.8 383.17h1.9M304.8 363.88h1.9M304.8 344.59h1.9M304.8 325.3h1.9M304.8 306.01h1.9M304.8 286.72h1.9M304.8 267.43h1.9M304.8 248.14h1.9" stroke="#444444" stroke-width="1" fill="none"/>
<g font-size="7.9" fill="#2e2e2e" stroke="#2e2e2e" stroke-width="0.42">
<text x="325.7" y="433.2" text-anchor="middle">50</text>
<text x="360.87" y="433.2" text-anchor="middle">100</text>
<text x="396.03" y="433.2" text-anchor="middle">150</text>
<text x="431.2" y="433.2" text-anchor="middle">200</text>
<text x="466.37" y="433.2" text-anchor="middle">250</text>
<text x="501.53" y="433.2" text-anchor="middle">300</text>
<text x="536.7" y="433.2" text-anchor="middle">350</text>
<text x="300.2" y="415.6" text-anchor="end">55</text>
<text x="300.2" y="396.31" text-anchor="end">60</text>
<text x="300.2" y="377.02" text-anchor="end">65</text>
<text x="300.2" y="357.73" text-anchor="end">70</text>
<text x="300.2" y="338.44" text-anchor="end">75</text>
<text x="300.2" y="319.16" text-anchor="end">80</text>
<text x="300.2" y="299.87" text-anchor="end">85</text>
<text x="300.2" y="280.58" text-anchor="end">90</text>
<text x="300.2" y="261.29" text-anchor="end">95</text>
<text x="300.2" y="242" text-anchor="end">100</text>
</g>
<text x="424.75" y="446.4" font-size="9.6" fill="#2e2e2e" text-anchor="middle"><tspan font-weight="bold" font-style="italic" font-size="10" stroke="#2e2e2e" stroke-width="0.3">T</tspan><tspan stroke="#2e2e2e" stroke-width="0.3">/℃</tspan></text>
<text transform="translate(284.8 324.8) rotate(-90) scale(1.15 1)" font-size="9.2" font-weight="bold" fill="#2e2e2e" stroke="#2e2e2e" stroke-width="0.2" text-anchor="middle">w/%</text>
<text x="543.6" y="237.1" font-size="7.8" font-weight="bold" fill="#2e2e2e" stroke="#2e2e2e" stroke-width="0.2" text-anchor="end">(d)</text>
<path d="M308.82 238.11L309.52 238.18L310.23 238.24L310.93 238.31L311.63 238.37L312.34 238.43L313.04 238.5L313.74 238.56L314.45 238.62L315.15 238.68L315.85 238.75L316.56 238.81L317.26 238.87L317.96 238.93L318.67 238.98L319.37 239.04L320.07 239.1L320.78 239.16L321.48 239.22L322.18 239.27L322.89 239.33L323.59 239.38L324.29 239.44L325 239.49L325.7 239.55L326.4 239.6L327.11 239.65L327.81 239.7L328.51 239.75L329.22 239.8L329.92 239.85L330.62 239.9L331.33 239.95L332.03 240L332.73 240.04L333.44 240.09L334.14 240.13L334.84 240.18L335.55 240.22L336.25 240.27L336.95 240.31L337.66 240.35L338.36 240.39L339.06 240.43L339.77 240.47L340.47 240.51L341.17 240.55L341.88 240.59L342.58 240.63L343.28 240.67L343.99 240.71L344.69 240.74L345.39 240.78L346.1 240.82L346.8 240.86L347.5 240.89L348.21 240.93L348.91 240.97L349.61 241L350.32 241.04L351.02 241.07L351.72 241.11L352.43 241.15L353.13 241.18L353.83 241.22L354.54 241.25L355.24 241.29L355.94 241.33L356.65 241.36L357.35 241.4L358.05 241.44L358.76 241.47L359.46 241.51L360.16 241.55L360.87 241.59L361.57 241.62L362.27 241.66L362.98 241.69L363.68 241.72L364.38 241.75L365.09 241.79L365.79 241.82L366.49 241.85L367.2 241.88L367.9 241.91L368.6 241.94L369.31 241.97L370.01 242.01L370.71 242.04L371.42 242.08L372.12 242.13L372.82 242.17L373.53 242.22L374.23 242.27L374.93 242.32L375.36 242.36L375.64 242.38L376.34 242.45L377.04 242.54L377.75 242.63L378.45 242.74L379.15 242.85L379.86 242.97L380.56 243.11L381.26 243.25L381.97 243.39L382.67 243.55L383.37 243.7L384.08 243.86L384.78 244.03L385.48 244.2L386.19 244.37L386.89 244.54L387.59 244.71L388.3 244.89L389 245.06L389.7 245.23L390.41 245.4L391.11 245.56L391.81 245.74L392.52 245.91L393.22 246.09L393.92 246.28L394.63 246.47L395.33 246.68L396.03 246.89L396.74 247.12L397.44 247.37L398.14 247.63L398.85 247.91L399.55 248.21L400.25 248.53L400.96 248.9L401.66 249.36L402.36 249.87L403.07 250.45L403.77 251.08L404.47 251.75L405.18 252.44L405.88 253.16L406.58 253.89L407.29 254.68L407.99 255.56L408.69 256.58L409.4 257.79L410.1 259.06L410.8 261.65L411.51 311.72L411.72 319.9L412.21 321.71L412.91 323.65L413.62 324.97L414.32 325.86L415.02 326.5L415.73 327.08L416.43 327.77L417.13 328.77L417.84 330L418.54 331.26L419.24 332.54L419.95 333.84L420.65 335.12L421.35 336.4L422.06 337.64L422.76 338.87L423.46 340.08L424.17 341.29L424.87 342.48L425.57 343.67L426.28 344.86L426.98 346.04L427.68 347.21L428.39 348.38L429.09 349.56L429.58 350.38L429.79 350.73L430.5 351.93L431.2 353.16L431.9 354.39L432.61 355.63L433.31 356.86L434.01 358.06L434.72 359.22L435.42 360.34L436.12 361.38L436.83 362.36L437.11 362.72L437.53 363.26L438.23 364.15L438.94 365.03L439.64 365.88L440.34 366.71L441.05 367.49L441.75 368.23L442.45 368.9L443.16 369.5L443.86 370.01L444.56 370.44L445.27 370.79L445.97 371.12L446.67 371.42L447.38 371.69L448.08 371.94L448.78 372.18L449.49 372.4L450.19 372.61L450.89 372.81L451.6 373L452.3 373.2L453 373.4L453.71 373.61L454.41 373.82L455.11 374.05L455.82 374.29L456.52 374.55L457.22 374.81L457.93 375.07L458.63 375.33L459.33 375.59L460.04 375.86L460.74 376.13L461.44 376.4L462.15 376.67L462.85 376.94L463.55 377.21L464.26 377.49L464.96 377.76L465.66 378.04L466.37 378.31L467.07 378.59L467.77 378.87L468.48 379.15L469.18 379.43L469.88 379.7L470.59 379.98L471.29 380.26L471.99 380.54L472.7 380.82L473.4 381.1L474.1 381.37L474.74 381.62L474.81 381.65L475.51 381.94L476.21 382.23L476.92 382.54L477.62 382.85L478.32 383.17L479.03 383.49L479.73 383.81L480.43 384.13L481.14 384.45L481.84 384.75L482.54 385.05L483.25 385.34L483.95 385.61L484.65 385.86L485.36 386.1L486.06 386.31L486.76 386.5L487.33 386.64L487.47 386.67L488.17 386.82L488.87 386.97L489.58 387.11L490.28 387.24L490.98 387.37L491.69 387.49L492.39 387.61L493.09 387.72L493.8 387.82L494.5 387.93L495.2 388.02L495.91 388.12L496.61 388.21L497.31 388.29L498.02 388.37L498.72 388.45L499.42 388.52L499.85 388.57L500.13 388.6L500.83 388.66L501.53 388.73L502.24 388.79L502.94 388.85L503.64 388.91L504.35 388.96L505.05 389.01L505.75 389.06L506.46 389.11L507.16 389.16L507.86 389.21L508.57 389.26L509.27 389.3L509.97 389.35L510.68 389.39L511.38 389.44L512.08 389.48L512.79 389.53L513.49 389.58L514.19 389.62L514.9 389.67L515.6 389.72L516.3 389.78L517.01 389.83L517.71 389.88L518.41 389.93L519.12 389.98L519.82 390.03L520.52 390.09L521.23 390.14L521.93 390.19L522.63 390.24L523.34 390.29L524.04 390.34L524.74 390.39L525.45 390.45L526.15 390.5L526.85 390.55L527.56 390.6L528.26 390.65L528.96 390.7L529.67 390.75L530.37 390.81L531.07 390.86L531.78 390.91L532.48 390.96L533.18 391.01L533.89 391.06L534.59 391.11L535.29 391.17L536 391.22L536.28 391.24" fill="none" stroke="#404040" stroke-width="1.05" stroke-linejoin="round"/>
<path d="M536.28 388.74L538.78 391.24L536.28 393.74L533.78 391.24Z" fill="#404040"/><path d="M531.91 388.42L534.41 390.92L531.91 393.42L529.41 390.92Z" fill="#404040"/><path d="M527.54 388.1L530.04 390.6L527.54 393.1L525.04 390.6Z" fill="#404040"/><path d="M523.17 387.78L525.67 390.28L523.17 392.78L520.67 390.28Z" fill="#404040"/><path d="M518.81 387.46L521.31 389.96L518.81 392.46L516.31 389.96Z" fill="#404040"/><path d="M514.44 387.14L516.94 389.64L514.44 392.14L511.94 389.64Z" fill="#404040"/><path d="M510.07 386.85L512.57 389.35L510.07 391.85L507.57 389.35Z" fill="#404040"/><path d="M505.7 386.56L508.2 389.06L505.7 391.56L503.2 389.06Z" fill="#404040"/><path d="M501.34 386.21L503.84 388.71L501.34 391.21L498.84 388.71Z" fill="#404040"/><path d="M496.97 385.75L499.47 388.25L496.97 390.75L494.47 388.25Z" fill="#404040"/><path d="M492.6 385.14L495.1 387.64L492.6 390.14L490.1 387.64Z" fill="#404040"/><path d="M488.23 384.33L490.73 386.83L488.23 389.33L485.73 386.83Z" fill="#404040"/><path d="M483.87 383.08L486.37 385.58L483.87 388.08L481.37 385.58Z" fill="#404040"/><path d="M479.5 381.21L482 383.71L479.5 386.21L477 383.71Z" fill="#404040"/><path d="M475.13 379.28L477.63 381.78L475.13 384.28L472.63 381.78Z" fill="#404040"/><path d="M470.76 377.55L473.26 380.05L470.76 382.55L468.26 380.05Z" fill="#404040"/><path d="M466.39 375.82L468.89 378.32L466.39 380.82L463.89 378.32Z" fill="#404040"/><path d="M462.03 374.12L464.53 376.62L462.03 379.12L459.53 376.62Z" fill="#404040"/><path d="M457.66 372.47L460.16 374.97L457.66 377.47L455.16 374.97Z" fill="#404040"/><path d="M453.29 370.98L455.79 373.48L453.29 375.98L450.79 373.48Z" fill="#404040"/><path d="M448.92 369.72L451.42 372.22L448.92 374.72L446.42 372.22Z" fill="#404040"/><path d="M444.56 367.93L447.06 370.43L444.56 372.93L442.06 370.43Z" fill="#404040"/><path d="M440.19 364.03L442.69 366.53L440.19 369.03L437.69 366.53Z" fill="#404040"/><path d="M435.82 358.44L438.32 360.94L435.82 363.44L433.32 360.94Z" fill="#404040"/><path d="M431.45 351.1L433.95 353.6L431.45 356.1L428.95 353.6Z" fill="#404040"/><path d="M427.09 343.71L429.59 346.21L427.09 348.71L424.59 346.21Z" fill="#404040"/><path d="M422.72 336.3L425.22 338.8L422.72 341.3L420.22 338.8Z" fill="#404040"/><path d="M418.35 328.42L420.85 330.92L418.35 333.42L415.85 330.92Z" fill="#404040"/><path d="M413.98 322.97L416.48 325.47L413.98 327.97L411.48 325.47Z" fill="#404040"/><path d="M409.61 255.67L412.11 258.17L409.61 260.67L407.11 258.17Z" fill="#404040"/><path d="M405.25 250.01L407.75 252.51L405.25 255.01L402.75 252.51Z" fill="#404040"/><path d="M400.88 246.36L403.38 248.86L400.88 251.36L398.38 248.86Z" fill="#404040"/><path d="M396.51 244.55L399.01 247.05L396.51 249.55L394.01 247.05Z" fill="#404040"/><path d="M392.14 243.32L394.64 245.82L392.14 248.32L389.64 245.82Z" fill="#404040"/><path d="M387.78 242.26L390.28 244.76L387.78 247.26L385.28 244.76Z" fill="#404040"/><path d="M383.41 241.21L385.91 243.71L383.41 246.21L380.91 243.71Z" fill="#404040"/><path d="M379.04 240.33L381.54 242.83L379.04 245.33L376.54 242.83Z" fill="#404040"/><path d="M374.67 239.8L377.17 242.3L374.67 244.8L372.17 242.3Z" fill="#404040"/><path d="M370.31 239.52L372.81 242.02L370.31 244.52L367.81 242.02Z" fill="#404040"/><path d="M365.94 239.32L368.44 241.82L365.94 244.32L363.44 241.82Z" fill="#404040"/><path d="M361.57 239.12L364.07 241.62L361.57 244.12L359.07 241.62Z" fill="#404040"/><path d="M357.2 238.89L359.7 241.39L357.2 243.89L354.7 241.39Z" fill="#404040"/><path d="M352.83 238.67L355.33 241.17L352.83 243.67L350.33 241.17Z" fill="#404040"/><path d="M348.47 238.44L350.97 240.94L348.47 243.44L345.97 240.94Z" fill="#404040"/><path d="M344.1 238.21L346.6 240.71L344.1 243.21L341.6 240.71Z" fill="#404040"/><path d="M339.73 237.97L342.23 240.47L339.73 242.97L337.23 240.47Z" fill="#404040"/><path d="M335.36 237.71L337.86 240.21L335.36 242.71L332.86 240.21Z" fill="#404040"/><path d="M331 237.43L333.5 239.93L331 242.43L328.5 239.93Z" fill="#404040"/><path d="M326.63 237.12L329.13 239.62L326.63 242.12L324.13 239.62Z" fill="#404040"/><path d="M322.26 236.78L324.76 239.28L322.26 241.78L319.76 239.28Z" fill="#404040"/><path d="M317.89 236.42L320.39 238.92L317.89 241.42L315.39 238.92Z" fill="#404040"/><path d="M313.53 236.04L316.03 238.54L313.53 241.04L311.03 238.54Z" fill="#404040"/><path d="M309.16 235.65L311.66 238.15L309.16 240.65L306.66 238.15Z" fill="#404040"/><path d="M308.82 235.61L311.32 238.11L308.82 240.61L306.32 238.11Z" fill="#404040"/>
<path d="M308.82 238.11L309.52 238.16L310.23 238.21L310.93 238.26L311.63 238.31L312.34 238.35L313.04 238.4L313.74 238.45L314.45 238.5L315.15 238.54L315.85 238.59L316.56 238.64L317.26 238.68L317.96 238.73L318.67 238.78L319.37 238.82L320.07 238.87L320.78 238.91L321.48 238.96L322.18 239L322.89 239.05L323.59 239.09L324.29 239.14L325 239.18L325.7 239.23L326.4 239.27L327.11 239.32L327.81 239.36L328.51 239.4L329.22 239.45L329.92 239.49L330.62 239.53L331.33 239.57L332.03 239.62L332.73 239.66L333.44 239.7L334.14 239.74L334.84 239.78L335.55 239.82L336.25 239.86L336.95 239.9L337.66 239.94L338.36 239.98L339.06 240.02L339.77 240.06L340.47 240.1L341.17 240.14L341.88 240.18L342.58 240.22L343.28 240.26L343.99 240.3L344.69 240.33L345.39 240.37L346.1 240.41L346.8 240.45L347.5 240.49L348.21 240.52L348.91 240.56L349.61 240.6L350.32 240.64L351.02 240.67L351.72 240.71L352.43 240.75L353.13 240.79L353.83 240.82L354.54 240.86L355.24 240.9L355.94 240.94L356.65 240.97L357.35 241.01L358.05 241.05L358.76 241.09L359.46 241.12L360.16 241.16L360.87 241.2L361.57 241.24L362.27 241.27L362.98 241.31L363.68 241.34L364.38 241.37L365.09 241.4L365.79 241.43L366.49 241.46L367.2 241.49L367.9 241.53L368.6 241.56L369.31 241.59L370.01 241.63L370.71 241.66L371.42 241.7L372.12 241.75L372.82 241.79L373.53 241.84L374.23 241.89L374.93 241.94L375.36 241.97L375.64 242L376.34 242.06L377.04 242.13L377.75 242.22L378.45 242.31L379.15 242.4L379.86 242.51L380.56 242.62L381.26 242.73L381.97 242.85L382.67 242.98L383.37 243.11L384.08 243.25L384.78 243.39L385.48 243.53L386.19 243.68L386.89 243.83L387.59 243.98L388.3 244.13L389 244.29L389.7 244.44L390.41 244.61L391.11 244.77L391.81 244.94L392.52 245.12L393.22 245.31L393.92 245.5L394.63 245.71L395.33 245.92L396.03 246.15L396.74 246.38L397.44 246.63L398.14 246.89L398.85 247.16L399.55 247.45L400.25 247.76L400.96 248.1L401.66 248.49L402.36 248.92L403.07 249.4L403.77 249.91L404.47 250.45L405.18 251.02L405.88 251.62L406.58 252.26L407.29 252.98L407.99 253.77L408.69 254.6L409.4 255.47L410.1 256.16L410.8 257.22L411.01 257.79L411.51 287.65L411.93 311.8L412.21 312.89L412.91 314.31L413.26 314.88L413.62 315.54L414.32 316.74L415.02 317.84L415.73 318.86L416.43 319.86L417.13 320.86L417.84 321.92L418.26 322.6L418.54 323.05L419.24 324.11L419.95 325.1L420.65 326.08L421.35 327.1L422.06 328.23L422.76 329.51L423.46 331.01L424.17 332.78L424.52 333.79L424.87 335.41L425.57 339.62L425.78 340.35L426.28 341.37L426.98 342.62L427.68 343.65L428.39 344.5L429.09 345.2L429.79 345.81L430.5 346.35L431.2 346.88L431.9 347.42L432.61 348.03L433.31 348.73L434.01 349.57L434.58 350.38L434.72 350.6L435.42 351.82L436.12 353.23L436.83 354.78L437.53 356.45L438.23 358.2L438.94 359.99L439.64 361.79L440.34 363.58L441.05 365.31L441.75 366.96L442.1 367.74L442.45 368.5L443.16 370.04L443.86 371.56L444.56 373.05L445.27 374.49L445.97 375.84L446.39 376.61L446.67 377.11L447.38 378.39L448.08 379.66L448.78 380.87L449.49 381.96L450.19 382.87L450.89 383.55L451.6 384.07L452.3 384.52L453 384.93L453.71 385.29L454.41 385.61L455.11 385.91L455.82 386.2L456.52 386.47L457.22 386.74L457.93 387.02L458.63 387.31L459.33 387.63L459.69 387.8L460.04 387.97L460.74 388.33L461.44 388.69L462.15 389.06L462.85 389.43L463.55 389.81L464.26 390.19L464.96 390.57L465.66 390.95L466.37 391.33L467.07 391.71L467.77 392.09L468.48 392.46L469.18 392.83L469.88 393.2L470.59 393.56L471.29 393.91L471.99 394.26L472.7 394.59L473.4 394.92L474.1 395.24L474.74 395.51L474.81 395.54L475.51 395.84L476.21 396.14L476.92 396.45L477.62 396.75L478.32 397.05L479.03 397.34L479.73 397.63L480.43 397.92L481.14 398.2L481.84 398.47L482.54 398.73L483.25 398.97L483.95 399.21L484.65 399.43L485.36 399.64L486.06 399.84L486.76 400.01L487.33 400.14L487.47 400.17L488.17 400.32L488.87 400.46L489.58 400.59L490.28 400.71L490.98 400.83L491.69 400.95L492.39 401.06L493.09 401.16L493.8 401.26L494.5 401.36L495.2 401.45L495.91 401.55L496.61 401.64L497.31 401.73L498.02 401.83L498.72 401.92L499.42 402.01L499.85 402.07L500.13 402.11L500.83 402.2L501.53 402.3L502.24 402.4L502.94 402.49L503.64 402.59L504.35 402.68L505.05 402.78L505.75 402.87L506.46 402.96L507.16 403.05L507.86 403.14L508.57 403.23L509.27 403.31L509.97 403.4L510.68 403.48L511.38 403.56L512.08 403.64L512.79 403.72L513.49 403.79L514.19 403.86L514.9 403.93L515.6 404L516.3 404.06L517.01 404.13L517.71 404.19L518.41 404.25L519.12 404.32L519.82 404.38L520.52 404.44L521.23 404.5L521.93 404.56L522.63 404.62L523.34 404.68L524.04 404.73L524.74 404.79L525.45 404.84L526.15 404.9L526.85 404.95L527.56 405L528.26 405.05L528.96 405.1L529.67 405.15L530.37 405.19L531.07 405.24L531.78 405.28L532.48 405.32L533.18 405.36L533.89 405.4L534.59 405.44L535.29 405.48L536 405.51L536.28 405.52" fill="none" stroke="#f2373a" stroke-width="1.05" stroke-linejoin="round"/>
<circle cx="536.28" cy="405.52" r="2.35" fill="#f2373a"/><circle cx="531.91" cy="405.29" r="2.35" fill="#f2373a"/><circle cx="527.54" cy="405" r="2.35" fill="#f2373a"/><circle cx="523.17" cy="404.66" r="2.35" fill="#f2373a"/><circle cx="518.81" cy="404.29" r="2.35" fill="#f2373a"/><circle cx="514.44" cy="403.89" r="2.35" fill="#f2373a"/><circle cx="510.07" cy="403.41" r="2.35" fill="#f2373a"/><circle cx="505.7" cy="402.86" r="2.35" fill="#f2373a"/><circle cx="501.34" cy="402.27" r="2.35" fill="#f2373a"/><circle cx="496.97" cy="401.69" r="2.35" fill="#f2373a"/><circle cx="492.6" cy="401.09" r="2.35" fill="#f2373a"/><circle cx="488.23" cy="400.33" r="2.35" fill="#f2373a"/><circle cx="483.87" cy="399.18" r="2.35" fill="#f2373a"/><circle cx="479.5" cy="397.54" r="2.35" fill="#f2373a"/><circle cx="475.13" cy="395.68" r="2.35" fill="#f2373a"/><circle cx="470.76" cy="393.65" r="2.35" fill="#f2373a"/><circle cx="466.39" cy="391.34" r="2.35" fill="#f2373a"/><circle cx="462.03" cy="389" r="2.35" fill="#f2373a"/><circle cx="457.66" cy="386.91" r="2.35" fill="#f2373a"/><circle cx="453.29" cy="385.08" r="2.35" fill="#f2373a"/><circle cx="448.92" cy="381.1" r="2.35" fill="#f2373a"/><circle cx="444.56" cy="373.04" r="2.35" fill="#f2373a"/><circle cx="440.19" cy="363.19" r="2.35" fill="#f2373a"/><circle cx="435.82" cy="352.61" r="2.35" fill="#f2373a"/><circle cx="431.45" cy="347.07" r="2.35" fill="#f2373a"/><circle cx="427.09" cy="342.79" r="2.35" fill="#f2373a"/><circle cx="422.72" cy="329.43" r="2.35" fill="#f2373a"/><circle cx="418.35" cy="322.75" r="2.35" fill="#f2373a"/><circle cx="413.98" cy="316.18" r="2.35" fill="#f2373a"/><circle cx="409.61" cy="255.72" r="2.35" fill="#f2373a"/><circle cx="405.25" cy="251.08" r="2.35" fill="#f2373a"/><circle cx="400.88" cy="248.06" r="2.35" fill="#f2373a"/><circle cx="396.51" cy="246.31" r="2.35" fill="#f2373a"/><circle cx="392.14" cy="245.03" r="2.35" fill="#f2373a"/><circle cx="387.78" cy="244.02" r="2.35" fill="#f2373a"/><circle cx="383.41" cy="243.12" r="2.35" fill="#f2373a"/><circle cx="379.04" cy="242.39" r="2.35" fill="#f2373a"/><circle cx="374.67" cy="241.92" r="2.35" fill="#f2373a"/><circle cx="370.31" cy="241.64" r="2.35" fill="#f2373a"/><circle cx="365.94" cy="241.44" r="2.35" fill="#f2373a"/><circle cx="361.57" cy="241.24" r="2.35" fill="#f2373a"/><circle cx="357.2" cy="241" r="2.35" fill="#f2373a"/><circle cx="352.83" cy="240.77" r="2.35" fill="#f2373a"/><circle cx="348.47" cy="240.54" r="2.35" fill="#f2373a"/><circle cx="344.1" cy="240.3" r="2.35" fill="#f2373a"/><circle cx="339.73" cy="240.06" r="2.35" fill="#f2373a"/><circle cx="335.36" cy="239.81" r="2.35" fill="#f2373a"/><circle cx="331" cy="239.55" r="2.35" fill="#f2373a"/><circle cx="326.63" cy="239.29" r="2.35" fill="#f2373a"/><circle cx="322.26" cy="239.01" r="2.35" fill="#f2373a"/><circle cx="317.89" cy="238.73" r="2.35" fill="#f2373a"/><circle cx="313.53" cy="238.44" r="2.35" fill="#f2373a"/><circle cx="309.16" cy="238.14" r="2.35" fill="#f2373a"/><circle cx="308.82" cy="238.11" r="2.35" fill="#f2373a"/>
<path d="M308.82 238.11L309.52 237.95L310.23 237.78L310.93 237.62L311.63 237.46L312.34 237.32L313.04 237.2L313.74 237.1L314.45 237.02L315.15 236.97L315.85 236.96L316.56 236.96L317.26 236.98L317.96 237.01L318.67 237.04L319.37 237.09L320.07 237.14L320.78 237.2L321.48 237.27L322.18 237.34L322.89 237.42L323.59 237.5L324.29 237.58L325 237.67L325.7 237.75L326.4 237.84L327.11 237.92L327.81 238.01L328.51 238.09L329.22 238.17L329.92 238.25L330.62 238.32L331.33 238.39L332.03 238.45L332.73 238.5L333.44 238.55L334.14 238.6L334.84 238.64L335.55 238.69L336.25 238.73L336.95 238.77L337.66 238.81L338.36 238.85L339.06 238.89L339.77 238.93L340.47 238.97L341.17 239.01L341.88 239.04L342.58 239.08L343.28 239.11L343.99 239.15L344.69 239.18L345.39 239.22L346.1 239.25L346.8 239.28L347.5 239.32L348.21 239.35L348.91 239.39L349.61 239.42L350.32 239.45L351.02 239.49L351.72 239.52L352.43 239.56L353.13 239.6L353.83 239.63L354.54 239.67L355.24 239.71L355.94 239.75L356.65 239.78L357.35 239.83L358.05 239.87L358.76 239.91L359.46 239.95L360.16 240L360.87 240.04L361.57 240.09L362.27 240.14L362.98 240.19L363.68 240.24L364.38 240.29L365.09 240.34L365.79 240.39L366.49 240.45L367.2 240.5L367.9 240.56L368.6 240.61L369.31 240.67L370.01 240.73L370.71 240.79L371.42 240.85L372.12 240.91L372.82 240.97L373.53 241.03L374.23 241.1L374.93 241.16L375.36 241.2L375.64 241.23L376.34 241.29L377.04 241.36L377.75 241.43L378.45 241.5L379.15 241.57L379.86 241.64L380.56 241.71L381.26 241.78L381.97 241.86L382.67 241.94L383.37 242.01L384.08 242.1L384.78 242.18L385.48 242.27L386.19 242.36L386.89 242.45L387.59 242.54L388.3 242.64L389 242.74L389.7 242.85L390.41 242.96L391.11 243.07L391.81 243.19L392.52 243.32L393.22 243.44L393.92 243.58L394.63 243.72L395.33 243.86L396.03 244.02L396.74 244.17L397.44 244.34L398.14 244.51L398.85 244.68L399.55 244.87L400.25 245.06L400.96 245.26L401.66 245.49L402.36 245.73L403.07 245.99L403.77 246.27L404.47 246.56L405.18 246.86L405.88 247.17L406.58 247.49L407.29 247.81L407.99 248.14L408.69 248.47L409.4 248.8L410.1 249.16L410.8 249.58L411.51 250.07L412.21 250.57L412.91 251.41L413.19 252L413.62 271.77L414.18 303.31L414.32 304.26L415.02 306.98L415.38 307.94L415.73 308.98L416.43 310.87L417.13 312.57L417.84 314.12L418.54 315.59L419.24 317.01L419.52 317.58L419.95 318.44L420.65 319.87L421.35 321.27L422.06 322.64L422.76 323.96L423.46 325.22L424.17 326.4L424.87 327.5L425.57 328.49L425.78 328.77L426.28 329.38L426.98 330.16L427.68 330.87L428.39 331.53L429.09 332.17L429.79 332.8L430.5 333.46L431.2 334.16L431.9 334.94L432.61 335.83L433.31 336.79L434.01 337.8L434.72 338.81L435.42 339.79L435.84 340.35L436.12 340.7L436.83 341.57L437.53 342.41L438.23 343.23L438.94 344.04L439.64 344.83L440.34 345.63L441.05 346.44L441.75 347.25L442.45 348.09L443.16 348.95L443.37 349.22L443.86 349.85L444.56 350.78L445.27 351.73L445.97 352.7L446.67 353.68L447.38 354.66L448.08 355.63L448.78 356.59L449.49 357.52L449.63 357.71L450.19 358.44L450.89 359.36L451.6 360.27L452.3 361.18L453 362.07L453.71 362.95L454.41 363.8L455.11 364.63L455.82 365.42L456.52 366.22L457.22 367.05L457.93 367.83L458.63 368.53L459.33 369.08L459.69 369.28L460.04 369.45L460.74 369.77L461.44 370.05L462.15 370.32L462.85 370.56L463.55 370.78L464.26 370.98L464.96 371.16L465.66 371.33L466.37 371.5L467.07 371.65L467.77 371.8L468.48 371.95L469.18 372.09L469.88 372.24L470.59 372.39L471.29 372.55L471.99 372.72L472.7 372.9L473.4 373.1L474.1 373.31L474.74 373.52L474.81 373.55L475.51 373.8L476.21 374.07L476.92 374.35L477.62 374.65L478.32 374.95L479.03 375.26L479.73 375.58L480.43 375.9L481.14 376.22L481.84 376.54L482.54 376.85L483.25 377.17L483.95 377.47L484.65 377.77L485.36 378.06L486.06 378.37L486.76 378.68L487.47 379L488.17 379.33L488.87 379.65L489.58 379.98L490.28 380.3L490.98 380.61L491.69 380.92L492.39 381.21L493.09 381.5L493.8 381.76L494.5 382.01L495.2 382.24L495.91 382.45L496.61 382.63L497.31 382.78L498.02 382.92L498.72 383.05L499.42 383.18L500.13 383.3L500.83 383.42L501.53 383.53L502.24 383.64L502.94 383.74L503.64 383.85L504.35 383.94L505.05 384.04L505.75 384.13L506.46 384.21L507.16 384.3L507.86 384.38L508.57 384.46L509.27 384.53L509.97 384.6L510.68 384.67L511.38 384.74L512.08 384.8L512.79 384.86L513.49 384.93L514.19 384.98L514.9 385.04L515.6 385.1L516.3 385.15L517.01 385.2L517.71 385.26L518.41 385.31L519.12 385.36L519.82 385.41L520.52 385.46L521.23 385.51L521.93 385.56L522.63 385.61L523.34 385.66L524.04 385.7L524.74 385.75L525.45 385.79L526.15 385.83L526.85 385.88L527.56 385.91L528.26 385.95L528.96 385.99L529.67 386.02L530.37 386.05L531.07 386.09L531.78 386.11L532.48 386.14L533.18 386.16L533.89 386.19L534.59 386.21L535.29 386.22L536 386.24L536.28 386.25" fill="none" stroke="#1f63e8" stroke-width="1.05" stroke-linejoin="round"/>
<path d="M536.28 383.65L538.67 387.86L533.89 387.86Z" fill="#1f63e8"/><path d="M531.91 383.52L534.3 387.73L529.52 387.73Z" fill="#1f63e8"/><path d="M527.54 383.31L529.93 387.53L525.15 387.53Z" fill="#1f63e8"/><path d="M523.17 383.05L525.57 387.26L520.78 387.26Z" fill="#1f63e8"/><path d="M518.81 382.74L521.2 386.95L516.42 386.95Z" fill="#1f63e8"/><path d="M514.44 382.4L516.83 386.62L512.05 386.62Z" fill="#1f63e8"/><path d="M510.07 382.01L512.46 386.22L507.68 386.22Z" fill="#1f63e8"/><path d="M505.7 381.52L508.1 385.73L503.31 385.73Z" fill="#1f63e8"/><path d="M501.34 380.9L503.73 385.11L498.94 385.11Z" fill="#1f63e8"/><path d="M496.97 380.11L499.36 384.32L494.58 384.32Z" fill="#1f63e8"/><path d="M492.6 378.7L494.99 382.91L490.21 382.91Z" fill="#1f63e8"/><path d="M488.23 376.76L490.63 380.97L485.84 380.97Z" fill="#1f63e8"/><path d="M483.87 374.83L486.26 379.05L481.47 379.05Z" fill="#1f63e8"/><path d="M479.5 372.87L481.89 377.08L477.11 377.08Z" fill="#1f63e8"/><path d="M475.13 371.06L477.52 375.27L472.74 375.27Z" fill="#1f63e8"/><path d="M470.76 369.83L473.15 374.04L468.37 374.04Z" fill="#1f63e8"/><path d="M466.39 368.9L468.79 373.12L464 373.12Z" fill="#1f63e8"/><path d="M462.03 367.67L464.42 371.89L459.64 371.89Z" fill="#1f63e8"/><path d="M457.66 364.94L460.05 369.15L455.27 369.15Z" fill="#1f63e8"/><path d="M453.29 359.84L455.68 364.05L450.9 364.05Z" fill="#1f63e8"/><path d="M448.92 354.18L451.32 358.39L446.53 358.39Z" fill="#1f63e8"/><path d="M444.56 348.17L446.95 352.38L442.16 352.38Z" fill="#1f63e8"/><path d="M440.19 342.86L442.58 347.07L437.8 347.07Z" fill="#1f63e8"/><path d="M435.82 337.72L438.21 341.93L433.43 341.93Z" fill="#1f63e8"/><path d="M431.45 331.83L433.85 336.05L429.06 336.05Z" fill="#1f63e8"/><path d="M427.09 327.67L429.48 331.89L424.69 331.89Z" fill="#1f63e8"/><path d="M422.72 321.28L425.11 325.49L420.33 325.49Z" fill="#1f63e8"/><path d="M418.35 312.6L420.74 316.81L415.96 316.81Z" fill="#1f63e8"/><path d="M413.98 294.52L416.37 298.73L411.59 298.73Z" fill="#1f63e8"/><path d="M409.61 246.31L412.01 250.52L407.22 250.52Z" fill="#1f63e8"/><path d="M405.25 244.29L407.64 248.5L402.85 248.5Z" fill="#1f63e8"/><path d="M400.88 242.64L403.27 246.85L398.49 246.85Z" fill="#1f63e8"/><path d="M396.51 241.52L398.9 245.73L394.12 245.73Z" fill="#1f63e8"/><path d="M392.14 240.65L394.54 244.86L389.75 244.86Z" fill="#1f63e8"/><path d="M387.78 239.97L390.17 244.18L385.38 244.18Z" fill="#1f63e8"/><path d="M383.41 239.42L385.8 243.63L381.02 243.63Z" fill="#1f63e8"/><path d="M379.04 238.95L381.43 243.17L376.65 243.17Z" fill="#1f63e8"/><path d="M374.67 238.54L377.07 242.75L372.28 242.75Z" fill="#1f63e8"/><path d="M370.31 238.15L372.7 242.36L367.91 242.36Z" fill="#1f63e8"/><path d="M365.94 237.8L368.33 242.02L363.55 242.02Z" fill="#1f63e8"/><path d="M361.57 237.49L363.96 241.7L359.18 241.7Z" fill="#1f63e8"/><path d="M357.2 237.22L359.59 241.43L354.81 241.43Z" fill="#1f63e8"/><path d="M352.83 236.98L355.23 241.19L350.44 241.19Z" fill="#1f63e8"/><path d="M348.47 236.76L350.86 240.98L346.07 240.98Z" fill="#1f63e8"/><path d="M344.1 236.55L346.49 240.77L341.71 240.77Z" fill="#1f63e8"/><path d="M339.73 236.33L342.12 240.54L337.34 240.54Z" fill="#1f63e8"/><path d="M335.36 236.07L337.76 240.29L332.97 240.29Z" fill="#1f63e8"/><path d="M331 235.76L333.39 239.97L328.6 239.97Z" fill="#1f63e8"/><path d="M326.63 235.27L329.02 239.48L324.24 239.48Z" fill="#1f63e8"/><path d="M322.26 234.75L324.65 238.96L319.87 238.96Z" fill="#1f63e8"/><path d="M317.89 234.4L320.28 238.62L315.5 238.62Z" fill="#1f63e8"/><path d="M313.53 234.53L315.92 238.74L311.13 238.74Z" fill="#1f63e8"/><path d="M309.16 235.43L311.55 239.65L306.77 239.65Z" fill="#1f63e8"/><path d="M308.82 235.51L311.21 239.73L306.43 239.73Z" fill="#1f63e8"/>
<path d="M308.82 238.11L309.52 237.76L310.23 237.4L310.93 237.05L311.63 236.71L312.34 236.4L313.04 236.12L313.74 235.87L314.45 235.67L315.15 235.52L315.85 235.44L316.42 235.41L316.56 235.41L317.26 235.42L317.96 235.45L318.67 235.49L319.37 235.54L320.07 235.6L320.78 235.67L321.48 235.75L322.18 235.84L322.89 235.93L323.59 236.03L324.29 236.13L325 236.24L325.7 236.35L326.4 236.46L327.11 236.57L327.81 236.69L328.51 236.79L329.22 236.9L329.92 237L330.62 237.1L331.33 237.19L332.03 237.27L332.73 237.34L333.44 237.41L334.14 237.48L334.84 237.54L335.55 237.61L336.25 237.67L336.95 237.73L337.66 237.79L338.36 237.85L339.06 237.91L339.77 237.97L340.47 238.03L341.17 238.08L341.88 238.14L342.58 238.19L343.28 238.25L343.99 238.3L344.69 238.36L345.39 238.41L346.1 238.46L346.8 238.52L347.5 238.57L348.21 238.62L348.91 238.67L349.61 238.73L350.32 238.78L351.02 238.83L351.72 238.89L352.43 238.94L353.13 239L353.83 239.05L354.54 239.11L355.24 239.17L355.94 239.22L356.65 239.28L357.35 239.34L358.05 239.4L358.76 239.46L359.46 239.53L360.16 239.59L360.87 239.66L361.57 239.72L362.27 239.79L362.98 239.86L363.68 239.93L364.38 240L365.09 240.08L365.79 240.15L366.49 240.23L367.2 240.3L367.9 240.38L368.6 240.45L369.31 240.53L370.01 240.61L370.71 240.69L371.42 240.76L372.12 240.84L372.82 240.92L373.53 241L374.23 241.08L374.93 241.15L375.36 241.2L375.64 241.23L376.34 241.31L377.04 241.38L377.75 241.46L378.45 241.54L379.15 241.61L379.86 241.69L380.56 241.77L381.26 241.85L381.97 241.92L382.67 242L383.37 242.08L384.08 242.16L384.78 242.24L385.48 242.32L386.19 242.4L386.89 242.49L387.59 242.57L388.3 242.66L389 242.74L389.7 242.83L390.41 242.92L391.11 243L391.81 243.09L392.52 243.17L393.22 243.26L393.92 243.35L394.63 243.44L395.33 243.53L396.03 243.62L396.74 243.72L397.44 243.83L398.14 243.93L398.85 244.05L399.55 244.16L400.25 244.29L400.96 244.42L401.66 244.57L402.36 244.72L403.07 244.89L403.77 245.07L404.47 245.25L405.18 245.44L405.88 245.63L406.58 245.83L407.29 246.02L407.99 246.22L408.69 246.4L409.4 246.58L410.1 246.76L410.8 246.95L411.51 247.14L412.21 247.35L412.91 247.58L413.62 247.85L414.32 248.14L415.02 248.47L415.73 248.81L416.43 249.22L417.13 249.71L417.84 250.31L418.54 251.05L419.24 251.97L419.52 252.39L419.95 253.48L420.65 256.8L421.35 261.05L421.71 263.19L422.06 265.29L422.76 269.68L423.46 274.45L424.17 279.8L424.87 285.89L425.57 292.91L425.64 293.67L426.28 302.9L426.98 315.64L427.61 325.3L427.68 326.12L428.39 333.27L428.6 334.94L429.09 338.36L429.79 341.89L430.5 344L431.2 345.72L431.9 347.16L432.61 348.39L433.31 349.51L434.01 350.61L434.58 351.53L434.72 351.77L435.42 352.96L436.12 354.12L436.83 355.25L437.53 356.35L438.23 357.41L438.94 358.45L439.64 359.46L440.34 360.44L441.05 361.38L441.75 362.29L442.45 363.17L443.16 364.02L443.37 364.26L443.86 364.82L444.56 365.56L445.27 366.26L445.97 366.93L446.67 367.58L447.38 368.23L448.08 368.89L448.78 369.57L449.49 370.29L449.63 370.44L450.19 371.03L450.89 371.78L451.6 372.53L452.3 373.31L453 374.12L453.71 374.99L454.41 375.93L454.62 376.22L455.11 376.99L455.82 378.27L456.52 379.69L457.22 381.16L457.93 382.6L458.63 383.92L459.33 385.03L459.69 385.48L460.04 385.88L460.74 386.65L461.44 387.36L462.15 388.02L462.85 388.64L463.55 389.22L464.26 389.76L464.96 390.26L465.66 390.73L466.37 391.17L467.07 391.58L467.21 391.65L467.77 391.96L468.48 392.32L469.18 392.66L469.88 392.98L470.59 393.28L471.29 393.57L471.99 393.85L472.7 394.12L473.4 394.38L474.1 394.63L474.81 394.88L475.51 395.13L476.21 395.37L476.92 395.62L477.62 395.87L478.32 396.13L479.03 396.39L479.73 396.67L480.43 396.95L481.14 397.23L481.84 397.52L482.54 397.8L483.25 398.09L483.95 398.37L484.65 398.65L485.36 398.94L486.06 399.22L486.76 399.51L487.47 399.79L488.17 400.07L488.87 400.35L489.58 400.62L490.28 400.9L490.98 401.17L491.69 401.44L492.32 401.68L492.39 401.71L493.09 401.98L493.8 402.26L494.5 402.54L495.2 402.82L495.91 403.11L496.61 403.4L497.31 403.69L498.02 403.97L498.72 404.26L499.42 404.54L500.13 404.81L500.83 405.08L501.53 405.35L502.24 405.6L502.94 405.85L503.64 406.08L504.35 406.3L505.05 406.51L505.75 406.71L506.46 406.89L507.16 407.05L507.3 407.08L507.86 407.2L508.57 407.35L509.27 407.49L509.97 407.63L510.68 407.76L511.38 407.89L512.08 408.01L512.79 408.13L513.49 408.24L514.19 408.35L514.9 408.46L515.6 408.56L516.3 408.66L517.01 408.76L517.71 408.85L518.41 408.94L519.12 409.03L519.82 409.12L520.52 409.2L521.23 409.28L521.93 409.35L522.35 409.4L522.63 409.43L523.34 409.5L524.04 409.57L524.74 409.65L525.45 409.72L526.15 409.78L526.85 409.85L527.56 409.91L528.26 409.98L528.96 410.04L529.67 410.1L530.37 410.16L531.07 410.21L531.78 410.26L532.48 410.31L533.18 410.36L533.89 410.41L534.59 410.45L535.29 410.49L536 410.52L536.28 410.54" fill="none" stroke="#25a558" stroke-width="1.05" stroke-linejoin="round"/>
<path d="M536.28 407.84L536.94 409.62L538.85 409.7L537.36 410.89L537.87 412.72L536.28 411.67L534.69 412.72L535.2 410.89L533.71 409.7L535.61 409.62Z" fill="#25a558"/><path d="M531.91 407.57L532.58 409.36L534.48 409.44L532.99 410.62L533.5 412.46L531.91 411.41L530.32 412.46L530.83 410.62L529.34 409.44L531.24 409.36Z" fill="#25a558"/><path d="M527.54 407.21L528.21 409L530.11 409.08L528.62 410.26L529.13 412.1L527.54 411.05L525.96 412.1L526.46 410.26L524.97 409.08L526.88 409Z" fill="#25a558"/><path d="M523.17 406.79L523.84 408.57L525.74 408.65L524.25 409.84L524.76 411.67L523.17 410.62L521.59 411.67L522.1 409.84L520.61 408.65L522.51 408.57Z" fill="#25a558"/><path d="M518.81 406.29L519.47 408.08L521.38 408.16L519.89 409.34L520.39 411.18L518.81 410.13L517.22 411.18L517.73 409.34L516.24 408.16L518.14 408.08Z" fill="#25a558"/><path d="M514.44 405.69L515.11 407.47L517.01 407.56L515.52 408.74L516.03 410.58L514.44 409.52L512.85 410.58L513.36 408.74L511.87 407.56L513.77 407.47Z" fill="#25a558"/><path d="M510.07 404.95L510.74 406.73L512.64 406.81L511.15 408L511.66 409.83L510.07 408.78L508.48 409.83L508.99 408L507.5 406.81L509.41 406.73Z" fill="#25a558"/><path d="M505.7 404L506.37 405.78L508.27 405.86L506.78 407.05L507.29 408.88L505.7 407.83L504.12 408.88L504.63 407.05L503.14 405.86L505.04 405.78Z" fill="#25a558"/><path d="M501.34 402.57L502 404.36L503.9 404.44L502.41 405.62L502.92 407.46L501.34 406.41L499.75 407.46L500.26 405.62L498.77 404.44L500.67 404.36Z" fill="#25a558"/><path d="M496.97 400.85L497.64 402.63L499.54 402.71L498.05 403.9L498.56 405.73L496.97 404.68L495.38 405.73L495.89 403.9L494.4 402.71L496.3 402.63Z" fill="#25a558"/><path d="M492.6 399.09L493.27 400.87L495.17 400.96L493.68 402.14L494.19 403.98L492.6 402.93L491.01 403.98L491.52 402.14L490.03 400.96L491.93 400.87Z" fill="#25a558"/><path d="M488.23 397.39L488.9 399.18L490.8 399.26L489.31 400.44L489.82 402.28L488.23 401.23L486.65 402.28L487.15 400.44L485.67 399.26L487.57 399.18Z" fill="#25a558"/><path d="M483.87 395.64L484.53 397.42L486.43 397.5L484.94 398.69L485.45 400.52L483.87 399.47L482.28 400.52L482.79 398.69L481.3 397.5L483.2 397.42Z" fill="#25a558"/><path d="M479.5 393.88L480.16 395.66L482.07 395.74L480.58 396.93L481.08 398.76L479.5 397.71L477.91 398.76L478.42 396.93L476.93 395.74L478.83 395.66Z" fill="#25a558"/><path d="M475.13 392.29L475.8 394.08L477.7 394.16L476.21 395.34L476.72 397.18L475.13 396.13L473.54 397.18L474.05 395.34L472.56 394.16L474.46 394.08Z" fill="#25a558"/><path d="M470.76 390.66L471.43 392.44L473.33 392.52L471.84 393.71L472.35 395.54L470.76 394.49L469.18 395.54L469.68 393.71L468.19 392.52L470.1 392.44Z" fill="#25a558"/><path d="M466.39 388.48L467.06 390.27L468.96 390.35L467.47 391.53L467.98 393.37L466.39 392.32L464.81 393.37L465.32 391.53L463.83 390.35L465.73 390.27Z" fill="#25a558"/><path d="M462.03 385.21L462.69 387L464.59 387.08L463.11 388.27L463.61 390.1L462.03 389.05L460.44 390.1L460.95 388.27L459.46 387.08L461.36 387Z" fill="#25a558"/><path d="M457.66 379.36L458.33 381.15L460.23 381.23L458.74 382.42L459.25 384.25L457.66 383.2L456.07 384.25L456.58 382.42L455.09 381.23L456.99 381.15Z" fill="#25a558"/><path d="M453.29 371.77L453.96 373.56L455.86 373.64L454.37 374.82L454.88 376.66L453.29 375.61L451.7 376.66L452.21 374.82L450.72 373.64L452.63 373.56Z" fill="#25a558"/><path d="M448.92 367.01L449.59 368.79L451.49 368.87L450 370.06L450.51 371.89L448.92 370.84L447.34 371.89L447.85 370.06L446.36 368.87L448.26 368.79Z" fill="#25a558"/><path d="M444.56 362.86L445.22 364.64L447.12 364.72L445.63 365.91L446.14 367.74L444.56 366.69L442.97 367.74L443.48 365.91L441.99 364.72L443.89 364.64Z" fill="#25a558"/><path d="M440.19 357.53L440.86 359.31L442.76 359.39L441.27 360.58L441.78 362.41L440.19 361.36L438.6 362.41L439.11 360.58L437.62 359.39L439.52 359.31Z" fill="#25a558"/><path d="M435.82 350.92L436.49 352.7L438.39 352.79L436.9 353.97L437.41 355.81L435.82 354.76L434.23 355.81L434.74 353.97L433.25 352.79L435.15 352.7Z" fill="#25a558"/><path d="M431.45 343.57L432.12 345.35L434.02 345.43L432.53 346.62L433.04 348.45L431.45 347.4L429.87 348.45L430.37 346.62L428.89 345.43L430.79 345.35Z" fill="#25a558"/><path d="M427.09 314.78L427.75 316.56L429.65 316.65L428.16 317.83L428.67 319.66L427.09 318.61L425.5 319.66L426.01 317.83L424.52 316.65L426.42 316.56Z" fill="#25a558"/><path d="M422.72 266.7L423.38 268.49L425.29 268.57L423.8 269.75L424.3 271.59L422.72 270.54L421.13 271.59L421.64 269.75L420.15 268.57L422.05 268.49Z" fill="#25a558"/><path d="M418.35 248.14L419.02 249.92L420.92 250L419.43 251.19L419.94 253.02L418.35 251.97L416.76 253.02L417.27 251.19L415.78 250L417.68 249.92Z" fill="#25a558"/><path d="M413.98 245.3L414.65 247.08L416.55 247.16L415.06 248.35L415.57 250.18L413.98 249.13L412.4 250.18L412.9 248.35L411.41 247.16L413.32 247.08Z" fill="#25a558"/><path d="M409.61 243.94L410.28 245.72L412.18 245.8L410.69 246.99L411.2 248.82L409.61 247.77L408.03 248.82L408.54 246.99L407.05 245.8L408.95 245.72Z" fill="#25a558"/><path d="M405.25 242.76L405.91 244.54L407.81 244.62L406.33 245.81L406.83 247.64L405.25 246.59L403.66 247.64L404.17 245.81L402.68 244.62L404.58 244.54Z" fill="#25a558"/><path d="M400.88 241.7L401.55 243.49L403.45 243.57L401.96 244.76L402.47 246.59L400.88 245.54L399.29 246.59L399.8 244.76L398.31 243.57L400.21 243.49Z" fill="#25a558"/><path d="M396.51 240.99L397.18 242.77L399.08 242.86L397.59 244.04L398.1 245.88L396.51 244.83L394.92 245.88L395.43 244.04L393.94 242.86L395.85 242.77Z" fill="#25a558"/><path d="M392.14 240.43L392.81 242.21L394.71 242.29L393.22 243.48L393.73 245.31L392.14 244.26L390.56 245.31L391.07 243.48L389.58 242.29L391.48 242.21Z" fill="#25a558"/><path d="M387.78 239.89L388.44 241.68L390.34 241.76L388.85 242.94L389.36 244.78L387.78 243.73L386.19 244.78L386.7 242.94L385.21 241.76L387.11 241.68Z" fill="#25a558"/><path d="M383.41 239.38L384.08 241.17L385.98 241.25L384.49 242.44L385 244.27L383.41 243.22L381.82 244.27L382.33 242.44L380.84 241.25L382.74 241.17Z" fill="#25a558"/><path d="M379.04 238.9L379.71 240.69L381.61 240.77L380.12 241.95L380.63 243.79L379.04 242.74L377.45 243.79L377.96 241.95L376.47 240.77L378.37 240.69Z" fill="#25a558"/><path d="M374.67 238.43L375.34 240.21L377.24 240.29L375.75 241.48L376.26 243.31L374.67 242.26L373.09 243.31L373.59 241.48L372.11 240.29L374.01 240.21Z" fill="#25a558"/><path d="M370.31 237.94L370.97 239.72L372.87 239.81L371.38 240.99L371.89 242.83L370.31 241.78L368.72 242.83L369.23 240.99L367.74 239.81L369.64 239.72Z" fill="#25a558"/><path d="M365.94 237.47L366.6 239.25L368.51 239.33L367.02 240.52L367.52 242.35L365.94 241.3L364.35 242.35L364.86 240.52L363.37 239.33L365.27 239.25Z" fill="#25a558"/><path d="M361.57 237.02L362.24 238.81L364.14 238.89L362.65 240.07L363.16 241.91L361.57 240.86L359.98 241.91L360.49 240.07L359 238.89L360.9 238.81Z" fill="#25a558"/><path d="M357.2 236.63L357.87 238.41L359.77 238.5L358.28 239.68L358.79 241.51L357.2 240.46L355.62 241.51L356.12 239.68L354.63 238.5L356.54 238.41Z" fill="#25a558"/><path d="M352.83 236.27L353.5 238.06L355.4 238.14L353.91 239.33L354.42 241.16L352.83 240.11L351.25 241.16L351.76 239.33L350.27 238.14L352.17 238.06Z" fill="#25a558"/><path d="M348.47 235.94L349.13 237.72L351.03 237.81L349.55 238.99L350.05 240.83L348.47 239.78L346.88 240.83L347.39 238.99L345.9 237.81L347.8 237.72Z" fill="#25a558"/><path d="M344.1 235.61L344.77 237.39L346.67 237.48L345.18 238.66L345.69 240.5L344.1 239.45L342.51 240.5L343.02 238.66L341.53 237.48L343.43 237.39Z" fill="#25a558"/><path d="M339.73 235.27L340.4 237.05L342.3 237.13L340.81 238.32L341.32 240.15L339.73 239.1L338.14 240.15L338.65 238.32L337.16 237.13L339.06 237.05Z" fill="#25a558"/><path d="M335.36 234.89L336.03 236.67L337.93 236.76L336.44 237.94L336.95 239.78L335.36 238.73L333.78 239.78L334.29 237.94L332.8 236.76L334.7 236.67Z" fill="#25a558"/><path d="M331 234.44L331.66 236.23L333.56 236.31L332.07 237.5L332.58 239.33L331 238.28L329.41 239.33L329.92 237.5L328.43 236.31L330.33 236.23Z" fill="#25a558"/><path d="M326.63 233.8L327.29 235.58L329.2 235.66L327.71 236.85L328.22 238.68L326.63 237.63L325.04 238.68L325.55 236.85L324.06 235.66L325.96 235.58Z" fill="#25a558"/><path d="M322.26 233.15L322.93 234.93L324.83 235.01L323.34 236.2L323.85 238.03L322.26 236.98L320.67 238.03L321.18 236.2L319.69 235.01L321.59 234.93Z" fill="#25a558"/><path d="M317.89 232.75L318.56 234.53L320.46 234.61L318.97 235.8L319.48 237.63L317.89 236.58L316.31 237.63L316.81 235.8L315.33 234.61L317.23 234.53Z" fill="#25a558"/><path d="M313.53 233.24L314.19 235.03L316.09 235.11L314.6 236.3L315.11 238.13L313.53 237.08L311.94 238.13L312.45 236.3L310.96 235.11L312.86 235.03Z" fill="#25a558"/><path d="M309.16 235.24L309.82 237.03L311.73 237.11L310.24 238.29L310.74 240.13L309.16 239.08L307.57 240.13L308.08 238.29L306.59 237.11L308.49 237.03Z" fill="#25a558"/><path d="M308.82 235.41L309.49 237.2L311.39 237.28L309.9 238.46L310.41 240.3L308.82 239.25L307.23 240.3L307.74 238.46L306.25 237.28L308.15 237.2Z" fill="#25a558"/>
<rect x="324.2" y="362.3" width="47.1" height="42.4" fill="#fff" stroke="#6a6a6a" stroke-width="0.8"/>
<g font-size="8.1" font-weight="bold" fill="#2e2e2e" stroke="#2e2e2e" stroke-width="0.15">
<path d="M325 368.3h13" stroke="#404040" stroke-width="1.05"/>
<path d="M331.6 366.25L333.65 368.3L331.6 370.35L329.55 368.3Z" fill="#404040"/>
<text x="338" y="371.1">3 K/min</text>
<path d="M325 378.8h13" stroke="#f2373a" stroke-width="1.05"/>
<circle cx="331.6" cy="378.8" r="1.93" fill="#f2373a"/>
<text x="338" y="381.6">5 K/min</text>
<path d="M325 389.3h13" stroke="#1f63e8" stroke-width="1.05"/>
<path d="M331.6 387.17L333.56 390.62L329.64 390.62Z" fill="#1f63e8"/>
<text x="338" y="392.1">10 K/min</text>
<path d="M325 399.8h13" stroke="#25a558" stroke-width="1.05"/>
<path d="M331.6 397.59L332.15 399.05L333.71 399.12L332.48 400.09L332.9 401.59L331.6 400.73L330.3 401.59L330.72 400.09L329.49 399.12L331.05 399.05Z" fill="#25a558"/>
<text x="338" y="402.6">15 K/min</text>
</g>
</g>
</svg>
</body>
</html>
